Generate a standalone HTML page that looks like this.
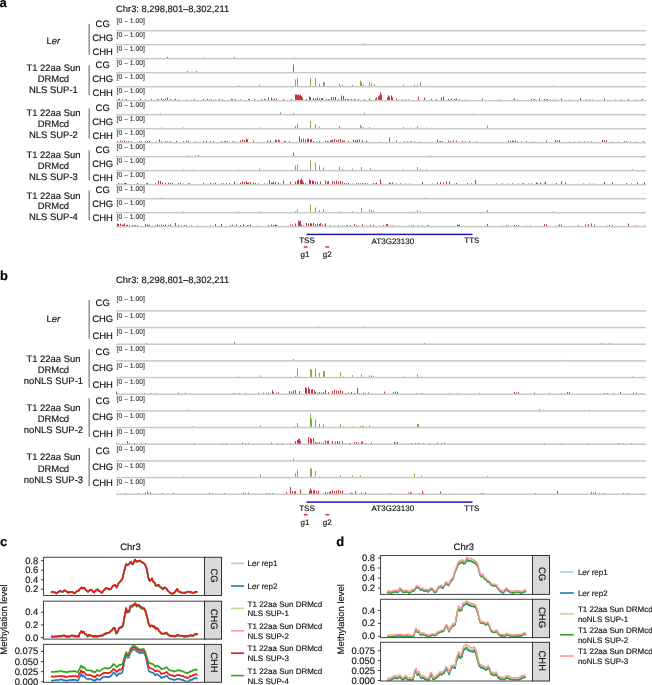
<!DOCTYPE html>
<html><head><meta charset="utf-8"><title>Figure</title>
<style>
html,body{margin:0;padding:0;background:#fff;}
body{width:652px;height:685px;overflow:hidden;}
svg{display:block;font-family:'Liberation Sans', Arial, Helvetica, sans-serif;text-rendering:geometricPrecision;}
</style></head><body>
<svg width="652" height="685" viewBox="0 0 652 685">
<rect width="652" height="685" fill="#fff"/>
<text x="-0.40" y="6.60" font-size="13" text-anchor="start" font-weight="bold" fill="#000" stroke="#000" stroke-width="0.15" >a</text>
<text x="0.00" y="279.60" font-size="13" text-anchor="start" font-weight="bold" fill="#000" stroke="#000" stroke-width="0.15" >b</text>
<text x="0.00" y="546.20" font-size="13" text-anchor="start" font-weight="bold" fill="#000" stroke="#000" stroke-width="0.15" >c</text>
<text x="336.20" y="546.20" font-size="13" text-anchor="start" font-weight="bold" fill="#000" stroke="#000" stroke-width="0.15" >d</text>
<text x="116.10" y="12.00" font-size="9.35" text-anchor="start" font-weight="normal" fill="#111" stroke="#111" stroke-width="0.15" >Chr3: 8,298,801–8,302,211</text>
<rect x="363.05" y="43.50" width="0.9" height="1.00" fill="#72ac26"/>
<rect x="167.05" y="57.00" width="0.9" height="1.50" fill="#c0222a"/>
<rect x="203.05" y="57.50" width="0.9" height="1.00" fill="#c0222a"/>
<rect x="234.05" y="57.00" width="0.9" height="1.50" fill="#c0222a"/>
<rect x="294.05" y="57.50" width="0.9" height="1.00" fill="#c0222a"/>
<rect x="187.05" y="71.00" width="0.9" height="1.50" fill="#1d8282"/>
<rect x="196.05" y="71.00" width="0.9" height="1.50" fill="#1d8282"/>
<rect x="293.05" y="64.50" width="0.9" height="8.00" fill="#1d8282"/>
<rect x="238.05" y="85.00" width="0.9" height="1.50" fill="#72ac26"/>
<rect x="259.05" y="84.50" width="0.9" height="2.00" fill="#72ac26"/>
<rect x="295.05" y="79.50" width="0.9" height="7.00" fill="#72ac26"/>
<rect x="297.05" y="78.00" width="0.9" height="8.50" fill="#72ac26"/>
<rect x="310.05" y="78.00" width="0.9" height="8.50" fill="#72ac26"/>
<rect x="315.05" y="78.00" width="0.9" height="8.50" fill="#72ac26"/>
<rect x="319.05" y="84.00" width="0.9" height="2.50" fill="#72ac26"/>
<rect x="323.05" y="81.50" width="0.9" height="5.00" fill="#72ac26"/>
<rect x="324.05" y="82.50" width="0.9" height="4.00" fill="#72ac26"/>
<rect x="339.05" y="83.50" width="0.9" height="3.00" fill="#72ac26"/>
<rect x="342.05" y="84.80" width="0.9" height="1.70" fill="#72ac26"/>
<rect x="352.05" y="84.80" width="0.9" height="1.70" fill="#72ac26"/>
<rect x="360.05" y="80.50" width="0.9" height="6.00" fill="#72ac26"/>
<rect x="361.05" y="82.50" width="0.9" height="4.00" fill="#72ac26"/>
<rect x="363.05" y="84.80" width="0.9" height="1.70" fill="#72ac26"/>
<rect x="369.05" y="81.70" width="0.9" height="4.80" fill="#72ac26"/>
<rect x="371.05" y="82.80" width="0.9" height="3.70" fill="#72ac26"/>
<rect x="374.05" y="84.00" width="0.9" height="2.50" fill="#72ac26"/>
<rect x="403.05" y="84.50" width="0.9" height="2.00" fill="#72ac26"/>
<rect x="414.05" y="84.50" width="0.9" height="2.00" fill="#72ac26"/>
<rect x="417.05" y="84.50" width="0.9" height="2.00" fill="#72ac26"/>
<rect x="420.05" y="82.50" width="0.9" height="4.00" fill="#72ac26"/>
<rect x="426.05" y="85.50" width="0.9" height="1.00" fill="#72ac26"/>
<rect x="553.05" y="85.50" width="0.9" height="1.00" fill="#72ac26"/>
<rect x="118.05" y="99.00" width="0.9" height="1.50" fill="#c0222a"/>
<rect x="122.05" y="99.30" width="0.9" height="1.20" fill="#c0222a"/>
<rect x="126.05" y="99.00" width="0.9" height="1.50" fill="#c0222a"/>
<rect x="145.05" y="99.30" width="0.9" height="1.20" fill="#c0222a"/>
<rect x="157.05" y="99.00" width="0.9" height="1.50" fill="#c0222a"/>
<rect x="161.05" y="98.50" width="0.9" height="2.00" fill="#c0222a"/>
<rect x="163.05" y="99.00" width="0.9" height="1.50" fill="#c0222a"/>
<rect x="165.05" y="98.50" width="0.9" height="2.00" fill="#c0222a"/>
<rect x="167.05" y="97.50" width="0.9" height="3.00" fill="#c0222a"/>
<rect x="178.05" y="99.30" width="0.9" height="1.20" fill="#c0222a"/>
<rect x="194.05" y="99.00" width="0.9" height="1.50" fill="#c0222a"/>
<rect x="203.05" y="99.00" width="0.9" height="1.50" fill="#c0222a"/>
<rect x="211.05" y="99.30" width="0.9" height="1.20" fill="#c0222a"/>
<rect x="219.05" y="99.00" width="0.9" height="1.50" fill="#c0222a"/>
<rect x="222.05" y="99.30" width="0.9" height="1.20" fill="#c0222a"/>
<rect x="232.05" y="99.00" width="0.9" height="1.50" fill="#c0222a"/>
<rect x="240.05" y="99.30" width="0.9" height="1.20" fill="#c0222a"/>
<rect x="248.05" y="99.00" width="0.9" height="1.50" fill="#c0222a"/>
<rect x="254.05" y="99.00" width="0.9" height="1.50" fill="#c0222a"/>
<rect x="264.05" y="99.00" width="0.9" height="1.50" fill="#c0222a"/>
<rect x="265.05" y="99.30" width="0.9" height="1.20" fill="#c0222a"/>
<rect x="268.05" y="97.50" width="0.9" height="3.00" fill="#c0222a"/>
<rect x="271.05" y="97.50" width="0.9" height="3.00" fill="#c0222a"/>
<rect x="274.05" y="98.50" width="0.9" height="2.00" fill="#c0222a"/>
<rect x="276.05" y="98.50" width="0.9" height="2.00" fill="#c0222a"/>
<rect x="283.05" y="99.00" width="0.9" height="1.50" fill="#c0222a"/>
<rect x="291.05" y="99.00" width="0.9" height="1.50" fill="#c0222a"/>
<rect x="295.05" y="94.50" width="0.9" height="6.00" fill="#c0222a"/>
<rect x="296.05" y="94.30" width="0.9" height="6.20" fill="#c0222a"/>
<rect x="297.05" y="95.00" width="0.9" height="5.50" fill="#c0222a"/>
<rect x="298.05" y="94.50" width="0.9" height="6.00" fill="#c0222a"/>
<rect x="299.05" y="95.50" width="0.9" height="5.00" fill="#c0222a"/>
<rect x="300.05" y="94.50" width="0.9" height="6.00" fill="#c0222a"/>
<rect x="301.05" y="96.00" width="0.9" height="4.50" fill="#c0222a"/>
<rect x="302.05" y="97.50" width="0.9" height="3.00" fill="#c0222a"/>
<rect x="309.05" y="96.50" width="0.9" height="4.00" fill="#c0222a"/>
<rect x="310.05" y="97.00" width="0.9" height="3.50" fill="#c0222a"/>
<rect x="313.05" y="98.00" width="0.9" height="2.50" fill="#c0222a"/>
<rect x="315.05" y="98.50" width="0.9" height="2.00" fill="#c0222a"/>
<rect x="317.05" y="97.50" width="0.9" height="3.00" fill="#c0222a"/>
<rect x="319.05" y="98.30" width="0.9" height="2.20" fill="#c0222a"/>
<rect x="321.05" y="98.00" width="0.9" height="2.50" fill="#c0222a"/>
<rect x="322.05" y="98.00" width="0.9" height="2.50" fill="#c0222a"/>
<rect x="326.05" y="99.00" width="0.9" height="1.50" fill="#c0222a"/>
<rect x="331.05" y="97.00" width="0.9" height="3.50" fill="#c0222a"/>
<rect x="333.05" y="97.50" width="0.9" height="3.00" fill="#c0222a"/>
<rect x="335.05" y="97.00" width="0.9" height="3.50" fill="#c0222a"/>
<rect x="338.05" y="99.00" width="0.9" height="1.50" fill="#c0222a"/>
<rect x="341.05" y="95.50" width="0.9" height="5.00" fill="#c0222a"/>
<rect x="343.05" y="96.00" width="0.9" height="4.50" fill="#c0222a"/>
<rect x="347.05" y="99.00" width="0.9" height="1.50" fill="#c0222a"/>
<rect x="351.05" y="99.00" width="0.9" height="1.50" fill="#c0222a"/>
<rect x="354.05" y="99.00" width="0.9" height="1.50" fill="#c0222a"/>
<rect x="358.05" y="99.00" width="0.9" height="1.50" fill="#c0222a"/>
<rect x="364.05" y="99.30" width="0.9" height="1.20" fill="#c0222a"/>
<rect x="369.05" y="99.00" width="0.9" height="1.50" fill="#c0222a"/>
<rect x="375.05" y="98.50" width="0.9" height="2.00" fill="#c0222a"/>
<rect x="376.05" y="97.50" width="0.9" height="3.00" fill="#c0222a"/>
<rect x="378.05" y="96.50" width="0.9" height="4.00" fill="#c0222a"/>
<rect x="379.05" y="95.50" width="0.9" height="5.00" fill="#c0222a"/>
<rect x="380.05" y="92.50" width="0.9" height="8.00" fill="#c0222a"/>
<rect x="381.05" y="94.50" width="0.9" height="6.00" fill="#c0222a"/>
<rect x="387.05" y="97.50" width="0.9" height="3.00" fill="#c0222a"/>
<rect x="388.05" y="95.50" width="0.9" height="5.00" fill="#c0222a"/>
<rect x="389.05" y="96.50" width="0.9" height="4.00" fill="#c0222a"/>
<rect x="391.05" y="95.50" width="0.9" height="5.00" fill="#c0222a"/>
<rect x="392.05" y="97.50" width="0.9" height="3.00" fill="#c0222a"/>
<rect x="396.05" y="98.50" width="0.9" height="2.00" fill="#c0222a"/>
<rect x="399.05" y="99.50" width="0.9" height="1.00" fill="#c0222a"/>
<rect x="402.05" y="99.30" width="0.9" height="1.20" fill="#c0222a"/>
<rect x="405.05" y="99.50" width="0.9" height="1.00" fill="#c0222a"/>
<rect x="408.05" y="99.30" width="0.9" height="1.20" fill="#c0222a"/>
<rect x="418.05" y="96.50" width="0.9" height="4.00" fill="#c0222a"/>
<rect x="424.05" y="97.50" width="0.9" height="3.00" fill="#c0222a"/>
<rect x="431.05" y="99.00" width="0.9" height="1.50" fill="#c0222a"/>
<rect x="436.05" y="99.00" width="0.9" height="1.50" fill="#c0222a"/>
<rect x="441.05" y="97.50" width="0.9" height="3.00" fill="#c0222a"/>
<rect x="443.05" y="96.50" width="0.9" height="4.00" fill="#c0222a"/>
<rect x="448.05" y="99.00" width="0.9" height="1.50" fill="#c0222a"/>
<rect x="451.05" y="98.50" width="0.9" height="2.00" fill="#c0222a"/>
<rect x="454.05" y="99.00" width="0.9" height="1.50" fill="#c0222a"/>
<rect x="456.05" y="98.50" width="0.9" height="2.00" fill="#c0222a"/>
<rect x="465.05" y="99.50" width="0.9" height="1.00" fill="#c0222a"/>
<rect x="482.05" y="98.50" width="0.9" height="2.00" fill="#c0222a"/>
<rect x="500.05" y="99.50" width="0.9" height="1.00" fill="#c0222a"/>
<rect x="514.05" y="98.50" width="0.9" height="2.00" fill="#c0222a"/>
<rect x="517.05" y="99.50" width="0.9" height="1.00" fill="#c0222a"/>
<rect x="531.05" y="99.00" width="0.9" height="1.50" fill="#c0222a"/>
<rect x="533.05" y="99.30" width="0.9" height="1.20" fill="#c0222a"/>
<rect x="534.05" y="99.00" width="0.9" height="1.50" fill="#c0222a"/>
<rect x="539.05" y="98.50" width="0.9" height="2.00" fill="#c0222a"/>
<rect x="544.05" y="99.00" width="0.9" height="1.50" fill="#c0222a"/>
<rect x="546.05" y="99.30" width="0.9" height="1.20" fill="#c0222a"/>
<rect x="547.05" y="99.00" width="0.9" height="1.50" fill="#c0222a"/>
<rect x="553.05" y="99.50" width="0.9" height="1.00" fill="#c0222a"/>
<rect x="556.05" y="99.50" width="0.9" height="1.00" fill="#c0222a"/>
<rect x="561.05" y="98.50" width="0.9" height="2.00" fill="#c0222a"/>
<rect x="569.05" y="99.50" width="0.9" height="1.00" fill="#c0222a"/>
<rect x="580.05" y="98.00" width="0.9" height="2.50" fill="#c0222a"/>
<rect x="586.05" y="99.50" width="0.9" height="1.00" fill="#c0222a"/>
<rect x="589.05" y="99.30" width="0.9" height="1.20" fill="#c0222a"/>
<rect x="592.05" y="99.50" width="0.9" height="1.00" fill="#c0222a"/>
<rect x="604.05" y="98.50" width="0.9" height="2.00" fill="#c0222a"/>
<rect x="615.05" y="99.50" width="0.9" height="1.00" fill="#c0222a"/>
<rect x="628.05" y="99.00" width="0.9" height="1.50" fill="#c0222a"/>
<rect x="635.05" y="99.50" width="0.9" height="1.00" fill="#c0222a"/>
<rect x="641.05" y="99.50" width="0.9" height="1.00" fill="#c0222a"/>
<rect x="125.05" y="99.61" width="0.9" height="0.89" fill="#c0222a"/>
<rect x="186.05" y="99.59" width="0.9" height="0.91" fill="#c0222a"/>
<rect x="272.05" y="99.66" width="0.9" height="0.84" fill="#c0222a"/>
<rect x="209.05" y="99.37" width="0.9" height="1.13" fill="#c0222a"/>
<rect x="264.05" y="99.54" width="0.9" height="0.96" fill="#c0222a"/>
<rect x="174.05" y="99.37" width="0.9" height="1.13" fill="#c0222a"/>
<rect x="158.05" y="99.70" width="0.9" height="0.80" fill="#c0222a"/>
<rect x="191.05" y="99.61" width="0.9" height="0.89" fill="#c0222a"/>
<rect x="219.05" y="99.63" width="0.9" height="0.87" fill="#c0222a"/>
<rect x="170.05" y="99.25" width="0.9" height="1.25" fill="#c0222a"/>
<rect x="273.05" y="99.61" width="0.9" height="0.89" fill="#c0222a"/>
<rect x="140.05" y="98.91" width="0.9" height="1.59" fill="#c0222a"/>
<rect x="119.05" y="98.79" width="0.9" height="1.71" fill="#c0222a"/>
<rect x="215.05" y="99.43" width="0.9" height="1.07" fill="#c0222a"/>
<rect x="261.05" y="98.93" width="0.9" height="1.57" fill="#c0222a"/>
<rect x="175.05" y="98.90" width="0.9" height="1.60" fill="#c0222a"/>
<rect x="151.05" y="99.09" width="0.9" height="1.41" fill="#c0222a"/>
<rect x="207.05" y="98.89" width="0.9" height="1.61" fill="#c0222a"/>
<rect x="170.05" y="99.30" width="0.9" height="1.20" fill="#c0222a"/>
<rect x="249.05" y="99.19" width="0.9" height="1.31" fill="#c0222a"/>
<rect x="235.05" y="99.06" width="0.9" height="1.44" fill="#c0222a"/>
<rect x="231.05" y="98.81" width="0.9" height="1.69" fill="#c0222a"/>
<rect x="341.05" y="98.76" width="0.9" height="1.74" fill="#c0222a"/>
<rect x="331.05" y="99.66" width="0.9" height="0.84" fill="#c0222a"/>
<rect x="364.05" y="99.45" width="0.9" height="1.05" fill="#c0222a"/>
<rect x="369.05" y="98.42" width="0.9" height="2.08" fill="#c0222a"/>
<rect x="355.05" y="99.46" width="0.9" height="1.04" fill="#c0222a"/>
<rect x="328.05" y="99.15" width="0.9" height="1.35" fill="#c0222a"/>
<rect x="306.05" y="99.06" width="0.9" height="1.44" fill="#c0222a"/>
<rect x="348.05" y="99.23" width="0.9" height="1.27" fill="#c0222a"/>
<rect x="316.05" y="99.58" width="0.9" height="0.92" fill="#c0222a"/>
<rect x="353.05" y="99.68" width="0.9" height="0.82" fill="#c0222a"/>
<rect x="329.05" y="99.38" width="0.9" height="1.12" fill="#c0222a"/>
<rect x="345.05" y="98.69" width="0.9" height="1.81" fill="#c0222a"/>
<rect x="621.05" y="99.25" width="0.9" height="1.25" fill="#c0222a"/>
<rect x="642.05" y="99.03" width="0.9" height="1.47" fill="#c0222a"/>
<rect x="550.05" y="99.54" width="0.9" height="0.96" fill="#c0222a"/>
<rect x="513.05" y="99.58" width="0.9" height="0.92" fill="#c0222a"/>
<rect x="642.05" y="99.39" width="0.9" height="1.11" fill="#c0222a"/>
<rect x="581.05" y="99.67" width="0.9" height="0.83" fill="#c0222a"/>
<rect x="424.05" y="99.56" width="0.9" height="0.94" fill="#c0222a"/>
<rect x="455.05" y="99.45" width="0.9" height="1.05" fill="#c0222a"/>
<rect x="459.05" y="99.40" width="0.9" height="1.10" fill="#c0222a"/>
<rect x="497.05" y="99.62" width="0.9" height="0.88" fill="#c0222a"/>
<rect x="160.05" y="113.50" width="0.9" height="1.00" fill="#1d8282"/>
<rect x="280.05" y="112.50" width="0.9" height="2.00" fill="#1d8282"/>
<rect x="293.05" y="113.00" width="0.9" height="1.50" fill="#1d8282"/>
<rect x="364.05" y="113.00" width="0.9" height="1.50" fill="#1d8282"/>
<rect x="473.05" y="113.50" width="0.9" height="1.00" fill="#1d8282"/>
<rect x="161.05" y="127.50" width="0.9" height="1.00" fill="#72ac26"/>
<rect x="183.05" y="127.50" width="0.9" height="1.00" fill="#72ac26"/>
<rect x="259.05" y="127.50" width="0.9" height="1.00" fill="#72ac26"/>
<rect x="295.05" y="126.00" width="0.9" height="2.50" fill="#72ac26"/>
<rect x="297.05" y="123.50" width="0.9" height="5.00" fill="#72ac26"/>
<rect x="310.05" y="121.00" width="0.9" height="7.50" fill="#72ac26"/>
<rect x="315.05" y="124.00" width="0.9" height="4.50" fill="#72ac26"/>
<rect x="319.05" y="126.50" width="0.9" height="2.00" fill="#72ac26"/>
<rect x="339.05" y="126.00" width="0.9" height="2.50" fill="#72ac26"/>
<rect x="360.05" y="125.00" width="0.9" height="3.50" fill="#72ac26"/>
<rect x="361.05" y="126.50" width="0.9" height="2.00" fill="#72ac26"/>
<rect x="363.05" y="127.00" width="0.9" height="1.50" fill="#72ac26"/>
<rect x="369.05" y="127.00" width="0.9" height="1.50" fill="#72ac26"/>
<rect x="403.05" y="127.00" width="0.9" height="1.50" fill="#72ac26"/>
<rect x="410.05" y="127.50" width="0.9" height="1.00" fill="#72ac26"/>
<rect x="417.05" y="126.50" width="0.9" height="2.00" fill="#72ac26"/>
<rect x="426.05" y="127.50" width="0.9" height="1.00" fill="#72ac26"/>
<rect x="487.05" y="125.50" width="0.9" height="3.00" fill="#72ac26"/>
<rect x="120.05" y="140.50" width="0.9" height="2.00" fill="#c0222a"/>
<rect x="122.05" y="141.00" width="0.9" height="1.50" fill="#c0222a"/>
<rect x="124.05" y="140.50" width="0.9" height="2.00" fill="#c0222a"/>
<rect x="145.05" y="141.00" width="0.9" height="1.50" fill="#c0222a"/>
<rect x="147.05" y="141.30" width="0.9" height="1.20" fill="#c0222a"/>
<rect x="149.05" y="141.00" width="0.9" height="1.50" fill="#c0222a"/>
<rect x="159.05" y="139.50" width="0.9" height="3.00" fill="#c0222a"/>
<rect x="165.05" y="141.00" width="0.9" height="1.50" fill="#c0222a"/>
<rect x="167.05" y="141.30" width="0.9" height="1.20" fill="#c0222a"/>
<rect x="170.05" y="141.00" width="0.9" height="1.50" fill="#c0222a"/>
<rect x="176.05" y="141.30" width="0.9" height="1.20" fill="#c0222a"/>
<rect x="195.05" y="141.30" width="0.9" height="1.20" fill="#c0222a"/>
<rect x="203.05" y="141.00" width="0.9" height="1.50" fill="#c0222a"/>
<rect x="206.05" y="141.30" width="0.9" height="1.20" fill="#c0222a"/>
<rect x="210.05" y="141.00" width="0.9" height="1.50" fill="#c0222a"/>
<rect x="213.05" y="141.30" width="0.9" height="1.20" fill="#c0222a"/>
<rect x="221.05" y="141.00" width="0.9" height="1.50" fill="#c0222a"/>
<rect x="224.05" y="141.30" width="0.9" height="1.20" fill="#c0222a"/>
<rect x="227.05" y="141.00" width="0.9" height="1.50" fill="#c0222a"/>
<rect x="232.05" y="141.30" width="0.9" height="1.20" fill="#c0222a"/>
<rect x="240.05" y="140.50" width="0.9" height="2.00" fill="#c0222a"/>
<rect x="242.05" y="139.50" width="0.9" height="3.00" fill="#c0222a"/>
<rect x="244.05" y="140.00" width="0.9" height="2.50" fill="#c0222a"/>
<rect x="246.05" y="138.50" width="0.9" height="4.00" fill="#c0222a"/>
<rect x="247.05" y="139.50" width="0.9" height="3.00" fill="#c0222a"/>
<rect x="253.05" y="140.50" width="0.9" height="2.00" fill="#c0222a"/>
<rect x="267.05" y="140.50" width="0.9" height="2.00" fill="#c0222a"/>
<rect x="270.05" y="140.50" width="0.9" height="2.00" fill="#c0222a"/>
<rect x="275.05" y="139.50" width="0.9" height="3.00" fill="#c0222a"/>
<rect x="276.05" y="140.00" width="0.9" height="2.50" fill="#c0222a"/>
<rect x="278.05" y="139.50" width="0.9" height="3.00" fill="#c0222a"/>
<rect x="279.05" y="140.50" width="0.9" height="2.00" fill="#c0222a"/>
<rect x="284.05" y="141.00" width="0.9" height="1.50" fill="#c0222a"/>
<rect x="289.05" y="141.00" width="0.9" height="1.50" fill="#c0222a"/>
<rect x="299.05" y="136.50" width="0.9" height="6.00" fill="#c0222a"/>
<rect x="301.05" y="139.00" width="0.9" height="3.50" fill="#c0222a"/>
<rect x="303.05" y="138.50" width="0.9" height="4.00" fill="#c0222a"/>
<rect x="305.05" y="139.50" width="0.9" height="3.00" fill="#c0222a"/>
<rect x="307.05" y="139.00" width="0.9" height="3.50" fill="#c0222a"/>
<rect x="308.05" y="138.50" width="0.9" height="4.00" fill="#c0222a"/>
<rect x="310.05" y="139.50" width="0.9" height="3.00" fill="#c0222a"/>
<rect x="311.05" y="139.00" width="0.9" height="3.50" fill="#c0222a"/>
<rect x="313.05" y="141.00" width="0.9" height="1.50" fill="#c0222a"/>
<rect x="319.05" y="141.00" width="0.9" height="1.50" fill="#c0222a"/>
<rect x="325.05" y="140.50" width="0.9" height="2.00" fill="#c0222a"/>
<rect x="327.05" y="141.00" width="0.9" height="1.50" fill="#c0222a"/>
<rect x="330.05" y="140.50" width="0.9" height="2.00" fill="#c0222a"/>
<rect x="332.05" y="139.50" width="0.9" height="3.00" fill="#c0222a"/>
<rect x="334.05" y="139.00" width="0.9" height="3.50" fill="#c0222a"/>
<rect x="336.05" y="140.00" width="0.9" height="2.50" fill="#c0222a"/>
<rect x="338.05" y="139.50" width="0.9" height="3.00" fill="#c0222a"/>
<rect x="340.05" y="139.00" width="0.9" height="3.50" fill="#c0222a"/>
<rect x="342.05" y="140.50" width="0.9" height="2.00" fill="#c0222a"/>
<rect x="348.05" y="141.00" width="0.9" height="1.50" fill="#c0222a"/>
<rect x="353.05" y="139.50" width="0.9" height="3.00" fill="#c0222a"/>
<rect x="355.05" y="140.00" width="0.9" height="2.50" fill="#c0222a"/>
<rect x="357.05" y="139.50" width="0.9" height="3.00" fill="#c0222a"/>
<rect x="359.05" y="139.50" width="0.9" height="3.00" fill="#c0222a"/>
<rect x="366.05" y="141.00" width="0.9" height="1.50" fill="#c0222a"/>
<rect x="389.05" y="137.50" width="0.9" height="5.00" fill="#c0222a"/>
<rect x="396.05" y="140.50" width="0.9" height="2.00" fill="#c0222a"/>
<rect x="404.05" y="141.50" width="0.9" height="1.00" fill="#c0222a"/>
<rect x="407.05" y="141.30" width="0.9" height="1.20" fill="#c0222a"/>
<rect x="410.05" y="141.50" width="0.9" height="1.00" fill="#c0222a"/>
<rect x="414.05" y="141.30" width="0.9" height="1.20" fill="#c0222a"/>
<rect x="419.05" y="141.50" width="0.9" height="1.00" fill="#c0222a"/>
<rect x="437.05" y="139.50" width="0.9" height="3.00" fill="#c0222a"/>
<rect x="440.05" y="141.00" width="0.9" height="1.50" fill="#c0222a"/>
<rect x="442.05" y="141.00" width="0.9" height="1.50" fill="#c0222a"/>
<rect x="448.05" y="140.50" width="0.9" height="2.00" fill="#c0222a"/>
<rect x="450.05" y="141.00" width="0.9" height="1.50" fill="#c0222a"/>
<rect x="453.05" y="140.50" width="0.9" height="2.00" fill="#c0222a"/>
<rect x="456.05" y="140.50" width="0.9" height="2.00" fill="#c0222a"/>
<rect x="462.05" y="141.00" width="0.9" height="1.50" fill="#c0222a"/>
<rect x="465.05" y="141.30" width="0.9" height="1.20" fill="#c0222a"/>
<rect x="469.05" y="141.00" width="0.9" height="1.50" fill="#c0222a"/>
<rect x="508.05" y="140.50" width="0.9" height="2.00" fill="#c0222a"/>
<rect x="510.05" y="141.00" width="0.9" height="1.50" fill="#c0222a"/>
<rect x="512.05" y="140.50" width="0.9" height="2.00" fill="#c0222a"/>
<rect x="515.05" y="140.50" width="0.9" height="2.00" fill="#c0222a"/>
<rect x="517.05" y="141.50" width="0.9" height="1.00" fill="#c0222a"/>
<rect x="521.05" y="141.50" width="0.9" height="1.00" fill="#c0222a"/>
<rect x="531.05" y="141.50" width="0.9" height="1.00" fill="#c0222a"/>
<rect x="534.05" y="141.50" width="0.9" height="1.00" fill="#c0222a"/>
<rect x="546.05" y="140.50" width="0.9" height="2.00" fill="#c0222a"/>
<rect x="555.05" y="140.00" width="0.9" height="2.50" fill="#c0222a"/>
<rect x="557.05" y="140.50" width="0.9" height="2.00" fill="#c0222a"/>
<rect x="559.05" y="140.00" width="0.9" height="2.50" fill="#c0222a"/>
<rect x="569.05" y="141.50" width="0.9" height="1.00" fill="#c0222a"/>
<rect x="574.05" y="141.50" width="0.9" height="1.00" fill="#c0222a"/>
<rect x="579.05" y="141.30" width="0.9" height="1.20" fill="#c0222a"/>
<rect x="584.05" y="141.50" width="0.9" height="1.00" fill="#c0222a"/>
<rect x="591.05" y="141.50" width="0.9" height="1.00" fill="#c0222a"/>
<rect x="602.05" y="140.00" width="0.9" height="2.50" fill="#c0222a"/>
<rect x="604.05" y="140.50" width="0.9" height="2.00" fill="#c0222a"/>
<rect x="606.05" y="140.00" width="0.9" height="2.50" fill="#c0222a"/>
<rect x="612.05" y="141.50" width="0.9" height="1.00" fill="#c0222a"/>
<rect x="618.05" y="141.50" width="0.9" height="1.00" fill="#c0222a"/>
<rect x="624.05" y="141.30" width="0.9" height="1.20" fill="#c0222a"/>
<rect x="630.05" y="141.50" width="0.9" height="1.00" fill="#c0222a"/>
<rect x="636.05" y="141.50" width="0.9" height="1.00" fill="#c0222a"/>
<rect x="643.05" y="141.50" width="0.9" height="1.00" fill="#c0222a"/>
<rect x="126.05" y="141.34" width="0.9" height="1.16" fill="#c0222a"/>
<rect x="131.05" y="141.27" width="0.9" height="1.23" fill="#c0222a"/>
<rect x="117.05" y="141.16" width="0.9" height="1.34" fill="#c0222a"/>
<rect x="128.05" y="141.01" width="0.9" height="1.49" fill="#c0222a"/>
<rect x="186.05" y="140.71" width="0.9" height="1.79" fill="#c0222a"/>
<rect x="161.05" y="141.23" width="0.9" height="1.27" fill="#c0222a"/>
<rect x="246.05" y="141.37" width="0.9" height="1.13" fill="#c0222a"/>
<rect x="176.05" y="141.06" width="0.9" height="1.44" fill="#c0222a"/>
<rect x="284.05" y="140.82" width="0.9" height="1.68" fill="#c0222a"/>
<rect x="188.05" y="140.98" width="0.9" height="1.52" fill="#c0222a"/>
<rect x="234.05" y="141.33" width="0.9" height="1.17" fill="#c0222a"/>
<rect x="156.05" y="141.62" width="0.9" height="0.88" fill="#c0222a"/>
<rect x="268.05" y="141.64" width="0.9" height="0.86" fill="#c0222a"/>
<rect x="206.05" y="141.16" width="0.9" height="1.34" fill="#c0222a"/>
<rect x="141.05" y="141.04" width="0.9" height="1.46" fill="#c0222a"/>
<rect x="275.05" y="140.92" width="0.9" height="1.58" fill="#c0222a"/>
<rect x="183.05" y="141.57" width="0.9" height="0.93" fill="#c0222a"/>
<rect x="285.05" y="141.18" width="0.9" height="1.32" fill="#c0222a"/>
<rect x="225.05" y="140.90" width="0.9" height="1.60" fill="#c0222a"/>
<rect x="183.05" y="141.64" width="0.9" height="0.86" fill="#c0222a"/>
<rect x="139.05" y="141.03" width="0.9" height="1.47" fill="#c0222a"/>
<rect x="176.05" y="140.83" width="0.9" height="1.67" fill="#c0222a"/>
<rect x="362.05" y="140.33" width="0.9" height="2.17" fill="#c0222a"/>
<rect x="356.05" y="141.27" width="0.9" height="1.23" fill="#c0222a"/>
<rect x="367.05" y="141.66" width="0.9" height="0.84" fill="#c0222a"/>
<rect x="344.05" y="140.48" width="0.9" height="2.02" fill="#c0222a"/>
<rect x="343.05" y="141.51" width="0.9" height="0.99" fill="#c0222a"/>
<rect x="342.05" y="140.94" width="0.9" height="1.56" fill="#c0222a"/>
<rect x="331.05" y="140.45" width="0.9" height="2.05" fill="#c0222a"/>
<rect x="328.05" y="141.32" width="0.9" height="1.18" fill="#c0222a"/>
<rect x="343.05" y="141.42" width="0.9" height="1.08" fill="#c0222a"/>
<rect x="327.05" y="141.14" width="0.9" height="1.36" fill="#c0222a"/>
<rect x="379.05" y="141.59" width="0.9" height="0.91" fill="#c0222a"/>
<rect x="316.05" y="141.42" width="0.9" height="1.08" fill="#c0222a"/>
<rect x="643.05" y="141.08" width="0.9" height="1.42" fill="#c0222a"/>
<rect x="439.05" y="141.30" width="0.9" height="1.20" fill="#c0222a"/>
<rect x="411.05" y="141.48" width="0.9" height="1.02" fill="#c0222a"/>
<rect x="476.05" y="141.32" width="0.9" height="1.18" fill="#c0222a"/>
<rect x="626.05" y="141.13" width="0.9" height="1.37" fill="#c0222a"/>
<rect x="526.05" y="141.15" width="0.9" height="1.35" fill="#c0222a"/>
<rect x="513.05" y="141.19" width="0.9" height="1.31" fill="#c0222a"/>
<rect x="588.05" y="141.52" width="0.9" height="0.98" fill="#c0222a"/>
<rect x="602.05" y="141.30" width="0.9" height="1.20" fill="#c0222a"/>
<rect x="513.05" y="141.42" width="0.9" height="1.08" fill="#c0222a"/>
<rect x="187.05" y="155.50" width="0.9" height="1.00" fill="#1d8282"/>
<rect x="195.05" y="155.50" width="0.9" height="1.00" fill="#1d8282"/>
<rect x="198.05" y="155.00" width="0.9" height="1.50" fill="#1d8282"/>
<rect x="293.05" y="152.50" width="0.9" height="4.00" fill="#1d8282"/>
<rect x="430.05" y="155.50" width="0.9" height="1.00" fill="#1d8282"/>
<rect x="183.05" y="169.50" width="0.9" height="1.00" fill="#72ac26"/>
<rect x="193.05" y="169.50" width="0.9" height="1.00" fill="#72ac26"/>
<rect x="238.05" y="169.50" width="0.9" height="1.00" fill="#72ac26"/>
<rect x="259.05" y="168.50" width="0.9" height="2.00" fill="#72ac26"/>
<rect x="295.05" y="165.50" width="0.9" height="5.00" fill="#72ac26"/>
<rect x="297.05" y="164.50" width="0.9" height="6.00" fill="#72ac26"/>
<rect x="310.05" y="160.50" width="0.9" height="10.00" fill="#72ac26"/>
<rect x="315.05" y="162.50" width="0.9" height="8.00" fill="#72ac26"/>
<rect x="319.05" y="165.50" width="0.9" height="5.00" fill="#72ac26"/>
<rect x="323.05" y="167.50" width="0.9" height="3.00" fill="#72ac26"/>
<rect x="339.05" y="166.50" width="0.9" height="4.00" fill="#72ac26"/>
<rect x="342.05" y="169.00" width="0.9" height="1.50" fill="#72ac26"/>
<rect x="352.05" y="168.50" width="0.9" height="2.00" fill="#72ac26"/>
<rect x="361.05" y="167.00" width="0.9" height="3.50" fill="#72ac26"/>
<rect x="370.05" y="168.00" width="0.9" height="2.50" fill="#72ac26"/>
<rect x="374.05" y="169.50" width="0.9" height="1.00" fill="#72ac26"/>
<rect x="403.05" y="169.00" width="0.9" height="1.50" fill="#72ac26"/>
<rect x="417.05" y="167.00" width="0.9" height="3.50" fill="#72ac26"/>
<rect x="420.05" y="169.00" width="0.9" height="1.50" fill="#72ac26"/>
<rect x="426.05" y="169.00" width="0.9" height="1.50" fill="#72ac26"/>
<rect x="632.05" y="169.00" width="0.9" height="1.50" fill="#72ac26"/>
<rect x="118.05" y="183.00" width="0.9" height="1.50" fill="#c0222a"/>
<rect x="121.05" y="183.30" width="0.9" height="1.20" fill="#c0222a"/>
<rect x="124.05" y="183.00" width="0.9" height="1.50" fill="#c0222a"/>
<rect x="158.05" y="180.50" width="0.9" height="4.00" fill="#c0222a"/>
<rect x="160.05" y="181.00" width="0.9" height="3.50" fill="#c0222a"/>
<rect x="162.05" y="182.50" width="0.9" height="2.00" fill="#c0222a"/>
<rect x="165.05" y="183.00" width="0.9" height="1.50" fill="#c0222a"/>
<rect x="168.05" y="182.50" width="0.9" height="2.00" fill="#c0222a"/>
<rect x="170.05" y="183.00" width="0.9" height="1.50" fill="#c0222a"/>
<rect x="188.05" y="183.30" width="0.9" height="1.20" fill="#c0222a"/>
<rect x="210.05" y="183.00" width="0.9" height="1.50" fill="#c0222a"/>
<rect x="213.05" y="183.30" width="0.9" height="1.20" fill="#c0222a"/>
<rect x="215.05" y="183.00" width="0.9" height="1.50" fill="#c0222a"/>
<rect x="223.05" y="183.30" width="0.9" height="1.20" fill="#c0222a"/>
<rect x="226.05" y="183.00" width="0.9" height="1.50" fill="#c0222a"/>
<rect x="229.05" y="183.30" width="0.9" height="1.20" fill="#c0222a"/>
<rect x="234.05" y="181.50" width="0.9" height="3.00" fill="#c0222a"/>
<rect x="240.05" y="182.50" width="0.9" height="2.00" fill="#c0222a"/>
<rect x="242.05" y="181.50" width="0.9" height="3.00" fill="#c0222a"/>
<rect x="244.05" y="182.00" width="0.9" height="2.50" fill="#c0222a"/>
<rect x="246.05" y="181.00" width="0.9" height="3.50" fill="#c0222a"/>
<rect x="248.05" y="182.50" width="0.9" height="2.00" fill="#c0222a"/>
<rect x="250.05" y="182.00" width="0.9" height="2.50" fill="#c0222a"/>
<rect x="253.05" y="182.50" width="0.9" height="2.00" fill="#c0222a"/>
<rect x="255.05" y="183.00" width="0.9" height="1.50" fill="#c0222a"/>
<rect x="264.05" y="183.50" width="0.9" height="1.00" fill="#c0222a"/>
<rect x="267.05" y="183.50" width="0.9" height="1.00" fill="#c0222a"/>
<rect x="269.05" y="180.00" width="0.9" height="4.50" fill="#c0222a"/>
<rect x="271.05" y="182.50" width="0.9" height="2.00" fill="#c0222a"/>
<rect x="273.05" y="181.50" width="0.9" height="3.00" fill="#c0222a"/>
<rect x="275.05" y="182.00" width="0.9" height="2.50" fill="#c0222a"/>
<rect x="278.05" y="182.50" width="0.9" height="2.00" fill="#c0222a"/>
<rect x="283.05" y="180.50" width="0.9" height="4.00" fill="#c0222a"/>
<rect x="290.05" y="181.50" width="0.9" height="3.00" fill="#c0222a"/>
<rect x="295.05" y="181.50" width="0.9" height="3.00" fill="#c0222a"/>
<rect x="297.05" y="180.50" width="0.9" height="4.00" fill="#c0222a"/>
<rect x="298.05" y="179.50" width="0.9" height="5.00" fill="#c0222a"/>
<rect x="300.05" y="180.00" width="0.9" height="4.50" fill="#c0222a"/>
<rect x="301.05" y="178.50" width="0.9" height="6.00" fill="#c0222a"/>
<rect x="302.05" y="180.50" width="0.9" height="4.00" fill="#c0222a"/>
<rect x="305.05" y="183.00" width="0.9" height="1.50" fill="#c0222a"/>
<rect x="309.05" y="179.50" width="0.9" height="5.00" fill="#c0222a"/>
<rect x="310.05" y="180.00" width="0.9" height="4.50" fill="#c0222a"/>
<rect x="312.05" y="180.50" width="0.9" height="4.00" fill="#c0222a"/>
<rect x="313.05" y="181.00" width="0.9" height="3.50" fill="#c0222a"/>
<rect x="315.05" y="181.50" width="0.9" height="3.00" fill="#c0222a"/>
<rect x="317.05" y="182.00" width="0.9" height="2.50" fill="#c0222a"/>
<rect x="320.05" y="181.50" width="0.9" height="3.00" fill="#c0222a"/>
<rect x="325.05" y="180.50" width="0.9" height="4.00" fill="#c0222a"/>
<rect x="327.05" y="181.50" width="0.9" height="3.00" fill="#c0222a"/>
<rect x="328.05" y="181.00" width="0.9" height="3.50" fill="#c0222a"/>
<rect x="332.05" y="181.00" width="0.9" height="3.50" fill="#c0222a"/>
<rect x="334.05" y="181.50" width="0.9" height="3.00" fill="#c0222a"/>
<rect x="336.05" y="180.50" width="0.9" height="4.00" fill="#c0222a"/>
<rect x="338.05" y="181.50" width="0.9" height="3.00" fill="#c0222a"/>
<rect x="340.05" y="181.00" width="0.9" height="3.50" fill="#c0222a"/>
<rect x="342.05" y="181.50" width="0.9" height="3.00" fill="#c0222a"/>
<rect x="344.05" y="183.00" width="0.9" height="1.50" fill="#c0222a"/>
<rect x="346.05" y="183.30" width="0.9" height="1.20" fill="#c0222a"/>
<rect x="348.05" y="183.00" width="0.9" height="1.50" fill="#c0222a"/>
<rect x="352.05" y="183.50" width="0.9" height="1.00" fill="#c0222a"/>
<rect x="356.05" y="183.30" width="0.9" height="1.20" fill="#c0222a"/>
<rect x="360.05" y="183.50" width="0.9" height="1.00" fill="#c0222a"/>
<rect x="364.05" y="183.50" width="0.9" height="1.00" fill="#c0222a"/>
<rect x="367.05" y="183.30" width="0.9" height="1.20" fill="#c0222a"/>
<rect x="380.05" y="179.50" width="0.9" height="5.00" fill="#c0222a"/>
<rect x="389.05" y="182.50" width="0.9" height="2.00" fill="#c0222a"/>
<rect x="390.05" y="183.00" width="0.9" height="1.50" fill="#c0222a"/>
<rect x="392.05" y="182.50" width="0.9" height="2.00" fill="#c0222a"/>
<rect x="396.05" y="183.50" width="0.9" height="1.00" fill="#c0222a"/>
<rect x="400.05" y="183.30" width="0.9" height="1.20" fill="#c0222a"/>
<rect x="405.05" y="183.50" width="0.9" height="1.00" fill="#c0222a"/>
<rect x="409.05" y="183.50" width="0.9" height="1.00" fill="#c0222a"/>
<rect x="422.05" y="182.00" width="0.9" height="2.50" fill="#c0222a"/>
<rect x="437.05" y="182.50" width="0.9" height="2.00" fill="#c0222a"/>
<rect x="440.05" y="182.00" width="0.9" height="2.50" fill="#c0222a"/>
<rect x="443.05" y="182.50" width="0.9" height="2.00" fill="#c0222a"/>
<rect x="446.05" y="181.50" width="0.9" height="3.00" fill="#c0222a"/>
<rect x="449.05" y="181.50" width="0.9" height="3.00" fill="#c0222a"/>
<rect x="456.05" y="183.00" width="0.9" height="1.50" fill="#c0222a"/>
<rect x="475.05" y="180.00" width="0.9" height="4.50" fill="#c0222a"/>
<rect x="502.05" y="183.50" width="0.9" height="1.00" fill="#c0222a"/>
<rect x="507.05" y="183.50" width="0.9" height="1.00" fill="#c0222a"/>
<rect x="512.05" y="183.30" width="0.9" height="1.20" fill="#c0222a"/>
<rect x="518.05" y="183.50" width="0.9" height="1.00" fill="#c0222a"/>
<rect x="522.05" y="183.50" width="0.9" height="1.00" fill="#c0222a"/>
<rect x="528.05" y="183.50" width="0.9" height="1.00" fill="#c0222a"/>
<rect x="531.05" y="183.50" width="0.9" height="1.00" fill="#c0222a"/>
<rect x="536.05" y="182.50" width="0.9" height="2.00" fill="#c0222a"/>
<rect x="540.05" y="182.50" width="0.9" height="2.00" fill="#c0222a"/>
<rect x="545.05" y="181.50" width="0.9" height="3.00" fill="#c0222a"/>
<rect x="556.05" y="183.00" width="0.9" height="1.50" fill="#c0222a"/>
<rect x="561.05" y="181.50" width="0.9" height="3.00" fill="#c0222a"/>
<rect x="565.05" y="182.50" width="0.9" height="2.00" fill="#c0222a"/>
<rect x="583.05" y="183.50" width="0.9" height="1.00" fill="#c0222a"/>
<rect x="589.05" y="183.50" width="0.9" height="1.00" fill="#c0222a"/>
<rect x="593.05" y="183.50" width="0.9" height="1.00" fill="#c0222a"/>
<rect x="604.05" y="182.00" width="0.9" height="2.50" fill="#c0222a"/>
<rect x="612.05" y="182.50" width="0.9" height="2.00" fill="#c0222a"/>
<rect x="631.05" y="183.50" width="0.9" height="1.00" fill="#c0222a"/>
<rect x="637.05" y="182.50" width="0.9" height="2.00" fill="#c0222a"/>
<rect x="644.05" y="182.50" width="0.9" height="2.00" fill="#c0222a"/>
<rect x="155.05" y="183.20" width="0.9" height="1.30" fill="#c0222a"/>
<rect x="137.05" y="183.07" width="0.9" height="1.43" fill="#c0222a"/>
<rect x="272.05" y="182.91" width="0.9" height="1.59" fill="#c0222a"/>
<rect x="221.05" y="183.21" width="0.9" height="1.29" fill="#c0222a"/>
<rect x="237.05" y="183.58" width="0.9" height="0.92" fill="#c0222a"/>
<rect x="125.05" y="182.84" width="0.9" height="1.66" fill="#c0222a"/>
<rect x="178.05" y="183.03" width="0.9" height="1.47" fill="#c0222a"/>
<rect x="189.05" y="183.34" width="0.9" height="1.16" fill="#c0222a"/>
<rect x="250.05" y="183.36" width="0.9" height="1.14" fill="#c0222a"/>
<rect x="247.05" y="182.88" width="0.9" height="1.62" fill="#c0222a"/>
<rect x="147.05" y="182.72" width="0.9" height="1.78" fill="#c0222a"/>
<rect x="126.05" y="183.29" width="0.9" height="1.21" fill="#c0222a"/>
<rect x="203.05" y="182.87" width="0.9" height="1.63" fill="#c0222a"/>
<rect x="146.05" y="183.14" width="0.9" height="1.36" fill="#c0222a"/>
<rect x="180.05" y="182.78" width="0.9" height="1.72" fill="#c0222a"/>
<rect x="137.05" y="183.43" width="0.9" height="1.07" fill="#c0222a"/>
<rect x="258.05" y="183.38" width="0.9" height="1.12" fill="#c0222a"/>
<rect x="280.05" y="183.65" width="0.9" height="0.85" fill="#c0222a"/>
<rect x="183.05" y="183.59" width="0.9" height="0.91" fill="#c0222a"/>
<rect x="215.05" y="182.74" width="0.9" height="1.76" fill="#c0222a"/>
<rect x="172.05" y="183.05" width="0.9" height="1.45" fill="#c0222a"/>
<rect x="162.05" y="183.26" width="0.9" height="1.24" fill="#c0222a"/>
<rect x="348.05" y="183.35" width="0.9" height="1.15" fill="#c0222a"/>
<rect x="358.05" y="183.00" width="0.9" height="1.50" fill="#c0222a"/>
<rect x="376.05" y="183.31" width="0.9" height="1.19" fill="#c0222a"/>
<rect x="381.05" y="183.44" width="0.9" height="1.06" fill="#c0222a"/>
<rect x="301.05" y="182.78" width="0.9" height="1.72" fill="#c0222a"/>
<rect x="362.05" y="183.03" width="0.9" height="1.47" fill="#c0222a"/>
<rect x="303.05" y="182.30" width="0.9" height="2.20" fill="#c0222a"/>
<rect x="312.05" y="182.48" width="0.9" height="2.02" fill="#c0222a"/>
<rect x="375.05" y="183.39" width="0.9" height="1.11" fill="#c0222a"/>
<rect x="373.05" y="183.05" width="0.9" height="1.45" fill="#c0222a"/>
<rect x="376.05" y="182.46" width="0.9" height="2.04" fill="#c0222a"/>
<rect x="365.05" y="183.30" width="0.9" height="1.20" fill="#c0222a"/>
<rect x="537.05" y="183.01" width="0.9" height="1.49" fill="#c0222a"/>
<rect x="471.05" y="183.43" width="0.9" height="1.07" fill="#c0222a"/>
<rect x="565.05" y="183.66" width="0.9" height="0.84" fill="#c0222a"/>
<rect x="454.05" y="183.58" width="0.9" height="0.92" fill="#c0222a"/>
<rect x="496.05" y="183.40" width="0.9" height="1.10" fill="#c0222a"/>
<rect x="544.05" y="183.35" width="0.9" height="1.15" fill="#c0222a"/>
<rect x="432.05" y="183.67" width="0.9" height="0.83" fill="#c0222a"/>
<rect x="523.05" y="183.17" width="0.9" height="1.33" fill="#c0222a"/>
<rect x="626.05" y="183.11" width="0.9" height="1.39" fill="#c0222a"/>
<rect x="467.05" y="183.09" width="0.9" height="1.41" fill="#c0222a"/>
<rect x="161.05" y="197.50" width="0.9" height="1.00" fill="#1d8282"/>
<rect x="425.05" y="197.50" width="0.9" height="1.00" fill="#1d8282"/>
<rect x="183.05" y="211.50" width="0.9" height="1.00" fill="#72ac26"/>
<rect x="238.05" y="211.50" width="0.9" height="1.00" fill="#72ac26"/>
<rect x="259.05" y="211.50" width="0.9" height="1.00" fill="#72ac26"/>
<rect x="295.05" y="211.00" width="0.9" height="1.50" fill="#72ac26"/>
<rect x="297.05" y="209.50" width="0.9" height="3.00" fill="#72ac26"/>
<rect x="310.05" y="204.50" width="0.9" height="8.00" fill="#72ac26"/>
<rect x="315.05" y="207.50" width="0.9" height="5.00" fill="#72ac26"/>
<rect x="319.05" y="210.00" width="0.9" height="2.50" fill="#72ac26"/>
<rect x="323.05" y="209.00" width="0.9" height="3.50" fill="#72ac26"/>
<rect x="339.05" y="211.50" width="0.9" height="1.00" fill="#72ac26"/>
<rect x="352.05" y="211.00" width="0.9" height="1.50" fill="#72ac26"/>
<rect x="361.05" y="208.00" width="0.9" height="4.50" fill="#72ac26"/>
<rect x="369.05" y="209.50" width="0.9" height="3.00" fill="#72ac26"/>
<rect x="371.05" y="210.00" width="0.9" height="2.50" fill="#72ac26"/>
<rect x="373.05" y="210.50" width="0.9" height="2.00" fill="#72ac26"/>
<rect x="410.05" y="211.50" width="0.9" height="1.00" fill="#72ac26"/>
<rect x="414.05" y="211.50" width="0.9" height="1.00" fill="#72ac26"/>
<rect x="417.05" y="210.00" width="0.9" height="2.50" fill="#72ac26"/>
<rect x="420.05" y="211.00" width="0.9" height="1.50" fill="#72ac26"/>
<rect x="487.05" y="210.00" width="0.9" height="2.50" fill="#72ac26"/>
<rect x="553.05" y="211.00" width="0.9" height="1.50" fill="#72ac26"/>
<rect x="117.05" y="223.50" width="0.9" height="3.00" fill="#c0222a"/>
<rect x="118.05" y="224.00" width="0.9" height="2.50" fill="#c0222a"/>
<rect x="120.05" y="223.50" width="0.9" height="3.00" fill="#c0222a"/>
<rect x="122.05" y="224.50" width="0.9" height="2.00" fill="#c0222a"/>
<rect x="124.05" y="223.50" width="0.9" height="3.00" fill="#c0222a"/>
<rect x="126.05" y="225.00" width="0.9" height="1.50" fill="#c0222a"/>
<rect x="129.05" y="225.30" width="0.9" height="1.20" fill="#c0222a"/>
<rect x="132.05" y="225.00" width="0.9" height="1.50" fill="#c0222a"/>
<rect x="134.05" y="225.30" width="0.9" height="1.20" fill="#c0222a"/>
<rect x="137.05" y="225.00" width="0.9" height="1.50" fill="#c0222a"/>
<rect x="145.05" y="224.00" width="0.9" height="2.50" fill="#c0222a"/>
<rect x="147.05" y="224.50" width="0.9" height="2.00" fill="#c0222a"/>
<rect x="157.05" y="224.50" width="0.9" height="2.00" fill="#c0222a"/>
<rect x="159.05" y="225.00" width="0.9" height="1.50" fill="#c0222a"/>
<rect x="161.05" y="224.50" width="0.9" height="2.00" fill="#c0222a"/>
<rect x="163.05" y="225.00" width="0.9" height="1.50" fill="#c0222a"/>
<rect x="165.05" y="224.50" width="0.9" height="2.00" fill="#c0222a"/>
<rect x="168.05" y="225.00" width="0.9" height="1.50" fill="#c0222a"/>
<rect x="170.05" y="224.50" width="0.9" height="2.00" fill="#c0222a"/>
<rect x="175.05" y="223.00" width="0.9" height="3.50" fill="#c0222a"/>
<rect x="178.05" y="225.00" width="0.9" height="1.50" fill="#c0222a"/>
<rect x="181.05" y="225.30" width="0.9" height="1.20" fill="#c0222a"/>
<rect x="184.05" y="225.00" width="0.9" height="1.50" fill="#c0222a"/>
<rect x="215.05" y="224.00" width="0.9" height="2.50" fill="#c0222a"/>
<rect x="221.05" y="224.00" width="0.9" height="2.50" fill="#c0222a"/>
<rect x="236.05" y="224.50" width="0.9" height="2.00" fill="#c0222a"/>
<rect x="240.05" y="225.00" width="0.9" height="1.50" fill="#c0222a"/>
<rect x="243.05" y="224.50" width="0.9" height="2.00" fill="#c0222a"/>
<rect x="247.05" y="225.00" width="0.9" height="1.50" fill="#c0222a"/>
<rect x="250.05" y="224.50" width="0.9" height="2.00" fill="#c0222a"/>
<rect x="257.05" y="225.50" width="0.9" height="1.00" fill="#c0222a"/>
<rect x="268.05" y="225.00" width="0.9" height="1.50" fill="#c0222a"/>
<rect x="271.05" y="224.50" width="0.9" height="2.00" fill="#c0222a"/>
<rect x="273.05" y="225.00" width="0.9" height="1.50" fill="#c0222a"/>
<rect x="275.05" y="224.50" width="0.9" height="2.00" fill="#c0222a"/>
<rect x="276.05" y="225.00" width="0.9" height="1.50" fill="#c0222a"/>
<rect x="290.05" y="224.50" width="0.9" height="2.00" fill="#c0222a"/>
<rect x="292.05" y="224.50" width="0.9" height="2.00" fill="#c0222a"/>
<rect x="295.05" y="223.50" width="0.9" height="3.00" fill="#c0222a"/>
<rect x="298.05" y="220.50" width="0.9" height="6.00" fill="#c0222a"/>
<rect x="299.05" y="221.50" width="0.9" height="5.00" fill="#c0222a"/>
<rect x="300.05" y="220.50" width="0.9" height="6.00" fill="#c0222a"/>
<rect x="306.05" y="223.00" width="0.9" height="3.50" fill="#c0222a"/>
<rect x="308.05" y="223.50" width="0.9" height="3.00" fill="#c0222a"/>
<rect x="310.05" y="223.00" width="0.9" height="3.50" fill="#c0222a"/>
<rect x="311.05" y="223.50" width="0.9" height="3.00" fill="#c0222a"/>
<rect x="313.05" y="223.00" width="0.9" height="3.50" fill="#c0222a"/>
<rect x="315.05" y="224.50" width="0.9" height="2.00" fill="#c0222a"/>
<rect x="317.05" y="223.50" width="0.9" height="3.00" fill="#c0222a"/>
<rect x="319.05" y="224.00" width="0.9" height="2.50" fill="#c0222a"/>
<rect x="320.05" y="223.00" width="0.9" height="3.50" fill="#c0222a"/>
<rect x="322.05" y="224.50" width="0.9" height="2.00" fill="#c0222a"/>
<rect x="325.05" y="223.50" width="0.9" height="3.00" fill="#c0222a"/>
<rect x="330.05" y="225.30" width="0.9" height="1.20" fill="#c0222a"/>
<rect x="334.05" y="225.50" width="0.9" height="1.00" fill="#c0222a"/>
<rect x="338.05" y="225.00" width="0.9" height="1.50" fill="#c0222a"/>
<rect x="342.05" y="225.50" width="0.9" height="1.00" fill="#c0222a"/>
<rect x="346.05" y="225.30" width="0.9" height="1.20" fill="#c0222a"/>
<rect x="350.05" y="225.50" width="0.9" height="1.00" fill="#c0222a"/>
<rect x="354.05" y="224.00" width="0.9" height="2.50" fill="#c0222a"/>
<rect x="358.05" y="225.50" width="0.9" height="1.00" fill="#c0222a"/>
<rect x="362.05" y="225.30" width="0.9" height="1.20" fill="#c0222a"/>
<rect x="366.05" y="225.50" width="0.9" height="1.00" fill="#c0222a"/>
<rect x="386.05" y="224.00" width="0.9" height="2.50" fill="#c0222a"/>
<rect x="387.05" y="224.00" width="0.9" height="2.50" fill="#c0222a"/>
<rect x="390.05" y="225.50" width="0.9" height="1.00" fill="#c0222a"/>
<rect x="392.05" y="225.50" width="0.9" height="1.00" fill="#c0222a"/>
<rect x="394.05" y="225.50" width="0.9" height="1.00" fill="#c0222a"/>
<rect x="408.05" y="225.50" width="0.9" height="1.00" fill="#c0222a"/>
<rect x="418.05" y="225.50" width="0.9" height="1.00" fill="#c0222a"/>
<rect x="427.05" y="225.50" width="0.9" height="1.00" fill="#c0222a"/>
<rect x="457.05" y="224.50" width="0.9" height="2.00" fill="#c0222a"/>
<rect x="458.05" y="225.00" width="0.9" height="1.50" fill="#c0222a"/>
<rect x="459.05" y="224.50" width="0.9" height="2.00" fill="#c0222a"/>
<rect x="487.05" y="224.00" width="0.9" height="2.50" fill="#c0222a"/>
<rect x="502.05" y="225.50" width="0.9" height="1.00" fill="#c0222a"/>
<rect x="508.05" y="225.50" width="0.9" height="1.00" fill="#c0222a"/>
<rect x="514.05" y="225.00" width="0.9" height="1.50" fill="#c0222a"/>
<rect x="516.05" y="225.30" width="0.9" height="1.20" fill="#c0222a"/>
<rect x="518.05" y="225.00" width="0.9" height="1.50" fill="#c0222a"/>
<rect x="526.05" y="225.50" width="0.9" height="1.00" fill="#c0222a"/>
<rect x="530.05" y="225.50" width="0.9" height="1.00" fill="#c0222a"/>
<rect x="544.05" y="224.00" width="0.9" height="2.50" fill="#c0222a"/>
<rect x="546.05" y="224.50" width="0.9" height="2.00" fill="#c0222a"/>
<rect x="559.05" y="224.50" width="0.9" height="2.00" fill="#c0222a"/>
<rect x="561.05" y="224.50" width="0.9" height="2.00" fill="#c0222a"/>
<rect x="578.05" y="225.00" width="0.9" height="1.50" fill="#c0222a"/>
<rect x="585.05" y="224.50" width="0.9" height="2.00" fill="#c0222a"/>
<rect x="588.05" y="224.00" width="0.9" height="2.50" fill="#c0222a"/>
<rect x="591.05" y="223.50" width="0.9" height="3.00" fill="#c0222a"/>
<rect x="594.05" y="224.50" width="0.9" height="2.00" fill="#c0222a"/>
<rect x="609.05" y="225.00" width="0.9" height="1.50" fill="#c0222a"/>
<rect x="612.05" y="225.00" width="0.9" height="1.50" fill="#c0222a"/>
<rect x="628.05" y="223.50" width="0.9" height="3.00" fill="#c0222a"/>
<rect x="635.05" y="225.50" width="0.9" height="1.00" fill="#c0222a"/>
<rect x="637.05" y="225.50" width="0.9" height="1.00" fill="#c0222a"/>
<rect x="644.05" y="225.50" width="0.9" height="1.00" fill="#c0222a"/>
<rect x="197.05" y="225.42" width="0.9" height="1.08" fill="#c0222a"/>
<rect x="132.05" y="225.26" width="0.9" height="1.24" fill="#c0222a"/>
<rect x="210.05" y="225.42" width="0.9" height="1.08" fill="#c0222a"/>
<rect x="149.05" y="224.76" width="0.9" height="1.74" fill="#c0222a"/>
<rect x="127.05" y="224.76" width="0.9" height="1.74" fill="#c0222a"/>
<rect x="186.05" y="224.91" width="0.9" height="1.59" fill="#c0222a"/>
<rect x="135.05" y="225.13" width="0.9" height="1.37" fill="#c0222a"/>
<rect x="248.05" y="225.26" width="0.9" height="1.24" fill="#c0222a"/>
<rect x="178.05" y="225.21" width="0.9" height="1.29" fill="#c0222a"/>
<rect x="149.05" y="225.49" width="0.9" height="1.01" fill="#c0222a"/>
<rect x="157.05" y="225.66" width="0.9" height="0.84" fill="#c0222a"/>
<rect x="274.05" y="225.63" width="0.9" height="0.87" fill="#c0222a"/>
<rect x="277.05" y="225.69" width="0.9" height="0.81" fill="#c0222a"/>
<rect x="230.05" y="225.15" width="0.9" height="1.35" fill="#c0222a"/>
<rect x="123.05" y="224.76" width="0.9" height="1.74" fill="#c0222a"/>
<rect x="243.05" y="224.82" width="0.9" height="1.68" fill="#c0222a"/>
<rect x="191.05" y="225.41" width="0.9" height="1.09" fill="#c0222a"/>
<rect x="148.05" y="225.59" width="0.9" height="0.91" fill="#c0222a"/>
<rect x="232.05" y="224.88" width="0.9" height="1.62" fill="#c0222a"/>
<rect x="152.05" y="225.67" width="0.9" height="0.83" fill="#c0222a"/>
<rect x="178.05" y="225.55" width="0.9" height="0.95" fill="#c0222a"/>
<rect x="155.05" y="225.48" width="0.9" height="1.02" fill="#c0222a"/>
<rect x="356.05" y="225.09" width="0.9" height="1.41" fill="#c0222a"/>
<rect x="347.05" y="225.15" width="0.9" height="1.35" fill="#c0222a"/>
<rect x="383.05" y="225.00" width="0.9" height="1.50" fill="#c0222a"/>
<rect x="303.05" y="225.51" width="0.9" height="0.99" fill="#c0222a"/>
<rect x="362.05" y="224.42" width="0.9" height="2.08" fill="#c0222a"/>
<rect x="310.05" y="225.06" width="0.9" height="1.44" fill="#c0222a"/>
<rect x="373.05" y="224.93" width="0.9" height="1.57" fill="#c0222a"/>
<rect x="301.05" y="224.97" width="0.9" height="1.53" fill="#c0222a"/>
<rect x="324.05" y="225.40" width="0.9" height="1.10" fill="#c0222a"/>
<rect x="379.05" y="225.55" width="0.9" height="0.95" fill="#c0222a"/>
<rect x="370.05" y="224.65" width="0.9" height="1.85" fill="#c0222a"/>
<rect x="350.05" y="225.25" width="0.9" height="1.25" fill="#c0222a"/>
<rect x="411.05" y="225.23" width="0.9" height="1.27" fill="#c0222a"/>
<rect x="634.05" y="225.57" width="0.9" height="0.93" fill="#c0222a"/>
<rect x="422.05" y="225.37" width="0.9" height="1.13" fill="#c0222a"/>
<rect x="607.05" y="225.70" width="0.9" height="0.80" fill="#c0222a"/>
<rect x="591.05" y="225.64" width="0.9" height="0.86" fill="#c0222a"/>
<rect x="398.05" y="225.60" width="0.9" height="0.90" fill="#c0222a"/>
<rect x="506.05" y="225.04" width="0.9" height="1.46" fill="#c0222a"/>
<rect x="558.05" y="225.66" width="0.9" height="0.84" fill="#c0222a"/>
<rect x="428.05" y="225.38" width="0.9" height="1.12" fill="#c0222a"/>
<rect x="413.05" y="225.23" width="0.9" height="1.27" fill="#c0222a"/>
<rect x="116" y="29.95" width="530" height="1.5" fill="#c9c9c9"/>
<text x="116.60" y="23.40" font-size="6.8" text-anchor="start" font-weight="normal" fill="#2a2a2a" stroke="#2a2a2a" stroke-width="0.08" >[0 – 1.00]</text>
<rect x="116" y="43.95" width="530" height="1.5" fill="#c9c9c9"/>
<text x="116.60" y="37.40" font-size="6.8" text-anchor="start" font-weight="normal" fill="#2a2a2a" stroke="#2a2a2a" stroke-width="0.08" >[0 – 1.00]</text>
<rect x="116" y="57.95" width="530" height="1.5" fill="#c9c9c9"/>
<text x="116.60" y="51.40" font-size="6.8" text-anchor="start" font-weight="normal" fill="#2a2a2a" stroke="#2a2a2a" stroke-width="0.08" >[0 – 1.00]</text>
<rect x="116" y="71.95" width="530" height="1.5" fill="#c9c9c9"/>
<text x="116.60" y="65.40" font-size="6.8" text-anchor="start" font-weight="normal" fill="#2a2a2a" stroke="#2a2a2a" stroke-width="0.08" >[0 – 1.00]</text>
<rect x="116" y="85.95" width="530" height="1.5" fill="#c9c9c9"/>
<text x="116.60" y="79.40" font-size="6.8" text-anchor="start" font-weight="normal" fill="#2a2a2a" stroke="#2a2a2a" stroke-width="0.08" >[0 – 1.00]</text>
<rect x="116" y="99.95" width="530" height="1.5" fill="#c9c9c9"/>
<text x="116.60" y="93.40" font-size="6.8" text-anchor="start" font-weight="normal" fill="#2a2a2a" stroke="#2a2a2a" stroke-width="0.08" >[0 – 1.00]</text>
<rect x="116" y="113.95" width="530" height="1.5" fill="#c9c9c9"/>
<text x="116.60" y="107.40" font-size="6.8" text-anchor="start" font-weight="normal" fill="#2a2a2a" stroke="#2a2a2a" stroke-width="0.08" >[0 – 1.00]</text>
<rect x="116" y="127.95" width="530" height="1.5" fill="#c9c9c9"/>
<text x="116.60" y="121.40" font-size="6.8" text-anchor="start" font-weight="normal" fill="#2a2a2a" stroke="#2a2a2a" stroke-width="0.08" >[0 – 1.00]</text>
<rect x="116" y="141.95" width="530" height="1.5" fill="#c9c9c9"/>
<text x="116.60" y="135.40" font-size="6.8" text-anchor="start" font-weight="normal" fill="#2a2a2a" stroke="#2a2a2a" stroke-width="0.08" >[0 – 1.00]</text>
<rect x="116" y="155.95" width="530" height="1.5" fill="#c9c9c9"/>
<text x="116.60" y="149.40" font-size="6.8" text-anchor="start" font-weight="normal" fill="#2a2a2a" stroke="#2a2a2a" stroke-width="0.08" >[0 – 1.00]</text>
<rect x="116" y="169.95" width="530" height="1.5" fill="#c9c9c9"/>
<text x="116.60" y="163.40" font-size="6.8" text-anchor="start" font-weight="normal" fill="#2a2a2a" stroke="#2a2a2a" stroke-width="0.08" >[0 – 1.00]</text>
<rect x="116" y="183.95" width="530" height="1.5" fill="#c9c9c9"/>
<text x="116.60" y="177.40" font-size="6.8" text-anchor="start" font-weight="normal" fill="#2a2a2a" stroke="#2a2a2a" stroke-width="0.08" >[0 – 1.00]</text>
<rect x="116" y="197.95" width="530" height="1.5" fill="#c9c9c9"/>
<text x="116.60" y="191.40" font-size="6.8" text-anchor="start" font-weight="normal" fill="#2a2a2a" stroke="#2a2a2a" stroke-width="0.08" >[0 – 1.00]</text>
<rect x="116" y="211.95" width="530" height="1.5" fill="#c9c9c9"/>
<text x="116.60" y="205.40" font-size="6.8" text-anchor="start" font-weight="normal" fill="#2a2a2a" stroke="#2a2a2a" stroke-width="0.08" >[0 – 1.00]</text>
<rect x="116" y="225.95" width="530" height="1.5" fill="#c9c9c9"/>
<text x="116.60" y="219.40" font-size="6.8" text-anchor="start" font-weight="normal" fill="#2a2a2a" stroke="#2a2a2a" stroke-width="0.08" >[0 – 1.00]</text>
<rect x="88.4" y="23.90" width="1.6" height="30.60" fill="#9a9a9a"/>
<text x="102.70" y="26.60" font-size="9.45" text-anchor="middle" font-weight="normal" fill="#111" stroke="#111" stroke-width="0.15" >CG</text>
<text x="102.70" y="40.60" font-size="9.45" text-anchor="middle" font-weight="normal" fill="#111" stroke="#111" stroke-width="0.15" >CHG</text>
<text x="102.70" y="54.60" font-size="9.45" text-anchor="middle" font-weight="normal" fill="#111" stroke="#111" stroke-width="0.15" >CHH</text>
<rect x="88.4" y="65.40" width="1.6" height="30.10" fill="#9a9a9a"/>
<text x="102.70" y="68.10" font-size="9.45" text-anchor="middle" font-weight="normal" fill="#111" stroke="#111" stroke-width="0.15" >CG</text>
<text x="102.70" y="81.85" font-size="9.45" text-anchor="middle" font-weight="normal" fill="#111" stroke="#111" stroke-width="0.15" >CHG</text>
<text x="102.70" y="95.60" font-size="9.45" text-anchor="middle" font-weight="normal" fill="#111" stroke="#111" stroke-width="0.15" >CHH</text>
<rect x="88.4" y="108.30" width="1.6" height="30.30" fill="#9a9a9a"/>
<text x="102.70" y="111.00" font-size="9.45" text-anchor="middle" font-weight="normal" fill="#111" stroke="#111" stroke-width="0.15" >CG</text>
<text x="102.70" y="124.85" font-size="9.45" text-anchor="middle" font-weight="normal" fill="#111" stroke="#111" stroke-width="0.15" >CHG</text>
<text x="102.70" y="138.70" font-size="9.45" text-anchor="middle" font-weight="normal" fill="#111" stroke="#111" stroke-width="0.15" >CHH</text>
<rect x="88.4" y="150.20" width="1.6" height="30.30" fill="#9a9a9a"/>
<text x="102.70" y="152.90" font-size="9.45" text-anchor="middle" font-weight="normal" fill="#111" stroke="#111" stroke-width="0.15" >CG</text>
<text x="102.70" y="166.75" font-size="9.45" text-anchor="middle" font-weight="normal" fill="#111" stroke="#111" stroke-width="0.15" >CHG</text>
<text x="102.70" y="180.60" font-size="9.45" text-anchor="middle" font-weight="normal" fill="#111" stroke="#111" stroke-width="0.15" >CHH</text>
<rect x="88.4" y="190.30" width="1.6" height="30.10" fill="#9a9a9a"/>
<text x="102.70" y="193.00" font-size="9.45" text-anchor="middle" font-weight="normal" fill="#111" stroke="#111" stroke-width="0.15" >CG</text>
<text x="102.70" y="206.75" font-size="9.45" text-anchor="middle" font-weight="normal" fill="#111" stroke="#111" stroke-width="0.15" >CHG</text>
<text x="102.70" y="220.50" font-size="9.45" text-anchor="middle" font-weight="normal" fill="#111" stroke="#111" stroke-width="0.15" >CHH</text>
<text x="53.40" y="44.00" font-size="9.45" text-anchor="middle" font-weight="normal" fill="#111" stroke="#111" stroke-width="0.15" ><tspan>L</tspan><tspan font-style="italic">er</tspan></text>
<text x="53.40" y="71.20" font-size="9.45" text-anchor="middle" font-weight="normal" fill="#111" stroke="#111" stroke-width="0.15" >T1 22aa Sun</text>
<text x="53.40" y="82.20" font-size="9.45" text-anchor="middle" font-weight="normal" fill="#111" stroke="#111" stroke-width="0.15" >DRMcd</text>
<text x="53.40" y="93.40" font-size="9.45" text-anchor="middle" font-weight="normal" fill="#111" stroke="#111" stroke-width="0.15" >NLS SUP-1</text>
<text x="53.40" y="115.90" font-size="9.45" text-anchor="middle" font-weight="normal" fill="#111" stroke="#111" stroke-width="0.15" >T1 22aa Sun</text>
<text x="53.40" y="126.90" font-size="9.45" text-anchor="middle" font-weight="normal" fill="#111" stroke="#111" stroke-width="0.15" >DRMcd</text>
<text x="53.40" y="137.90" font-size="9.45" text-anchor="middle" font-weight="normal" fill="#111" stroke="#111" stroke-width="0.15" >NLS SUP-2</text>
<text x="53.40" y="157.70" font-size="9.45" text-anchor="middle" font-weight="normal" fill="#111" stroke="#111" stroke-width="0.15" >T1 22aa Sun</text>
<text x="53.40" y="168.90" font-size="9.45" text-anchor="middle" font-weight="normal" fill="#111" stroke="#111" stroke-width="0.15" >DRMcd</text>
<text x="53.40" y="179.90" font-size="9.45" text-anchor="middle" font-weight="normal" fill="#111" stroke="#111" stroke-width="0.15" >NLS SUP-3</text>
<text x="53.40" y="198.50" font-size="9.45" text-anchor="middle" font-weight="normal" fill="#111" stroke="#111" stroke-width="0.15" >T1 22aa Sun</text>
<text x="53.40" y="209.40" font-size="9.45" text-anchor="middle" font-weight="normal" fill="#111" stroke="#111" stroke-width="0.15" >DRMcd</text>
<text x="53.40" y="220.40" font-size="9.45" text-anchor="middle" font-weight="normal" fill="#111" stroke="#111" stroke-width="0.15" >NLS SUP-4</text>
<rect x="306.5" y="233.65" width="166" height="1.5" fill="#1e1eb4"/>
<text x="299.20" y="242.80" font-size="8" text-anchor="start" font-weight="normal" fill="#111" stroke="#111" stroke-width="0.15" >TSS</text>
<text x="371.60" y="243.60" font-size="8" text-anchor="start" font-weight="normal" fill="#111" stroke="#111" stroke-width="0.15" >AT3G23130</text>
<text x="464.30" y="242.80" font-size="8" text-anchor="start" font-weight="normal" fill="#111" stroke="#111" stroke-width="0.15" >TTS</text>
<rect x="303.8" y="246.30" width="3.6" height="1.4" fill="#e8141a"/>
<rect x="325.5" y="246.30" width="3.6" height="1.4" fill="#e8141a"/>
<text x="305.00" y="257.30" font-size="8" text-anchor="middle" font-weight="normal" fill="#111" stroke="#111" stroke-width="0.15" >g1</text>
<text x="327.20" y="257.30" font-size="8" text-anchor="middle" font-weight="normal" fill="#111" stroke="#111" stroke-width="0.15" >g2</text>
<text x="116.10" y="283.30" font-size="9.35" text-anchor="start" font-weight="normal" fill="#111" stroke="#111" stroke-width="0.15" >Chr3: 8,298,801–8,302,211</text>
<rect x="318.05" y="326.37" width="0.9" height="1.00" fill="#72ac26"/>
<rect x="363.05" y="326.37" width="0.9" height="1.00" fill="#72ac26"/>
<rect x="146.05" y="343.04" width="0.9" height="1.00" fill="#c0222a"/>
<rect x="234.05" y="342.04" width="0.9" height="2.00" fill="#c0222a"/>
<rect x="424.05" y="343.04" width="0.9" height="1.00" fill="#c0222a"/>
<rect x="601.05" y="343.04" width="0.9" height="1.00" fill="#c0222a"/>
<rect x="609.05" y="343.04" width="0.9" height="1.00" fill="#c0222a"/>
<rect x="293.05" y="359.21" width="0.9" height="1.50" fill="#1d8282"/>
<rect x="565.05" y="359.71" width="0.9" height="1.00" fill="#1d8282"/>
<rect x="238.05" y="376.38" width="0.9" height="1.00" fill="#72ac26"/>
<rect x="260.05" y="375.38" width="0.9" height="2.00" fill="#72ac26"/>
<rect x="295.05" y="375.88" width="0.9" height="1.50" fill="#72ac26"/>
<rect x="297.05" y="368.48" width="0.9" height="8.90" fill="#72ac26"/>
<rect x="310.05" y="369.38" width="0.9" height="8.00" fill="#72ac26"/>
<rect x="311.05" y="369.38" width="0.9" height="8.00" fill="#72ac26"/>
<rect x="315.05" y="368.38" width="0.9" height="9.00" fill="#72ac26"/>
<rect x="319.05" y="372.88" width="0.9" height="4.50" fill="#72ac26"/>
<rect x="323.05" y="370.88" width="0.9" height="6.50" fill="#72ac26"/>
<rect x="324.05" y="370.88" width="0.9" height="6.50" fill="#72ac26"/>
<rect x="340.05" y="372.38" width="0.9" height="5.00" fill="#72ac26"/>
<rect x="343.05" y="376.38" width="0.9" height="1.00" fill="#72ac26"/>
<rect x="352.05" y="375.08" width="0.9" height="2.30" fill="#72ac26"/>
<rect x="361.05" y="374.38" width="0.9" height="3.00" fill="#72ac26"/>
<rect x="369.05" y="375.38" width="0.9" height="2.00" fill="#72ac26"/>
<rect x="371.05" y="375.38" width="0.9" height="2.00" fill="#72ac26"/>
<rect x="373.05" y="375.88" width="0.9" height="1.50" fill="#72ac26"/>
<rect x="404.05" y="376.38" width="0.9" height="1.00" fill="#72ac26"/>
<rect x="417.05" y="374.38" width="0.9" height="3.00" fill="#72ac26"/>
<rect x="421.05" y="376.38" width="0.9" height="1.00" fill="#72ac26"/>
<rect x="632.05" y="376.38" width="0.9" height="1.00" fill="#72ac26"/>
<rect x="116.05" y="391.55" width="0.9" height="2.50" fill="#c0222a"/>
<rect x="144.05" y="393.05" width="0.9" height="1.00" fill="#c0222a"/>
<rect x="150.05" y="393.05" width="0.9" height="1.00" fill="#c0222a"/>
<rect x="234.05" y="393.05" width="0.9" height="1.00" fill="#c0222a"/>
<rect x="239.05" y="393.05" width="0.9" height="1.00" fill="#c0222a"/>
<rect x="245.05" y="393.05" width="0.9" height="1.00" fill="#c0222a"/>
<rect x="263.05" y="392.55" width="0.9" height="1.50" fill="#c0222a"/>
<rect x="266.05" y="392.85" width="0.9" height="1.20" fill="#c0222a"/>
<rect x="268.05" y="392.55" width="0.9" height="1.50" fill="#c0222a"/>
<rect x="272.05" y="390.05" width="0.9" height="4.00" fill="#c0222a"/>
<rect x="273.05" y="392.05" width="0.9" height="2.00" fill="#c0222a"/>
<rect x="276.05" y="392.55" width="0.9" height="1.50" fill="#c0222a"/>
<rect x="278.05" y="392.05" width="0.9" height="2.00" fill="#c0222a"/>
<rect x="289.05" y="391.05" width="0.9" height="3.00" fill="#c0222a"/>
<rect x="291.05" y="391.55" width="0.9" height="2.50" fill="#c0222a"/>
<rect x="293.05" y="390.55" width="0.9" height="3.50" fill="#c0222a"/>
<rect x="295.05" y="390.05" width="0.9" height="4.00" fill="#c0222a"/>
<rect x="299.05" y="391.05" width="0.9" height="3.00" fill="#c0222a"/>
<rect x="305.05" y="387.05" width="0.9" height="7.00" fill="#c0222a"/>
<rect x="306.05" y="388.05" width="0.9" height="6.00" fill="#c0222a"/>
<rect x="308.05" y="387.05" width="0.9" height="7.00" fill="#c0222a"/>
<rect x="309.05" y="389.05" width="0.9" height="5.00" fill="#c0222a"/>
<rect x="311.05" y="389.55" width="0.9" height="4.50" fill="#c0222a"/>
<rect x="312.05" y="389.05" width="0.9" height="5.00" fill="#c0222a"/>
<rect x="314.05" y="390.05" width="0.9" height="4.00" fill="#c0222a"/>
<rect x="315.05" y="392.05" width="0.9" height="2.00" fill="#c0222a"/>
<rect x="317.05" y="392.55" width="0.9" height="1.50" fill="#c0222a"/>
<rect x="319.05" y="392.05" width="0.9" height="2.00" fill="#c0222a"/>
<rect x="321.05" y="392.55" width="0.9" height="1.50" fill="#c0222a"/>
<rect x="323.05" y="392.05" width="0.9" height="2.00" fill="#c0222a"/>
<rect x="325.05" y="390.05" width="0.9" height="4.00" fill="#c0222a"/>
<rect x="328.05" y="392.05" width="0.9" height="2.00" fill="#c0222a"/>
<rect x="332.05" y="391.05" width="0.9" height="3.00" fill="#c0222a"/>
<rect x="334.05" y="390.05" width="0.9" height="4.00" fill="#c0222a"/>
<rect x="336.05" y="390.55" width="0.9" height="3.50" fill="#c0222a"/>
<rect x="338.05" y="391.05" width="0.9" height="3.00" fill="#c0222a"/>
<rect x="340.05" y="390.05" width="0.9" height="4.00" fill="#c0222a"/>
<rect x="342.05" y="391.05" width="0.9" height="3.00" fill="#c0222a"/>
<rect x="345.05" y="393.05" width="0.9" height="1.00" fill="#c0222a"/>
<rect x="351.05" y="392.05" width="0.9" height="2.00" fill="#c0222a"/>
<rect x="354.05" y="393.05" width="0.9" height="1.00" fill="#c0222a"/>
<rect x="357.05" y="388.05" width="0.9" height="6.00" fill="#c0222a"/>
<rect x="359.05" y="393.05" width="0.9" height="1.00" fill="#c0222a"/>
<rect x="384.05" y="391.55" width="0.9" height="2.50" fill="#c0222a"/>
<rect x="393.05" y="392.05" width="0.9" height="2.00" fill="#c0222a"/>
<rect x="395.05" y="391.55" width="0.9" height="2.50" fill="#c0222a"/>
<rect x="397.05" y="391.55" width="0.9" height="2.50" fill="#c0222a"/>
<rect x="416.05" y="393.05" width="0.9" height="1.00" fill="#c0222a"/>
<rect x="422.05" y="393.05" width="0.9" height="1.00" fill="#c0222a"/>
<rect x="449.05" y="393.05" width="0.9" height="1.00" fill="#c0222a"/>
<rect x="514.05" y="392.05" width="0.9" height="2.00" fill="#c0222a"/>
<rect x="516.05" y="392.55" width="0.9" height="1.50" fill="#c0222a"/>
<rect x="518.05" y="392.05" width="0.9" height="2.00" fill="#c0222a"/>
<rect x="534.05" y="392.55" width="0.9" height="1.50" fill="#c0222a"/>
<rect x="561.05" y="393.05" width="0.9" height="1.00" fill="#c0222a"/>
<rect x="567.05" y="392.05" width="0.9" height="2.00" fill="#c0222a"/>
<rect x="569.05" y="392.05" width="0.9" height="2.00" fill="#c0222a"/>
<rect x="604.05" y="393.05" width="0.9" height="1.00" fill="#c0222a"/>
<rect x="607.05" y="393.05" width="0.9" height="1.00" fill="#c0222a"/>
<rect x="620.05" y="392.05" width="0.9" height="2.00" fill="#c0222a"/>
<rect x="633.05" y="392.55" width="0.9" height="1.50" fill="#c0222a"/>
<rect x="636.05" y="392.55" width="0.9" height="1.50" fill="#c0222a"/>
<rect x="178.05" y="392.68" width="0.9" height="1.37" fill="#c0222a"/>
<rect x="258.05" y="392.76" width="0.9" height="1.29" fill="#c0222a"/>
<rect x="156.05" y="392.99" width="0.9" height="1.06" fill="#c0222a"/>
<rect x="232.05" y="393.20" width="0.9" height="0.85" fill="#c0222a"/>
<rect x="117.05" y="393.05" width="0.9" height="1.00" fill="#c0222a"/>
<rect x="185.05" y="392.78" width="0.9" height="1.27" fill="#c0222a"/>
<rect x="365.05" y="393.19" width="0.9" height="0.86" fill="#c0222a"/>
<rect x="305.05" y="392.33" width="0.9" height="1.72" fill="#c0222a"/>
<rect x="323.05" y="393.12" width="0.9" height="0.93" fill="#c0222a"/>
<rect x="363.05" y="392.47" width="0.9" height="1.58" fill="#c0222a"/>
<rect x="348.05" y="392.48" width="0.9" height="1.57" fill="#c0222a"/>
<rect x="368.05" y="392.40" width="0.9" height="1.65" fill="#c0222a"/>
<rect x="457.05" y="393.08" width="0.9" height="0.97" fill="#c0222a"/>
<rect x="641.05" y="393.10" width="0.9" height="0.95" fill="#c0222a"/>
<rect x="549.05" y="392.91" width="0.9" height="1.14" fill="#c0222a"/>
<rect x="613.05" y="393.01" width="0.9" height="1.04" fill="#c0222a"/>
<rect x="479.05" y="392.97" width="0.9" height="1.08" fill="#c0222a"/>
<rect x="187.05" y="409.72" width="0.9" height="1.00" fill="#1d8282"/>
<rect x="539.05" y="409.22" width="0.9" height="1.50" fill="#1d8282"/>
<rect x="589.05" y="409.72" width="0.9" height="1.00" fill="#1d8282"/>
<rect x="193.05" y="425.89" width="0.9" height="1.50" fill="#72ac26"/>
<rect x="260.05" y="425.39" width="0.9" height="2.00" fill="#72ac26"/>
<rect x="295.05" y="426.39" width="0.9" height="1.00" fill="#72ac26"/>
<rect x="297.05" y="422.89" width="0.9" height="4.50" fill="#72ac26"/>
<rect x="310.05" y="413.69" width="0.9" height="13.70" fill="#72ac26"/>
<rect x="311.05" y="418.39" width="0.9" height="9.00" fill="#72ac26"/>
<rect x="315.05" y="419.39" width="0.9" height="8.00" fill="#72ac26"/>
<rect x="319.05" y="423.89" width="0.9" height="3.50" fill="#72ac26"/>
<rect x="323.05" y="423.89" width="0.9" height="3.50" fill="#72ac26"/>
<rect x="340.05" y="423.89" width="0.9" height="3.50" fill="#72ac26"/>
<rect x="343.05" y="426.39" width="0.9" height="1.00" fill="#72ac26"/>
<rect x="352.05" y="426.39" width="0.9" height="1.00" fill="#72ac26"/>
<rect x="360.05" y="425.89" width="0.9" height="1.50" fill="#72ac26"/>
<rect x="362.05" y="425.89" width="0.9" height="1.50" fill="#72ac26"/>
<rect x="363.05" y="425.89" width="0.9" height="1.50" fill="#72ac26"/>
<rect x="369.05" y="425.39" width="0.9" height="2.00" fill="#72ac26"/>
<rect x="373.05" y="426.39" width="0.9" height="1.00" fill="#72ac26"/>
<rect x="417.05" y="423.89" width="0.9" height="3.50" fill="#72ac26"/>
<rect x="418.05" y="423.89" width="0.9" height="3.50" fill="#72ac26"/>
<rect x="127.05" y="441.06" width="0.9" height="3.00" fill="#c0222a"/>
<rect x="141.05" y="443.06" width="0.9" height="1.00" fill="#c0222a"/>
<rect x="145.05" y="443.06" width="0.9" height="1.00" fill="#c0222a"/>
<rect x="194.05" y="443.06" width="0.9" height="1.00" fill="#c0222a"/>
<rect x="226.05" y="443.06" width="0.9" height="1.00" fill="#c0222a"/>
<rect x="242.05" y="442.56" width="0.9" height="1.50" fill="#c0222a"/>
<rect x="248.05" y="443.06" width="0.9" height="1.00" fill="#c0222a"/>
<rect x="271.05" y="442.56" width="0.9" height="1.50" fill="#c0222a"/>
<rect x="277.05" y="443.06" width="0.9" height="1.00" fill="#c0222a"/>
<rect x="282.05" y="443.06" width="0.9" height="1.00" fill="#c0222a"/>
<rect x="290.05" y="443.06" width="0.9" height="1.00" fill="#c0222a"/>
<rect x="295.05" y="441.06" width="0.9" height="3.00" fill="#c0222a"/>
<rect x="297.05" y="440.06" width="0.9" height="4.00" fill="#c0222a"/>
<rect x="298.05" y="438.56" width="0.9" height="5.50" fill="#c0222a"/>
<rect x="299.05" y="439.06" width="0.9" height="5.00" fill="#c0222a"/>
<rect x="300.05" y="441.06" width="0.9" height="3.00" fill="#c0222a"/>
<rect x="308.05" y="437.06" width="0.9" height="7.00" fill="#c0222a"/>
<rect x="310.05" y="438.06" width="0.9" height="6.00" fill="#c0222a"/>
<rect x="311.05" y="439.06" width="0.9" height="5.00" fill="#c0222a"/>
<rect x="313.05" y="438.06" width="0.9" height="6.00" fill="#c0222a"/>
<rect x="315.05" y="442.06" width="0.9" height="2.00" fill="#c0222a"/>
<rect x="317.05" y="442.56" width="0.9" height="1.50" fill="#c0222a"/>
<rect x="319.05" y="442.06" width="0.9" height="2.00" fill="#c0222a"/>
<rect x="321.05" y="442.56" width="0.9" height="1.50" fill="#c0222a"/>
<rect x="323.05" y="442.56" width="0.9" height="1.50" fill="#c0222a"/>
<rect x="325.05" y="440.56" width="0.9" height="3.50" fill="#c0222a"/>
<rect x="327.05" y="441.06" width="0.9" height="3.00" fill="#c0222a"/>
<rect x="328.05" y="440.56" width="0.9" height="3.50" fill="#c0222a"/>
<rect x="332.05" y="441.06" width="0.9" height="3.00" fill="#c0222a"/>
<rect x="335.05" y="441.56" width="0.9" height="2.50" fill="#c0222a"/>
<rect x="337.05" y="441.06" width="0.9" height="3.00" fill="#c0222a"/>
<rect x="339.05" y="441.56" width="0.9" height="2.50" fill="#c0222a"/>
<rect x="342.05" y="441.06" width="0.9" height="3.00" fill="#c0222a"/>
<rect x="345.05" y="443.06" width="0.9" height="1.00" fill="#c0222a"/>
<rect x="349.05" y="443.06" width="0.9" height="1.00" fill="#c0222a"/>
<rect x="354.05" y="442.06" width="0.9" height="2.00" fill="#c0222a"/>
<rect x="356.05" y="442.06" width="0.9" height="2.00" fill="#c0222a"/>
<rect x="361.05" y="441.56" width="0.9" height="2.50" fill="#c0222a"/>
<rect x="362.05" y="441.56" width="0.9" height="2.50" fill="#c0222a"/>
<rect x="365.05" y="443.06" width="0.9" height="1.00" fill="#c0222a"/>
<rect x="394.05" y="442.06" width="0.9" height="2.00" fill="#c0222a"/>
<rect x="395.05" y="442.56" width="0.9" height="1.50" fill="#c0222a"/>
<rect x="397.05" y="442.06" width="0.9" height="2.00" fill="#c0222a"/>
<rect x="411.05" y="443.06" width="0.9" height="1.00" fill="#c0222a"/>
<rect x="415.05" y="443.06" width="0.9" height="1.00" fill="#c0222a"/>
<rect x="418.05" y="442.86" width="0.9" height="1.20" fill="#c0222a"/>
<rect x="423.05" y="443.06" width="0.9" height="1.00" fill="#c0222a"/>
<rect x="429.05" y="443.06" width="0.9" height="1.00" fill="#c0222a"/>
<rect x="437.05" y="442.56" width="0.9" height="1.50" fill="#c0222a"/>
<rect x="441.05" y="442.86" width="0.9" height="1.20" fill="#c0222a"/>
<rect x="444.05" y="442.56" width="0.9" height="1.50" fill="#c0222a"/>
<rect x="561.05" y="443.06" width="0.9" height="1.00" fill="#c0222a"/>
<rect x="623.05" y="443.06" width="0.9" height="1.00" fill="#c0222a"/>
<rect x="631.05" y="443.06" width="0.9" height="1.00" fill="#c0222a"/>
<rect x="116.05" y="443.05" width="0.9" height="1.01" fill="#c0222a"/>
<rect x="248.05" y="442.87" width="0.9" height="1.19" fill="#c0222a"/>
<rect x="129.05" y="442.83" width="0.9" height="1.23" fill="#c0222a"/>
<rect x="222.05" y="442.99" width="0.9" height="1.07" fill="#c0222a"/>
<rect x="134.05" y="442.90" width="0.9" height="1.16" fill="#c0222a"/>
<rect x="245.05" y="443.14" width="0.9" height="0.92" fill="#c0222a"/>
<rect x="350.05" y="443.19" width="0.9" height="0.87" fill="#c0222a"/>
<rect x="316.05" y="442.90" width="0.9" height="1.16" fill="#c0222a"/>
<rect x="362.05" y="442.98" width="0.9" height="1.08" fill="#c0222a"/>
<rect x="371.05" y="442.28" width="0.9" height="1.78" fill="#c0222a"/>
<rect x="313.05" y="443.23" width="0.9" height="0.83" fill="#c0222a"/>
<rect x="358.05" y="442.50" width="0.9" height="1.56" fill="#c0222a"/>
<rect x="619.05" y="442.99" width="0.9" height="1.07" fill="#c0222a"/>
<rect x="588.05" y="443.11" width="0.9" height="0.95" fill="#c0222a"/>
<rect x="415.05" y="442.86" width="0.9" height="1.20" fill="#c0222a"/>
<rect x="544.05" y="443.15" width="0.9" height="0.91" fill="#c0222a"/>
<rect x="617.05" y="443.23" width="0.9" height="0.83" fill="#c0222a"/>
<rect x="293.05" y="458.73" width="0.9" height="2.00" fill="#1d8282"/>
<rect x="183.05" y="476.40" width="0.9" height="1.00" fill="#72ac26"/>
<rect x="260.05" y="474.40" width="0.9" height="3.00" fill="#72ac26"/>
<rect x="295.05" y="472.90" width="0.9" height="4.50" fill="#72ac26"/>
<rect x="297.05" y="469.90" width="0.9" height="7.50" fill="#72ac26"/>
<rect x="310.05" y="468.40" width="0.9" height="9.00" fill="#72ac26"/>
<rect x="311.05" y="468.40" width="0.9" height="9.00" fill="#72ac26"/>
<rect x="315.05" y="470.90" width="0.9" height="6.50" fill="#72ac26"/>
<rect x="319.05" y="476.40" width="0.9" height="1.00" fill="#72ac26"/>
<rect x="340.05" y="475.40" width="0.9" height="2.00" fill="#72ac26"/>
<rect x="352.05" y="475.40" width="0.9" height="2.00" fill="#72ac26"/>
<rect x="360.05" y="475.40" width="0.9" height="2.00" fill="#72ac26"/>
<rect x="414.05" y="473.40" width="0.9" height="4.00" fill="#72ac26"/>
<rect x="421.05" y="475.40" width="0.9" height="2.00" fill="#72ac26"/>
<rect x="487.05" y="475.90" width="0.9" height="1.50" fill="#72ac26"/>
<rect x="145.05" y="492.57" width="0.9" height="1.50" fill="#c0222a"/>
<rect x="147.05" y="491.57" width="0.9" height="2.50" fill="#c0222a"/>
<rect x="150.05" y="492.07" width="0.9" height="2.00" fill="#c0222a"/>
<rect x="162.05" y="493.07" width="0.9" height="1.00" fill="#c0222a"/>
<rect x="243.05" y="492.57" width="0.9" height="1.50" fill="#c0222a"/>
<rect x="245.05" y="492.87" width="0.9" height="1.20" fill="#c0222a"/>
<rect x="248.05" y="492.57" width="0.9" height="1.50" fill="#c0222a"/>
<rect x="266.05" y="493.07" width="0.9" height="1.00" fill="#c0222a"/>
<rect x="269.05" y="493.07" width="0.9" height="1.00" fill="#c0222a"/>
<rect x="272.05" y="493.07" width="0.9" height="1.00" fill="#c0222a"/>
<rect x="286.05" y="492.07" width="0.9" height="2.00" fill="#c0222a"/>
<rect x="290.05" y="487.07" width="0.9" height="7.00" fill="#c0222a"/>
<rect x="292.05" y="491.07" width="0.9" height="3.00" fill="#c0222a"/>
<rect x="294.05" y="491.57" width="0.9" height="2.50" fill="#c0222a"/>
<rect x="295.05" y="491.07" width="0.9" height="3.00" fill="#c0222a"/>
<rect x="300.05" y="489.57" width="0.9" height="4.50" fill="#c0222a"/>
<rect x="309.05" y="491.07" width="0.9" height="3.00" fill="#c0222a"/>
<rect x="310.05" y="488.57" width="0.9" height="5.50" fill="#c0222a"/>
<rect x="311.05" y="490.07" width="0.9" height="4.00" fill="#c0222a"/>
<rect x="313.05" y="490.57" width="0.9" height="3.50" fill="#c0222a"/>
<rect x="314.05" y="490.07" width="0.9" height="4.00" fill="#c0222a"/>
<rect x="316.05" y="491.07" width="0.9" height="3.00" fill="#c0222a"/>
<rect x="318.05" y="490.57" width="0.9" height="3.50" fill="#c0222a"/>
<rect x="325.05" y="492.07" width="0.9" height="2.00" fill="#c0222a"/>
<rect x="327.05" y="492.57" width="0.9" height="1.50" fill="#c0222a"/>
<rect x="329.05" y="492.07" width="0.9" height="2.00" fill="#c0222a"/>
<rect x="330.05" y="491.07" width="0.9" height="3.00" fill="#c0222a"/>
<rect x="332.05" y="490.07" width="0.9" height="4.00" fill="#c0222a"/>
<rect x="334.05" y="491.07" width="0.9" height="3.00" fill="#c0222a"/>
<rect x="336.05" y="490.57" width="0.9" height="3.50" fill="#c0222a"/>
<rect x="338.05" y="490.07" width="0.9" height="4.00" fill="#c0222a"/>
<rect x="340.05" y="491.07" width="0.9" height="3.00" fill="#c0222a"/>
<rect x="342.05" y="490.57" width="0.9" height="3.50" fill="#c0222a"/>
<rect x="349.05" y="493.07" width="0.9" height="1.00" fill="#c0222a"/>
<rect x="355.05" y="491.07" width="0.9" height="3.00" fill="#c0222a"/>
<rect x="408.05" y="492.57" width="0.9" height="1.50" fill="#c0222a"/>
<rect x="410.05" y="492.07" width="0.9" height="2.00" fill="#c0222a"/>
<rect x="411.05" y="492.57" width="0.9" height="1.50" fill="#c0222a"/>
<rect x="419.05" y="493.07" width="0.9" height="1.00" fill="#c0222a"/>
<rect x="422.05" y="490.57" width="0.9" height="3.50" fill="#c0222a"/>
<rect x="440.05" y="491.57" width="0.9" height="2.50" fill="#c0222a"/>
<rect x="483.05" y="493.07" width="0.9" height="1.00" fill="#c0222a"/>
<rect x="535.05" y="493.07" width="0.9" height="1.00" fill="#c0222a"/>
<rect x="557.05" y="491.07" width="0.9" height="3.00" fill="#c0222a"/>
<rect x="591.05" y="492.07" width="0.9" height="2.00" fill="#c0222a"/>
<rect x="593.05" y="492.57" width="0.9" height="1.50" fill="#c0222a"/>
<rect x="595.05" y="492.07" width="0.9" height="2.00" fill="#c0222a"/>
<rect x="604.05" y="493.07" width="0.9" height="1.00" fill="#c0222a"/>
<rect x="628.05" y="493.07" width="0.9" height="1.00" fill="#c0222a"/>
<rect x="125.05" y="493.12" width="0.9" height="0.95" fill="#c0222a"/>
<rect x="138.05" y="493.02" width="0.9" height="1.05" fill="#c0222a"/>
<rect x="224.05" y="492.96" width="0.9" height="1.11" fill="#c0222a"/>
<rect x="212.05" y="493.20" width="0.9" height="0.87" fill="#c0222a"/>
<rect x="209.05" y="492.68" width="0.9" height="1.39" fill="#c0222a"/>
<rect x="173.05" y="492.79" width="0.9" height="1.28" fill="#c0222a"/>
<rect x="351.05" y="492.51" width="0.9" height="1.56" fill="#c0222a"/>
<rect x="352.05" y="492.83" width="0.9" height="1.24" fill="#c0222a"/>
<rect x="318.05" y="493.18" width="0.9" height="0.89" fill="#c0222a"/>
<rect x="309.05" y="493.17" width="0.9" height="0.90" fill="#c0222a"/>
<rect x="361.05" y="492.43" width="0.9" height="1.64" fill="#c0222a"/>
<rect x="365.05" y="492.39" width="0.9" height="1.68" fill="#c0222a"/>
<rect x="481.05" y="493.00" width="0.9" height="1.07" fill="#c0222a"/>
<rect x="599.05" y="493.22" width="0.9" height="0.85" fill="#c0222a"/>
<rect x="390.05" y="493.19" width="0.9" height="0.88" fill="#c0222a"/>
<rect x="623.05" y="492.95" width="0.9" height="1.12" fill="#c0222a"/>
<rect x="423.05" y="492.93" width="0.9" height="1.14" fill="#c0222a"/>
<rect x="116" y="310.15" width="530" height="1.5" fill="#c9c9c9"/>
<text x="116.60" y="300.93" font-size="6.8" text-anchor="start" font-weight="normal" fill="#2a2a2a" stroke="#2a2a2a" stroke-width="0.08" >[0 – 1.00]</text>
<rect x="116" y="326.82" width="530" height="1.5" fill="#c9c9c9"/>
<text x="116.60" y="317.60" font-size="6.8" text-anchor="start" font-weight="normal" fill="#2a2a2a" stroke="#2a2a2a" stroke-width="0.08" >[0 – 1.00]</text>
<rect x="116" y="343.49" width="530" height="1.5" fill="#c9c9c9"/>
<text x="116.60" y="334.27" font-size="6.8" text-anchor="start" font-weight="normal" fill="#2a2a2a" stroke="#2a2a2a" stroke-width="0.08" >[0 – 1.00]</text>
<rect x="116" y="360.16" width="530" height="1.5" fill="#c9c9c9"/>
<text x="116.60" y="350.94" font-size="6.8" text-anchor="start" font-weight="normal" fill="#2a2a2a" stroke="#2a2a2a" stroke-width="0.08" >[0 – 1.00]</text>
<rect x="116" y="376.83" width="530" height="1.5" fill="#c9c9c9"/>
<text x="116.60" y="367.61" font-size="6.8" text-anchor="start" font-weight="normal" fill="#2a2a2a" stroke="#2a2a2a" stroke-width="0.08" >[0 – 1.00]</text>
<rect x="116" y="393.50" width="530" height="1.5" fill="#c9c9c9"/>
<text x="116.60" y="384.28" font-size="6.8" text-anchor="start" font-weight="normal" fill="#2a2a2a" stroke="#2a2a2a" stroke-width="0.08" >[0 – 1.00]</text>
<rect x="116" y="410.17" width="530" height="1.5" fill="#c9c9c9"/>
<text x="116.60" y="400.95" font-size="6.8" text-anchor="start" font-weight="normal" fill="#2a2a2a" stroke="#2a2a2a" stroke-width="0.08" >[0 – 1.00]</text>
<rect x="116" y="426.84" width="530" height="1.5" fill="#c9c9c9"/>
<text x="116.60" y="417.62" font-size="6.8" text-anchor="start" font-weight="normal" fill="#2a2a2a" stroke="#2a2a2a" stroke-width="0.08" >[0 – 1.00]</text>
<rect x="116" y="443.51" width="530" height="1.5" fill="#c9c9c9"/>
<text x="116.60" y="434.29" font-size="6.8" text-anchor="start" font-weight="normal" fill="#2a2a2a" stroke="#2a2a2a" stroke-width="0.08" >[0 – 1.00]</text>
<rect x="116" y="460.18" width="530" height="1.5" fill="#c9c9c9"/>
<text x="116.60" y="450.96" font-size="6.8" text-anchor="start" font-weight="normal" fill="#2a2a2a" stroke="#2a2a2a" stroke-width="0.08" >[0 – 1.00]</text>
<rect x="116" y="476.85" width="530" height="1.5" fill="#c9c9c9"/>
<text x="116.60" y="467.63" font-size="6.8" text-anchor="start" font-weight="normal" fill="#2a2a2a" stroke="#2a2a2a" stroke-width="0.08" >[0 – 1.00]</text>
<rect x="116" y="493.52" width="530" height="1.5" fill="#c9c9c9"/>
<text x="116.60" y="484.30" font-size="6.8" text-anchor="start" font-weight="normal" fill="#2a2a2a" stroke="#2a2a2a" stroke-width="0.08" >[0 – 1.00]</text>
<rect x="88.4" y="299.90" width="1.6" height="38.80" fill="#9a9a9a"/>
<text x="102.70" y="305.70" font-size="9.45" text-anchor="middle" font-weight="normal" fill="#111" stroke="#111" stroke-width="0.15" >CG</text>
<text x="102.70" y="322.25" font-size="9.45" text-anchor="middle" font-weight="normal" fill="#111" stroke="#111" stroke-width="0.15" >CHG</text>
<text x="102.70" y="338.80" font-size="9.45" text-anchor="middle" font-weight="normal" fill="#111" stroke="#111" stroke-width="0.15" >CHH</text>
<rect x="88.4" y="349.30" width="1.6" height="38.30" fill="#9a9a9a"/>
<text x="102.70" y="355.10" font-size="9.45" text-anchor="middle" font-weight="normal" fill="#111" stroke="#111" stroke-width="0.15" >CG</text>
<text x="102.70" y="371.40" font-size="9.45" text-anchor="middle" font-weight="normal" fill="#111" stroke="#111" stroke-width="0.15" >CHG</text>
<text x="102.70" y="387.70" font-size="9.45" text-anchor="middle" font-weight="normal" fill="#111" stroke="#111" stroke-width="0.15" >CHH</text>
<rect x="88.4" y="398.20" width="1.6" height="38.40" fill="#9a9a9a"/>
<text x="102.70" y="404.00" font-size="9.45" text-anchor="middle" font-weight="normal" fill="#111" stroke="#111" stroke-width="0.15" >CG</text>
<text x="102.70" y="420.35" font-size="9.45" text-anchor="middle" font-weight="normal" fill="#111" stroke="#111" stroke-width="0.15" >CHG</text>
<text x="102.70" y="436.70" font-size="9.45" text-anchor="middle" font-weight="normal" fill="#111" stroke="#111" stroke-width="0.15" >CHH</text>
<rect x="88.4" y="447.80" width="1.6" height="38.40" fill="#9a9a9a"/>
<text x="102.70" y="453.60" font-size="9.45" text-anchor="middle" font-weight="normal" fill="#111" stroke="#111" stroke-width="0.15" >CG</text>
<text x="102.70" y="469.95" font-size="9.45" text-anchor="middle" font-weight="normal" fill="#111" stroke="#111" stroke-width="0.15" >CHG</text>
<text x="102.70" y="486.30" font-size="9.45" text-anchor="middle" font-weight="normal" fill="#111" stroke="#111" stroke-width="0.15" >CHH</text>
<text x="53.40" y="322.20" font-size="9.45" text-anchor="middle" font-weight="normal" fill="#111" stroke="#111" stroke-width="0.15" ><tspan>L</tspan><tspan font-style="italic">er</tspan></text>
<text x="53.40" y="361.80" font-size="9.45" text-anchor="middle" font-weight="normal" fill="#111" stroke="#111" stroke-width="0.15" >T1 22aa Sun</text>
<text x="53.40" y="372.80" font-size="9.45" text-anchor="middle" font-weight="normal" fill="#111" stroke="#111" stroke-width="0.15" >DRMcd</text>
<text x="53.40" y="383.90" font-size="9.45" text-anchor="middle" font-weight="normal" fill="#111" stroke="#111" stroke-width="0.15" >noNLS SUP-1</text>
<text x="53.40" y="410.80" font-size="9.45" text-anchor="middle" font-weight="normal" fill="#111" stroke="#111" stroke-width="0.15" >T1 22aa Sun</text>
<text x="53.40" y="422.00" font-size="9.45" text-anchor="middle" font-weight="normal" fill="#111" stroke="#111" stroke-width="0.15" >DRMcd</text>
<text x="53.40" y="433.20" font-size="9.45" text-anchor="middle" font-weight="normal" fill="#111" stroke="#111" stroke-width="0.15" >noNLS SUP-2</text>
<text x="53.40" y="460.30" font-size="9.45" text-anchor="middle" font-weight="normal" fill="#111" stroke="#111" stroke-width="0.15" >T1 22aa Sun</text>
<text x="53.40" y="471.50" font-size="9.45" text-anchor="middle" font-weight="normal" fill="#111" stroke="#111" stroke-width="0.15" >DRMcd</text>
<text x="53.40" y="482.60" font-size="9.45" text-anchor="middle" font-weight="normal" fill="#111" stroke="#111" stroke-width="0.15" >noNLS SUP-3</text>
<rect x="306.5" y="501.35" width="166" height="1.5" fill="#1e1eb4"/>
<text x="299.20" y="510.50" font-size="8" text-anchor="start" font-weight="normal" fill="#111" stroke="#111" stroke-width="0.15" >TSS</text>
<text x="371.60" y="511.30" font-size="8" text-anchor="start" font-weight="normal" fill="#111" stroke="#111" stroke-width="0.15" >AT3G23130</text>
<text x="464.30" y="510.50" font-size="8" text-anchor="start" font-weight="normal" fill="#111" stroke="#111" stroke-width="0.15" >TTS</text>
<rect x="303.8" y="514.00" width="3.6" height="1.4" fill="#e8141a"/>
<rect x="325.5" y="514.00" width="3.6" height="1.4" fill="#e8141a"/>
<text x="305.00" y="525.00" font-size="8" text-anchor="middle" font-weight="normal" fill="#111" stroke="#111" stroke-width="0.15" >g1</text>
<text x="327.20" y="525.00" font-size="8" text-anchor="middle" font-weight="normal" fill="#111" stroke="#111" stroke-width="0.15" >g2</text>
<text x="130.50" y="549.70" font-size="9.45" text-anchor="middle" font-weight="normal" fill="#111" stroke="#111" stroke-width="0.15" >Chr3</text>
<clipPath id="clip43_557"><rect x="44.0" y="557.8" width="160.0" height="37.200000000000045"/></clipPath>
<g clip-path="url(#clip43_557)">
<polyline points="51.10,592.80 52.10,592.04 52.90,591.90 53.10,592.21 54.10,592.48 54.70,592.50 55.10,592.54 56.10,593.23 56.60,593.50 57.10,593.02 58.10,592.27 58.40,591.90 59.10,591.88 60.10,591.08 60.30,591.30 61.10,591.37 62.10,592.20 63.10,591.72 64.10,590.71 64.60,590.40 65.10,590.92 66.10,591.05 66.40,591.60 67.10,592.03 68.10,592.89 68.20,592.80 69.10,592.29 70.10,592.43 70.70,591.90 71.10,592.31 72.10,592.04 72.50,592.50 73.10,592.48 74.10,593.37 74.40,593.50 75.10,593.22 76.10,592.00 76.80,591.50 77.10,591.22 78.10,591.10 78.70,591.00 79.10,590.18 80.10,589.09 80.50,588.80 81.10,588.16 81.70,587.60 82.10,587.90 83.00,588.60 83.10,588.35 84.10,587.77 84.20,587.90 85.10,588.90 86.00,590.30 86.10,590.36 87.10,591.08 87.90,591.90 88.10,591.39 89.10,591.09 90.10,590.01 90.30,589.80 91.10,590.24 92.10,590.34 92.20,590.60 93.10,591.89 94.00,592.50 94.10,592.65 95.10,591.13 95.90,590.60 96.10,590.35 97.10,589.96 97.70,589.40 98.10,589.97 99.10,591.18 99.50,591.30 100.10,591.61 101.10,592.49 102.00,592.80 102.10,592.80 103.10,591.32 103.80,590.60 104.10,590.28 105.10,589.23 105.70,588.20 106.10,588.53 107.10,588.51 107.50,588.60 108.10,589.06 109.10,589.34 109.30,589.80 110.10,589.20 111.10,589.06 111.20,588.80 112.10,587.39 113.00,586.10 113.10,585.81 114.10,585.44 114.90,584.90 115.10,585.34 116.10,586.82 116.70,587.60 117.10,586.61 118.10,584.39 118.60,583.30 119.10,582.78 120.10,581.91 120.40,581.40 121.10,580.71 122.10,579.62 122.20,579.59 122.50,578.38 123.10,575.89 124.10,571.42 124.30,570.92 125.10,567.60 126.10,564.20 127.10,564.80 127.40,564.80 128.10,564.67 129.10,563.73 129.20,563.60 130.10,562.46 130.80,561.70 131.10,561.97 132.10,563.87 132.30,564.20 133.10,563.67 133.50,562.90 134.10,561.77 135.00,559.60 135.10,559.76 136.10,561.30 136.60,561.70 137.10,561.35 138.10,561.21 138.40,561.10 139.10,561.07 139.60,560.50 140.10,560.91 141.10,561.55 142.10,562.30 143.10,562.76 144.10,563.58 144.50,563.80 145.10,565.14 145.80,566.00 146.10,566.58 147.00,569.73 147.10,570.55 148.10,576.78 148.20,577.17 149.10,580.17 149.40,580.80 150.10,580.65 150.70,580.20 151.10,579.88 151.90,578.60 152.10,579.19 152.90,581.50 153.10,581.70 154.10,582.41 154.40,582.70 155.10,584.02 155.60,585.50 156.10,585.81 157.10,585.72 157.40,585.70 158.10,585.17 158.70,585.10 159.10,585.74 159.90,587.00 160.10,587.12 161.10,587.70 161.70,588.20 162.10,588.49 162.90,589.40 163.10,589.15 164.10,587.82 164.20,587.60 165.10,588.08 166.00,588.40 166.10,588.52 167.10,589.75 167.90,591.30 168.10,591.26 169.10,591.97 170.10,593.01 170.30,593.10 171.10,593.54 172.10,593.74 172.80,593.70 173.10,593.71 174.10,593.05 174.60,592.50 175.10,591.67 176.10,590.76 177.10,589.20 178.10,590.82 178.90,591.90 179.10,591.69 180.10,592.06 181.10,592.48 181.30,592.90 182.10,593.12 183.10,592.82 184.10,592.78 185.00,593.10 185.10,593.15 186.10,592.57 187.10,591.99 188.10,591.90 189.10,591.90 190.10,592.40 190.60,592.50 191.10,592.37 192.10,592.64 193.10,593.15 193.60,593.10 194.10,592.83 195.10,592.26 196.10,591.90 197.10,592.38 197.30,592.50" fill="none" stroke="#a6cee3" stroke-width="1.5" stroke-linejoin="round" stroke-linecap="butt"/>
<polyline points="51.10,592.80 52.10,592.04 52.90,591.90 53.10,592.21 54.10,592.48 54.70,592.50 55.10,592.54 56.10,593.23 56.60,593.50 57.10,593.02 58.10,592.27 58.40,591.90 59.10,591.88 60.10,591.08 60.30,591.30 61.10,591.37 62.10,592.20 63.10,591.72 64.10,590.71 64.60,590.40 65.10,590.92 66.10,591.05 66.40,591.60 67.10,592.03 68.10,592.89 68.20,592.80 69.10,592.29 70.10,592.43 70.70,591.90 71.10,592.31 72.10,592.04 72.50,592.50 73.10,592.48 74.10,593.37 74.40,593.50 75.10,593.22 76.10,592.00 76.80,591.50 77.10,591.22 78.10,591.10 78.70,591.00 79.10,590.18 80.10,589.09 80.50,588.80 81.10,588.16 81.70,587.60 82.10,587.90 83.00,588.60 83.10,588.35 84.10,587.77 84.20,587.90 85.10,588.90 86.00,590.30 86.10,590.36 87.10,591.08 87.90,591.90 88.10,591.39 89.10,591.09 90.10,590.01 90.30,589.80 91.10,590.24 92.10,590.34 92.20,590.60 93.10,591.89 94.00,592.50 94.10,592.65 95.10,591.13 95.90,590.60 96.10,590.35 97.10,589.96 97.70,589.40 98.10,589.97 99.10,591.18 99.50,591.30 100.10,591.61 101.10,592.49 102.00,592.80 102.10,592.80 103.10,591.32 103.80,590.60 104.10,590.28 105.10,589.23 105.70,588.20 106.10,588.53 107.10,588.51 107.50,588.60 108.10,589.06 109.10,589.34 109.30,589.80 110.10,589.20 111.10,589.06 111.20,588.80 112.10,587.39 113.00,586.10 113.10,585.81 114.10,585.44 114.90,584.90 115.10,585.34 116.10,586.82 116.70,587.60 117.10,586.61 118.10,584.39 118.60,583.30 119.10,582.78 120.10,581.91 120.40,581.40 121.10,580.71 122.10,579.62 122.20,579.59 122.50,578.38 123.10,575.89 124.10,571.42 124.30,570.92 125.10,567.60 126.10,564.20 127.10,564.80 127.40,564.80 128.10,564.67 129.10,563.73 129.20,563.60 130.10,562.46 130.80,561.70 131.10,561.97 132.10,563.87 132.30,564.20 133.10,563.67 133.50,562.90 134.10,561.77 135.00,559.60 135.10,559.76 136.10,561.30 136.60,561.70 137.10,561.35 138.10,561.21 138.40,561.10 139.10,561.07 139.60,560.50 140.10,560.91 141.10,561.55 142.10,562.30 143.10,562.76 144.10,563.58 144.50,563.80 145.10,565.14 145.80,566.00 146.10,566.58 147.00,569.73 147.10,570.55 148.10,576.78 148.20,577.17 149.10,580.17 149.40,580.80 150.10,580.65 150.70,580.20 151.10,579.88 151.90,578.60 152.10,579.19 152.90,581.50 153.10,581.70 154.10,582.41 154.40,582.70 155.10,584.02 155.60,585.50 156.10,585.81 157.10,585.72 157.40,585.70 158.10,585.17 158.70,585.10 159.10,585.74 159.90,587.00 160.10,587.12 161.10,587.70 161.70,588.20 162.10,588.49 162.90,589.40 163.10,589.15 164.10,587.82 164.20,587.60 165.10,588.08 166.00,588.40 166.10,588.52 167.10,589.75 167.90,591.30 168.10,591.26 169.10,591.97 170.10,593.01 170.30,593.10 171.10,593.54 172.10,593.74 172.80,593.70 173.10,593.71 174.10,593.05 174.60,592.50 175.10,591.67 176.10,590.76 177.10,589.20 178.10,590.82 178.90,591.90 179.10,591.69 180.10,592.06 181.10,592.48 181.30,592.90 182.10,593.12 183.10,592.82 184.10,592.78 185.00,593.10 185.10,593.15 186.10,592.57 187.10,591.99 188.10,591.90 189.10,591.90 190.10,592.40 190.60,592.50 191.10,592.37 192.10,592.64 193.10,593.15 193.60,593.10 194.10,592.83 195.10,592.26 196.10,591.90 197.10,592.38 197.30,592.50" fill="none" stroke="#1f78b4" stroke-width="1.5" stroke-linejoin="round" stroke-linecap="butt"/>
<polyline points="51.10,592.70 52.10,591.94 52.90,591.80 53.10,592.11 54.10,592.38 54.70,592.40 55.10,592.44 56.10,593.13 56.60,593.40 57.10,592.92 58.10,592.17 58.40,591.80 59.10,591.78 60.10,590.98 60.30,591.20 61.10,591.27 62.10,592.10 63.10,591.62 64.10,590.61 64.60,590.30 65.10,590.82 66.10,590.95 66.40,591.50 67.10,591.93 68.10,592.79 68.20,592.70 69.10,592.19 70.10,592.33 70.70,591.80 71.10,592.21 72.10,591.94 72.50,592.40 73.10,592.38 74.10,593.27 74.40,593.40 75.10,593.12 76.10,591.90 76.80,591.40 77.10,591.12 78.10,591.00 78.70,590.90 79.10,590.08 80.10,588.99 80.50,588.70 81.10,588.06 81.70,587.50 82.10,587.80 83.00,588.50 83.10,588.25 84.10,587.67 84.20,587.80 85.10,588.80 86.00,590.20 86.10,590.26 87.10,590.98 87.90,591.80 88.10,591.29 89.10,590.99 90.10,589.91 90.30,589.70 91.10,590.14 92.10,590.24 92.20,590.50 93.10,591.79 94.00,592.40 94.10,592.55 95.10,591.03 95.90,590.50 96.10,590.25 97.10,589.86 97.70,589.30 98.10,589.87 99.10,591.08 99.50,591.20 100.10,591.51 101.10,592.39 102.00,592.70 102.10,592.70 103.10,591.22 103.80,590.50 104.10,590.18 105.10,589.13 105.70,588.10 106.10,588.43 107.10,588.41 107.50,588.50 108.10,588.96 109.10,589.24 109.30,589.70 110.10,589.10 111.10,588.96 111.20,588.70 112.10,587.29 113.00,586.00 113.10,585.71 114.10,585.34 114.90,584.80 115.10,585.24 116.10,586.72 116.70,587.50 117.10,586.51 118.10,584.29 118.60,583.20 119.10,582.68 120.10,581.81 120.40,581.30 121.10,580.61 122.10,579.54 122.20,579.52 122.50,578.35 123.10,575.94 124.10,571.60 124.30,571.13 125.10,567.90 126.10,564.50 127.10,565.10 127.40,565.10 128.10,564.97 129.10,564.03 129.20,563.90 130.10,562.76 130.80,562.00 131.10,562.27 132.10,564.17 132.30,564.50 133.10,563.97 133.50,563.20 134.10,562.07 135.00,559.90 135.10,560.06 136.10,561.60 136.60,562.00 137.10,561.65 138.10,561.51 138.40,561.40 139.10,561.37 139.60,560.80 140.10,561.21 141.10,561.85 142.10,562.60 143.10,563.06 144.10,563.88 144.50,564.10 145.10,565.44 145.80,566.30 146.10,566.87 147.00,569.90 147.10,570.71 148.10,576.80 148.20,577.18 149.10,580.07 149.40,580.70 150.10,580.55 150.70,580.10 151.10,579.78 151.90,578.50 152.10,579.09 152.90,581.40 153.10,581.60 154.10,582.31 154.40,582.60 155.10,583.92 155.60,585.40 156.10,585.71 157.10,585.62 157.40,585.60 158.10,585.07 158.70,585.00 159.10,585.64 159.90,586.90 160.10,587.02 161.10,587.60 161.70,588.10 162.10,588.39 162.90,589.30 163.10,589.05 164.10,587.72 164.20,587.50 165.10,587.98 166.00,588.30 166.10,588.42 167.10,589.65 167.90,591.20 168.10,591.16 169.10,591.87 170.10,592.91 170.30,593.00 171.10,593.44 172.10,593.64 172.80,593.60 173.10,593.61 174.10,592.95 174.60,592.40 175.10,591.57 176.10,590.66 177.10,589.10 178.10,590.72 178.90,591.80 179.10,591.59 180.10,591.96 181.10,592.38 181.30,592.80 182.10,593.02 183.10,592.72 184.10,592.68 185.00,593.00 185.10,593.05 186.10,592.47 187.10,591.89 188.10,591.80 189.10,591.80 190.10,592.30 190.60,592.40 191.10,592.27 192.10,592.54 193.10,593.05 193.60,593.00 194.10,592.73 195.10,592.16 196.10,591.80 197.10,592.28 197.30,592.40" fill="none" stroke="#b2df8a" stroke-width="1.5" stroke-linejoin="round" stroke-linecap="butt"/>
<polyline points="51.10,592.60 52.10,591.84 52.90,591.70 53.10,592.01 54.10,592.28 54.70,592.30 55.10,592.34 56.10,593.03 56.60,593.30 57.10,592.82 58.10,592.07 58.40,591.70 59.10,591.68 60.10,590.88 60.30,591.10 61.10,591.17 62.10,592.00 63.10,591.52 64.10,590.51 64.60,590.20 65.10,590.72 66.10,590.85 66.40,591.40 67.10,591.83 68.10,592.69 68.20,592.60 69.10,592.09 70.10,592.23 70.70,591.70 71.10,592.11 72.10,591.84 72.50,592.30 73.10,592.28 74.10,593.17 74.40,593.30 75.10,593.02 76.10,591.80 76.80,591.30 77.10,591.02 78.10,590.90 78.70,590.80 79.10,589.98 80.10,588.89 80.50,588.60 81.10,587.96 81.70,587.40 82.10,587.70 83.00,588.40 83.10,588.15 84.10,587.57 84.20,587.70 85.10,588.70 86.00,590.10 86.10,590.16 87.10,590.88 87.90,591.70 88.10,591.19 89.10,590.89 90.10,589.81 90.30,589.60 91.10,590.04 92.10,590.14 92.20,590.40 93.10,591.69 94.00,592.30 94.10,592.45 95.10,590.93 95.90,590.40 96.10,590.15 97.10,589.76 97.70,589.20 98.10,589.77 99.10,590.98 99.50,591.10 100.10,591.41 101.10,592.29 102.00,592.60 102.10,592.60 103.10,591.12 103.80,590.40 104.10,590.08 105.10,589.03 105.70,588.00 106.10,588.33 107.10,588.31 107.50,588.40 108.10,588.86 109.10,589.14 109.30,589.60 110.10,589.00 111.10,588.86 111.20,588.60 112.10,587.19 113.00,585.90 113.10,585.61 114.10,585.24 114.90,584.70 115.10,585.14 116.10,586.62 116.70,587.40 117.10,586.41 118.10,584.19 118.60,583.10 119.10,582.58 120.10,581.71 120.40,581.20 121.10,580.51 122.10,579.43 122.20,579.41 122.50,578.23 123.10,575.80 124.10,571.43 124.30,570.95 125.10,567.70 126.10,564.30 127.10,564.90 127.40,564.90 128.10,564.77 129.10,563.83 129.20,563.70 130.10,562.56 130.80,561.80 131.10,562.07 132.10,563.97 132.30,564.30 133.10,563.77 133.50,563.00 134.10,561.87 135.00,559.70 135.10,559.86 136.10,561.40 136.60,561.80 137.10,561.45 138.10,561.31 138.40,561.20 139.10,561.17 139.60,560.60 140.10,561.01 141.10,561.65 142.10,562.40 143.10,562.86 144.10,563.68 144.50,563.90 145.10,565.24 145.80,566.10 146.10,566.67 147.00,569.73 147.10,570.54 148.10,576.67 148.20,577.05 149.10,579.97 149.40,580.60 150.10,580.45 150.70,580.00 151.10,579.68 151.90,578.40 152.10,578.99 152.90,581.30 153.10,581.50 154.10,582.21 154.40,582.50 155.10,583.82 155.60,585.30 156.10,585.61 157.10,585.52 157.40,585.50 158.10,584.97 158.70,584.90 159.10,585.54 159.90,586.80 160.10,586.92 161.10,587.50 161.70,588.00 162.10,588.29 162.90,589.20 163.10,588.95 164.10,587.62 164.20,587.40 165.10,587.88 166.00,588.20 166.10,588.32 167.10,589.55 167.90,591.10 168.10,591.06 169.10,591.77 170.10,592.81 170.30,592.90 171.10,593.34 172.10,593.54 172.80,593.50 173.10,593.51 174.10,592.85 174.60,592.30 175.10,591.47 176.10,590.56 177.10,589.00 178.10,590.62 178.90,591.70 179.10,591.49 180.10,591.86 181.10,592.28 181.30,592.70 182.10,592.92 183.10,592.62 184.10,592.58 185.00,592.90 185.10,592.95 186.10,592.37 187.10,591.79 188.10,591.70 189.10,591.70 190.10,592.20 190.60,592.30 191.10,592.17 192.10,592.44 193.10,592.95 193.60,592.90 194.10,592.63 195.10,592.06 196.10,591.70 197.10,592.18 197.30,592.30" fill="none" stroke="#fb9a99" stroke-width="1.5" stroke-linejoin="round" stroke-linecap="butt"/>
<polyline points="51.10,592.75 52.10,591.99 52.90,591.85 53.10,592.16 54.10,592.43 54.70,592.45 55.10,592.49 56.10,593.18 56.60,593.45 57.10,592.97 58.10,592.22 58.40,591.85 59.10,591.83 60.10,591.03 60.30,591.25 61.10,591.32 62.10,592.15 63.10,591.67 64.10,590.66 64.60,590.35 65.10,590.87 66.10,591.00 66.40,591.55 67.10,591.98 68.10,592.84 68.20,592.75 69.10,592.24 70.10,592.38 70.70,591.85 71.10,592.26 72.10,591.99 72.50,592.45 73.10,592.43 74.10,593.32 74.40,593.45 75.10,593.17 76.10,591.95 76.80,591.45 77.10,591.17 78.10,591.05 78.70,590.95 79.10,590.13 80.10,589.04 80.50,588.75 81.10,588.11 81.70,587.55 82.10,587.85 83.00,588.55 83.10,588.30 84.10,587.72 84.20,587.85 85.10,588.85 86.00,590.25 86.10,590.31 87.10,591.03 87.90,591.85 88.10,591.34 89.10,591.04 90.10,589.96 90.30,589.75 91.10,590.19 92.10,590.29 92.20,590.55 93.10,591.84 94.00,592.45 94.10,592.60 95.10,591.08 95.90,590.55 96.10,590.30 97.10,589.91 97.70,589.35 98.10,589.92 99.10,591.13 99.50,591.25 100.10,591.56 101.10,592.44 102.00,592.75 102.10,592.75 103.10,591.27 103.80,590.55 104.10,590.23 105.10,589.18 105.70,588.15 106.10,588.48 107.10,588.46 107.50,588.55 108.10,589.01 109.10,589.29 109.30,589.75 110.10,589.15 111.10,589.01 111.20,588.75 112.10,587.34 113.00,586.05 113.10,585.76 114.10,585.39 114.90,584.85 115.10,585.29 116.10,586.77 116.70,587.55 117.10,586.56 118.10,584.34 118.60,583.25 119.10,582.73 120.10,581.86 120.40,581.35 121.10,580.66 122.10,579.59 122.20,579.57 122.50,578.41 123.10,576.00 124.10,571.69 124.30,571.22 125.10,568.00 126.10,564.60 127.10,565.20 127.40,565.20 128.10,565.07 129.10,564.13 129.20,564.00 130.10,562.86 130.80,562.10 131.10,562.37 132.10,564.27 132.30,564.60 133.10,564.07 133.50,563.30 134.10,562.17 135.00,560.00 135.10,560.16 136.10,561.70 136.60,562.10 137.10,561.75 138.10,561.61 138.40,561.50 139.10,561.47 139.60,560.90 140.10,561.31 141.10,561.95 142.10,562.70 143.10,563.16 144.10,563.98 144.50,564.20 145.10,565.54 145.80,566.40 146.10,566.97 147.00,569.98 147.10,570.79 148.10,576.86 148.20,577.24 149.10,580.12 149.40,580.75 150.10,580.60 150.70,580.15 151.10,579.83 151.90,578.55 152.10,579.14 152.90,581.45 153.10,581.65 154.10,582.36 154.40,582.65 155.10,583.97 155.60,585.45 156.10,585.76 157.10,585.67 157.40,585.65 158.10,585.12 158.70,585.05 159.10,585.69 159.90,586.95 160.10,587.07 161.10,587.65 161.70,588.15 162.10,588.44 162.90,589.35 163.10,589.10 164.10,587.77 164.20,587.55 165.10,588.03 166.00,588.35 166.10,588.47 167.10,589.70 167.90,591.25 168.10,591.21 169.10,591.92 170.10,592.96 170.30,593.05 171.10,593.49 172.10,593.69 172.80,593.65 173.10,593.66 174.10,593.00 174.60,592.45 175.10,591.62 176.10,590.71 177.10,589.15 178.10,590.77 178.90,591.85 179.10,591.64 180.10,592.01 181.10,592.43 181.30,592.85 182.10,593.07 183.10,592.77 184.10,592.73 185.00,593.05 185.10,593.10 186.10,592.52 187.10,591.94 188.10,591.85 189.10,591.85 190.10,592.35 190.60,592.45 191.10,592.32 192.10,592.59 193.10,593.10 193.60,593.05 194.10,592.78 195.10,592.21 196.10,591.85 197.10,592.33 197.30,592.45" fill="none" stroke="#33a02c" stroke-width="1.5" stroke-linejoin="round" stroke-linecap="butt"/>
<polyline points="51.10,592.50 52.10,591.74 52.90,591.60 53.10,591.91 54.10,592.18 54.70,592.20 55.10,592.24 56.10,592.93 56.60,593.20 57.10,592.72 58.10,591.97 58.40,591.60 59.10,591.58 60.10,590.78 60.30,591.00 61.10,591.07 62.10,591.90 63.10,591.42 64.10,590.41 64.60,590.10 65.10,590.62 66.10,590.75 66.40,591.30 67.10,591.73 68.10,592.59 68.20,592.50 69.10,591.99 70.10,592.13 70.70,591.60 71.10,592.01 72.10,591.74 72.50,592.20 73.10,592.18 74.10,593.07 74.40,593.20 75.10,592.92 76.10,591.70 76.80,591.20 77.10,590.92 78.10,590.80 78.70,590.70 79.10,589.88 80.10,588.79 80.50,588.50 81.10,587.86 81.70,587.30 82.10,587.60 83.00,588.30 83.10,588.05 84.10,587.47 84.20,587.60 85.10,588.60 86.00,590.00 86.10,590.06 87.10,590.78 87.90,591.60 88.10,591.09 89.10,590.79 90.10,589.71 90.30,589.50 91.10,589.94 92.10,590.04 92.20,590.30 93.10,591.59 94.00,592.20 94.10,592.35 95.10,590.83 95.90,590.30 96.10,590.05 97.10,589.66 97.70,589.10 98.10,589.67 99.10,590.88 99.50,591.00 100.10,591.31 101.10,592.19 102.00,592.50 102.10,592.50 103.10,591.02 103.80,590.30 104.10,589.98 105.10,588.93 105.70,587.90 106.10,588.23 107.10,588.21 107.50,588.30 108.10,588.76 109.10,589.04 109.30,589.50 110.10,588.90 111.10,588.76 111.20,588.50 112.10,587.09 113.00,585.80 113.10,585.51 114.10,585.14 114.90,584.60 115.10,585.04 116.10,586.52 116.70,587.30 117.10,586.31 118.10,584.09 118.60,583.00 119.10,582.48 120.10,581.61 120.40,581.10 121.10,580.41 122.10,579.33 122.20,579.30 122.50,578.10 123.10,575.63 124.10,571.19 124.30,570.70 125.10,567.40 126.10,564.00 127.10,564.60 127.40,564.60 128.10,564.47 129.10,563.53 129.20,563.40 130.10,562.26 130.80,561.50 131.10,561.77 132.10,563.67 132.30,564.00 133.10,563.47 133.50,562.70 134.10,561.57 135.00,559.40 135.10,559.56 136.10,561.10 136.60,561.50 137.10,561.15 138.10,561.01 138.40,560.90 139.10,560.87 139.60,560.30 140.10,560.71 141.10,561.35 142.10,562.10 143.10,562.56 144.10,563.38 144.50,563.60 145.10,564.94 145.80,565.80 146.10,566.38 147.00,569.50 147.10,570.32 148.10,576.51 148.20,576.90 149.10,579.87 149.40,580.50 150.10,580.35 150.70,579.90 151.10,579.58 151.90,578.30 152.10,578.89 152.90,581.20 153.10,581.40 154.10,582.11 154.40,582.40 155.10,583.72 155.60,585.20 156.10,585.51 157.10,585.42 157.40,585.40 158.10,584.87 158.70,584.80 159.10,585.44 159.90,586.70 160.10,586.82 161.10,587.40 161.70,587.90 162.10,588.19 162.90,589.10 163.10,588.85 164.10,587.52 164.20,587.30 165.10,587.78 166.00,588.10 166.10,588.22 167.10,589.45 167.90,591.00 168.10,590.96 169.10,591.67 170.10,592.71 170.30,592.80 171.10,593.24 172.10,593.44 172.80,593.40 173.10,593.41 174.10,592.75 174.60,592.20 175.10,591.37 176.10,590.46 177.10,588.90 178.10,590.52 178.90,591.60 179.10,591.39 180.10,591.76 181.10,592.18 181.30,592.60 182.10,592.82 183.10,592.52 184.10,592.48 185.00,592.80 185.10,592.85 186.10,592.27 187.10,591.69 188.10,591.60 189.10,591.60 190.10,592.10 190.60,592.20 191.10,592.07 192.10,592.34 193.10,592.85 193.60,592.80 194.10,592.53 195.10,591.96 196.10,591.60 197.10,592.08 197.30,592.20" fill="none" stroke="#e31a1c" stroke-width="1.6" stroke-linejoin="round" stroke-linecap="butt"/>
</g>
<rect x="43.50" y="557.30" width="161.00" height="38.20" fill="none" stroke="#4a4a4a" stroke-width="1.05"/>
<rect x="204.50" y="557.30" width="17.00" height="38.20" fill="#d9d9d9" stroke="#333" stroke-width="1"/>
<text x="213.60" y="575.50" font-size="9.45" fill="#111" stroke="#111" stroke-width="0.15" text-anchor="middle" dominant-baseline="central" transform="rotate(90 213.60 575.50)">CG</text>
<line x1="40.90" y1="560.70" x2="43.50" y2="560.70" stroke="#333" stroke-width="0.9"/>
<text x="38.25" y="563.70" font-size="9.45" text-anchor="end" font-weight="normal" fill="#111" stroke="#111" stroke-width="0.15" >0.8</text>
<line x1="40.90" y1="570.20" x2="43.50" y2="570.20" stroke="#333" stroke-width="0.9"/>
<text x="38.25" y="573.20" font-size="9.45" text-anchor="end" font-weight="normal" fill="#111" stroke="#111" stroke-width="0.15" >0.6</text>
<line x1="40.90" y1="579.70" x2="43.50" y2="579.70" stroke="#333" stroke-width="0.9"/>
<text x="38.25" y="582.70" font-size="9.45" text-anchor="end" font-weight="normal" fill="#111" stroke="#111" stroke-width="0.15" >0.4</text>
<line x1="40.90" y1="589.20" x2="43.50" y2="589.20" stroke="#333" stroke-width="0.9"/>
<text x="38.25" y="592.20" font-size="9.45" text-anchor="end" font-weight="normal" fill="#111" stroke="#111" stroke-width="0.15" >0.2</text>
<clipPath id="clip43_601"><rect x="44.0" y="601.7" width="160.0" height="36.89999999999998"/></clipPath>
<g clip-path="url(#clip43_601)">
<polyline points="51.10,637.00 52.10,636.97 53.10,637.04 54.10,637.30 55.10,636.98 55.40,637.00 56.10,636.95 57.10,636.92 58.10,636.56 59.10,636.71 60.10,636.71 60.30,636.60 61.10,636.70 62.10,636.07 63.10,636.08 64.00,636.10 64.10,635.84 65.10,636.59 66.10,636.76 67.10,636.55 67.60,637.00 68.10,637.22 69.10,636.96 70.10,636.50 71.10,636.23 71.30,636.10 72.10,636.01 73.10,636.10 74.10,636.65 75.00,636.80 75.10,636.50 76.10,636.64 77.10,636.73 78.10,636.64 78.70,637.00 79.10,635.73 79.70,633.90 80.10,633.29 81.10,632.16 81.40,631.50 82.10,632.63 82.40,633.10 83.10,632.61 83.60,632.10 84.10,633.00 84.60,633.90 85.10,634.26 86.00,634.60 86.10,634.72 87.10,636.06 87.50,636.80 88.10,636.55 89.10,635.20 90.10,635.88 90.90,635.80 91.10,636.13 92.10,636.52 93.10,636.73 93.40,637.00 94.10,636.77 95.10,636.76 96.10,636.55 97.10,636.80 98.10,636.77 99.10,636.30 100.10,636.39 100.80,636.00 101.10,635.84 102.10,635.97 103.10,635.63 103.80,635.20 104.10,634.65 105.10,634.11 105.70,633.90 106.10,634.09 107.10,633.53 108.10,633.30 109.10,633.11 110.00,632.30 110.10,632.15 111.10,631.15 111.80,630.90 112.10,630.54 113.10,629.14 113.60,628.20 114.10,628.35 114.90,629.00 115.10,629.53 116.10,633.90 117.10,632.78 117.30,632.70 118.10,631.21 119.10,628.81 119.20,628.40 120.00,628.20 120.10,627.91 121.10,627.75 121.60,627.80 122.10,626.74 122.50,626.40 123.10,626.00 124.10,618.86 124.30,617.80 125.10,613.92 126.10,608.60 127.10,612.30 128.10,611.74 129.10,611.67 129.20,611.60 130.10,607.89 130.40,606.70 131.10,606.26 132.10,606.33 132.30,606.10 133.10,605.31 134.10,604.90 135.10,604.00 135.30,603.70 136.10,604.91 136.60,606.10 137.10,605.88 138.10,605.40 138.40,605.50 139.10,605.69 139.60,606.10 140.10,606.93 141.10,607.81 141.50,608.00 142.10,608.01 143.10,608.67 143.90,608.60 144.10,608.67 145.10,610.19 145.20,610.40 146.10,613.75 147.00,616.60 147.10,617.21 148.10,621.91 148.20,622.70 149.10,625.08 150.10,627.00 151.10,626.05 151.70,625.80 152.10,626.03 152.90,627.00 153.10,627.09 154.10,626.40 155.10,628.28 155.60,629.40 156.10,629.09 157.10,628.60 157.40,628.80 158.10,629.54 158.70,630.70 159.10,631.29 160.10,632.39 160.50,633.10 161.10,633.57 162.10,634.08 162.30,634.30 163.10,634.14 164.10,634.34 164.20,634.00 165.10,633.62 166.10,633.27 166.40,633.10 167.10,634.19 168.10,634.90 168.50,635.60 169.10,635.56 170.10,636.42 170.30,636.20 171.10,636.53 172.10,636.26 173.10,636.34 173.40,636.60 174.10,636.71 175.10,636.77 175.80,636.40 176.10,636.01 177.10,635.96 177.70,635.30 178.10,635.72 179.10,635.90 180.10,636.20 181.10,636.31 182.10,636.25 183.10,636.36 183.80,636.80 184.10,637.11 185.10,636.55 186.10,636.82 187.10,636.45 187.50,636.60 188.10,636.71 189.10,636.36 190.10,635.96 191.10,635.69 191.20,635.90 192.10,636.30 193.00,636.40 193.10,636.00 194.10,635.17 194.80,634.70 195.10,634.68 196.10,634.67 196.70,634.30 197.10,634.83 197.50,635.20" fill="none" stroke="#a6cee3" stroke-width="1.5" stroke-linejoin="round" stroke-linecap="butt"/>
<polyline points="51.10,636.90 52.10,636.87 53.10,636.94 54.10,637.20 55.10,636.88 55.40,636.90 56.10,636.85 57.10,636.82 58.10,636.46 59.10,636.61 60.10,636.61 60.30,636.50 61.10,636.60 62.10,635.97 63.10,635.98 64.00,636.00 64.10,635.74 65.10,636.49 66.10,636.66 67.10,636.45 67.60,636.90 68.10,637.12 69.10,636.86 70.10,636.40 71.10,636.13 71.30,636.00 72.10,635.91 73.10,636.00 74.10,636.55 75.00,636.70 75.10,636.40 76.10,636.54 77.10,636.63 78.10,636.54 78.70,636.90 79.10,635.63 79.70,633.80 80.10,633.19 81.10,632.06 81.40,631.40 82.10,632.53 82.40,633.00 83.10,632.51 83.60,632.00 84.10,632.90 84.60,633.80 85.10,634.16 86.00,634.50 86.10,634.62 87.10,635.96 87.50,636.70 88.10,636.45 89.10,635.10 90.10,635.78 90.90,635.70 91.10,636.03 92.10,636.42 93.10,636.63 93.40,636.90 94.10,636.67 95.10,636.66 96.10,636.45 97.10,636.70 98.10,636.67 99.10,636.20 100.10,636.29 100.80,635.90 101.10,635.74 102.10,635.87 103.10,635.53 103.80,635.10 104.10,634.55 105.10,634.01 105.70,633.80 106.10,633.99 107.10,633.43 108.10,633.20 109.10,633.01 110.00,632.20 110.10,632.05 111.10,631.05 111.80,630.80 112.10,630.44 113.10,629.04 113.60,628.10 114.10,628.25 114.90,628.90 115.10,629.43 116.10,633.80 117.10,632.68 117.30,632.60 118.10,631.11 119.10,628.71 119.20,628.30 120.00,628.10 120.10,627.81 121.10,627.65 121.60,627.70 122.10,626.63 122.50,626.25 123.10,625.79 124.10,618.55 124.30,617.47 125.10,613.52 126.10,608.20 127.10,611.90 128.10,611.34 129.10,611.27 129.20,611.20 130.10,607.49 130.40,606.30 131.10,605.86 132.10,605.93 132.30,605.70 133.10,604.91 134.10,604.50 135.10,603.60 135.30,603.30 136.10,604.51 136.60,605.70 137.10,605.48 138.10,605.00 138.40,605.10 139.10,605.29 139.60,605.70 140.10,606.53 141.10,607.41 141.50,607.60 142.10,607.61 143.10,608.27 143.90,608.20 144.10,608.27 145.10,609.79 145.20,610.00 146.10,613.36 147.00,616.30 147.10,616.92 148.10,621.72 148.20,622.52 149.10,624.98 150.10,626.90 151.10,625.95 151.70,625.70 152.10,625.93 152.90,626.90 153.10,626.99 154.10,626.30 155.10,628.18 155.60,629.30 156.10,628.99 157.10,628.50 157.40,628.70 158.10,629.44 158.70,630.60 159.10,631.19 160.10,632.29 160.50,633.00 161.10,633.47 162.10,633.98 162.30,634.20 163.10,634.04 164.10,634.24 164.20,633.90 165.10,633.52 166.10,633.17 166.40,633.00 167.10,634.09 168.10,634.80 168.50,635.50 169.10,635.46 170.10,636.32 170.30,636.10 171.10,636.43 172.10,636.16 173.10,636.24 173.40,636.50 174.10,636.61 175.10,636.67 175.80,636.30 176.10,635.91 177.10,635.86 177.70,635.20 178.10,635.62 179.10,635.80 180.10,636.10 181.10,636.21 182.10,636.15 183.10,636.26 183.80,636.70 184.10,637.01 185.10,636.45 186.10,636.72 187.10,636.35 187.50,636.50 188.10,636.61 189.10,636.26 190.10,635.86 191.10,635.59 191.20,635.80 192.10,636.20 193.00,636.30 193.10,635.90 194.10,635.07 194.80,634.60 195.10,634.58 196.10,634.57 196.70,634.20 197.10,634.73 197.50,635.10" fill="none" stroke="#1f78b4" stroke-width="1.5" stroke-linejoin="round" stroke-linecap="butt"/>
<polyline points="51.10,636.60 52.10,636.57 53.10,636.64 54.10,636.90 55.10,636.58 55.40,636.60 56.10,636.55 57.10,636.52 58.10,636.16 59.10,636.31 60.10,636.31 60.30,636.20 61.10,636.30 62.10,635.67 63.10,635.68 64.00,635.70 64.10,635.44 65.10,636.19 66.10,636.36 67.10,636.15 67.60,636.60 68.10,636.82 69.10,636.56 70.10,636.10 71.10,635.83 71.30,635.70 72.10,635.61 73.10,635.70 74.10,636.25 75.00,636.40 75.10,636.10 76.10,636.24 77.10,636.33 78.10,636.24 78.70,636.60 79.10,635.33 79.70,633.50 80.10,632.89 81.10,631.76 81.40,631.10 82.10,632.23 82.40,632.70 83.10,632.21 83.60,631.70 84.10,632.60 84.60,633.50 85.10,633.86 86.00,634.20 86.10,634.32 87.10,635.66 87.50,636.40 88.10,636.15 89.10,634.80 90.10,635.48 90.90,635.40 91.10,635.73 92.10,636.12 93.10,636.33 93.40,636.60 94.10,636.37 95.10,636.36 96.10,636.15 97.10,636.40 98.10,636.37 99.10,635.90 100.10,635.99 100.80,635.60 101.10,635.44 102.10,635.57 103.10,635.23 103.80,634.80 104.10,634.25 105.10,633.71 105.70,633.50 106.10,633.69 107.10,633.13 108.10,632.90 109.10,632.71 110.00,631.90 110.10,631.75 111.10,630.75 111.80,630.50 112.10,630.14 113.10,628.74 113.60,627.80 114.10,627.95 114.90,628.60 115.10,629.13 116.10,633.50 117.10,632.38 117.30,632.30 118.10,630.81 119.10,628.41 119.20,628.00 120.00,627.80 120.10,627.51 121.10,627.35 121.60,627.40 122.10,626.38 122.50,626.17 123.10,625.97 124.10,619.16 124.30,618.17 125.10,614.52 126.10,609.20 127.10,612.90 128.10,612.34 129.10,612.27 129.20,612.20 130.10,608.49 130.40,607.30 131.10,606.86 132.10,606.93 132.30,606.70 133.10,605.91 134.10,605.50 135.10,604.60 135.30,604.30 136.10,605.51 136.60,606.70 137.10,606.48 138.10,606.00 138.40,606.10 139.10,606.29 139.60,606.70 140.10,607.53 141.10,608.41 141.50,608.60 142.10,608.61 143.10,609.27 143.90,609.20 144.10,609.27 145.10,610.79 145.20,611.00 146.10,614.31 147.00,616.87 147.10,617.44 148.10,621.81 148.20,622.57 149.10,624.68 150.10,626.60 151.10,625.65 151.70,625.40 152.10,625.63 152.90,626.60 153.10,626.69 154.10,626.00 155.10,627.88 155.60,629.00 156.10,628.69 157.10,628.20 157.40,628.40 158.10,629.14 158.70,630.30 159.10,630.89 160.10,631.99 160.50,632.70 161.10,633.17 162.10,633.68 162.30,633.90 163.10,633.74 164.10,633.94 164.20,633.60 165.10,633.22 166.10,632.87 166.40,632.70 167.10,633.79 168.10,634.50 168.50,635.20 169.10,635.16 170.10,636.02 170.30,635.80 171.10,636.13 172.10,635.86 173.10,635.94 173.40,636.20 174.10,636.31 175.10,636.37 175.80,636.00 176.10,635.61 177.10,635.56 177.70,634.90 178.10,635.32 179.10,635.50 180.10,635.80 181.10,635.91 182.10,635.85 183.10,635.96 183.80,636.40 184.10,636.71 185.10,636.15 186.10,636.42 187.10,636.05 187.50,636.20 188.10,636.31 189.10,635.96 190.10,635.56 191.10,635.29 191.20,635.50 192.10,635.90 193.00,636.00 193.10,635.60 194.10,634.77 194.80,634.30 195.10,634.28 196.10,634.27 196.70,633.90 197.10,634.43 197.50,634.80" fill="none" stroke="#b2df8a" stroke-width="1.5" stroke-linejoin="round" stroke-linecap="butt"/>
<polyline points="51.10,636.50 52.10,636.47 53.10,636.54 54.10,636.80 55.10,636.48 55.40,636.50 56.10,636.45 57.10,636.42 58.10,636.06 59.10,636.21 60.10,636.21 60.30,636.10 61.10,636.20 62.10,635.57 63.10,635.58 64.00,635.60 64.10,635.34 65.10,636.09 66.10,636.26 67.10,636.05 67.60,636.50 68.10,636.72 69.10,636.46 70.10,636.00 71.10,635.73 71.30,635.60 72.10,635.51 73.10,635.60 74.10,636.15 75.00,636.30 75.10,636.00 76.10,636.14 77.10,636.23 78.10,636.14 78.70,636.50 79.10,635.23 79.70,633.40 80.10,632.79 81.10,631.66 81.40,631.00 82.10,632.13 82.40,632.60 83.10,632.11 83.60,631.60 84.10,632.50 84.60,633.40 85.10,633.76 86.00,634.10 86.10,634.22 87.10,635.56 87.50,636.30 88.10,636.05 89.10,634.70 90.10,635.38 90.90,635.30 91.10,635.63 92.10,636.02 93.10,636.23 93.40,636.50 94.10,636.27 95.10,636.26 96.10,636.05 97.10,636.30 98.10,636.27 99.10,635.80 100.10,635.89 100.80,635.50 101.10,635.34 102.10,635.47 103.10,635.13 103.80,634.70 104.10,634.15 105.10,633.61 105.70,633.40 106.10,633.59 107.10,633.03 108.10,632.80 109.10,632.61 110.00,631.80 110.10,631.65 111.10,630.65 111.80,630.40 112.10,630.04 113.10,628.64 113.60,627.70 114.10,627.85 114.90,628.50 115.10,629.03 116.10,633.40 117.10,632.28 117.30,632.20 118.10,630.71 119.10,628.31 119.20,627.90 120.00,627.70 120.10,627.41 121.10,627.25 121.60,627.30 122.10,626.25 122.50,625.95 123.10,625.61 124.10,618.57 124.30,617.53 125.10,613.72 126.10,608.40 127.10,612.10 128.10,611.54 129.10,611.47 129.20,611.40 130.10,607.69 130.40,606.50 131.10,606.06 132.10,606.13 132.30,605.90 133.10,605.11 134.10,604.70 135.10,603.80 135.30,603.50 136.10,604.71 136.60,605.90 137.10,605.68 138.10,605.20 138.40,605.30 139.10,605.49 139.60,605.90 140.10,606.73 141.10,607.61 141.50,607.80 142.10,607.81 143.10,608.47 143.90,608.40 144.10,608.47 145.10,609.99 145.20,610.20 146.10,613.54 147.00,616.30 147.10,616.90 148.10,621.50 148.20,622.28 149.10,624.58 150.10,626.50 151.10,625.55 151.70,625.30 152.10,625.53 152.90,626.50 153.10,626.59 154.10,625.90 155.10,627.78 155.60,628.90 156.10,628.59 157.10,628.10 157.40,628.30 158.10,629.04 158.70,630.20 159.10,630.79 160.10,631.89 160.50,632.60 161.10,633.07 162.10,633.58 162.30,633.80 163.10,633.64 164.10,633.84 164.20,633.50 165.10,633.12 166.10,632.77 166.40,632.60 167.10,633.69 168.10,634.40 168.50,635.10 169.10,635.06 170.10,635.92 170.30,635.70 171.10,636.03 172.10,635.76 173.10,635.84 173.40,636.10 174.10,636.21 175.10,636.27 175.80,635.90 176.10,635.51 177.10,635.46 177.70,634.80 178.10,635.22 179.10,635.40 180.10,635.70 181.10,635.81 182.10,635.75 183.10,635.86 183.80,636.30 184.10,636.61 185.10,636.05 186.10,636.32 187.10,635.95 187.50,636.10 188.10,636.21 189.10,635.86 190.10,635.46 191.10,635.19 191.20,635.40 192.10,635.80 193.00,635.90 193.10,635.50 194.10,634.67 194.80,634.20 195.10,634.18 196.10,634.17 196.70,633.80 197.10,634.33 197.50,634.70" fill="none" stroke="#fb9a99" stroke-width="1.5" stroke-linejoin="round" stroke-linecap="butt"/>
<polyline points="51.10,636.60 52.10,636.57 53.10,636.64 54.10,636.90 55.10,636.58 55.40,636.60 56.10,636.55 57.10,636.52 58.10,636.16 59.10,636.31 60.10,636.31 60.30,636.20 61.10,636.30 62.10,635.67 63.10,635.68 64.00,635.70 64.10,635.44 65.10,636.19 66.10,636.36 67.10,636.15 67.60,636.60 68.10,636.82 69.10,636.56 70.10,636.10 71.10,635.83 71.30,635.70 72.10,635.61 73.10,635.70 74.10,636.25 75.00,636.40 75.10,636.10 76.10,636.24 77.10,636.33 78.10,636.24 78.70,636.60 79.10,635.33 79.70,633.50 80.10,632.89 81.10,631.76 81.40,631.10 82.10,632.23 82.40,632.70 83.10,632.21 83.60,631.70 84.10,632.60 84.60,633.50 85.10,633.86 86.00,634.20 86.10,634.32 87.10,635.66 87.50,636.40 88.10,636.15 89.10,634.80 90.10,635.48 90.90,635.40 91.10,635.73 92.10,636.12 93.10,636.33 93.40,636.60 94.10,636.37 95.10,636.36 96.10,636.15 97.10,636.40 98.10,636.37 99.10,635.90 100.10,635.99 100.80,635.60 101.10,635.44 102.10,635.57 103.10,635.23 103.80,634.80 104.10,634.25 105.10,633.71 105.70,633.50 106.10,633.69 107.10,633.13 108.10,632.90 109.10,632.71 110.00,631.90 110.10,631.75 111.10,630.75 111.80,630.50 112.10,630.14 113.10,628.74 113.60,627.80 114.10,627.95 114.90,628.60 115.10,629.13 116.10,633.50 117.10,632.38 117.30,632.30 118.10,630.81 119.10,628.41 119.20,628.00 120.00,627.80 120.10,627.51 121.10,627.35 121.60,627.40 122.10,626.38 122.50,626.18 123.10,626.00 124.10,619.23 124.30,618.24 125.10,614.62 126.10,609.30 127.10,613.00 128.10,612.44 129.10,612.37 129.20,612.30 130.10,608.59 130.40,607.40 131.10,606.96 132.10,607.03 132.30,606.80 133.10,606.01 134.10,605.60 135.10,604.70 135.30,604.40 136.10,605.61 136.60,606.80 137.10,606.58 138.10,606.10 138.40,606.20 139.10,606.39 139.60,606.80 140.10,607.63 141.10,608.51 141.50,608.70 142.10,608.71 143.10,609.37 143.90,609.30 144.10,609.37 145.10,610.89 145.20,611.10 146.10,614.41 147.00,616.93 147.10,617.50 148.10,621.84 148.20,622.59 149.10,624.68 150.10,626.60 151.10,625.65 151.70,625.40 152.10,625.63 152.90,626.60 153.10,626.69 154.10,626.00 155.10,627.88 155.60,629.00 156.10,628.69 157.10,628.20 157.40,628.40 158.10,629.14 158.70,630.30 159.10,630.89 160.10,631.99 160.50,632.70 161.10,633.17 162.10,633.68 162.30,633.90 163.10,633.74 164.10,633.94 164.20,633.60 165.10,633.22 166.10,632.87 166.40,632.70 167.10,633.79 168.10,634.50 168.50,635.20 169.10,635.16 170.10,636.02 170.30,635.80 171.10,636.13 172.10,635.86 173.10,635.94 173.40,636.20 174.10,636.31 175.10,636.37 175.80,636.00 176.10,635.61 177.10,635.56 177.70,634.90 178.10,635.32 179.10,635.50 180.10,635.80 181.10,635.91 182.10,635.85 183.10,635.96 183.80,636.40 184.10,636.71 185.10,636.15 186.10,636.42 187.10,636.05 187.50,636.20 188.10,636.31 189.10,635.96 190.10,635.56 191.10,635.29 191.20,635.50 192.10,635.90 193.00,636.00 193.10,635.60 194.10,634.77 194.80,634.30 195.10,634.28 196.10,634.27 196.70,633.90 197.10,634.43 197.50,634.80" fill="none" stroke="#33a02c" stroke-width="1.5" stroke-linejoin="round" stroke-linecap="butt"/>
<polyline points="51.10,636.40 52.10,636.37 53.10,636.44 54.10,636.70 55.10,636.38 55.40,636.40 56.10,636.35 57.10,636.32 58.10,635.96 59.10,636.11 60.10,636.11 60.30,636.00 61.10,636.10 62.10,635.47 63.10,635.48 64.00,635.50 64.10,635.24 65.10,635.99 66.10,636.16 67.10,635.95 67.60,636.40 68.10,636.62 69.10,636.36 70.10,635.90 71.10,635.63 71.30,635.50 72.10,635.41 73.10,635.50 74.10,636.05 75.00,636.20 75.10,635.90 76.10,636.04 77.10,636.13 78.10,636.04 78.70,636.40 79.10,635.13 79.70,633.30 80.10,632.69 81.10,631.56 81.40,630.90 82.10,632.03 82.40,632.50 83.10,632.01 83.60,631.50 84.10,632.40 84.60,633.30 85.10,633.66 86.00,634.00 86.10,634.12 87.10,635.46 87.50,636.20 88.10,635.95 89.10,634.60 90.10,635.28 90.90,635.20 91.10,635.53 92.10,635.92 93.10,636.13 93.40,636.40 94.10,636.17 95.10,636.16 96.10,635.95 97.10,636.20 98.10,636.17 99.10,635.70 100.10,635.79 100.80,635.40 101.10,635.24 102.10,635.37 103.10,635.03 103.80,634.60 104.10,634.05 105.10,633.51 105.70,633.30 106.10,633.49 107.10,632.93 108.10,632.70 109.10,632.51 110.00,631.70 110.10,631.55 111.10,630.55 111.80,630.30 112.10,629.94 113.10,628.54 113.60,627.60 114.10,627.75 114.90,628.40 115.10,628.93 116.10,633.30 117.10,632.18 117.30,632.10 118.10,630.61 119.10,628.21 119.20,627.80 120.00,627.60 120.10,627.31 121.10,627.15 121.60,627.20 122.10,626.14 122.50,625.80 123.10,625.40 124.10,618.26 124.30,617.20 125.10,613.32 126.10,608.00 127.10,611.70 128.10,611.14 129.10,611.07 129.20,611.00 130.10,607.29 130.40,606.10 131.10,605.66 132.10,605.73 132.30,605.50 133.10,604.71 134.10,604.30 135.10,603.40 135.30,603.10 136.10,604.31 136.60,605.50 137.10,605.28 138.10,604.80 138.40,604.90 139.10,605.09 139.60,605.50 140.10,606.33 141.10,607.21 141.50,607.40 142.10,607.41 143.10,608.07 143.90,608.00 144.10,608.07 145.10,609.59 145.20,609.80 146.10,613.15 147.00,616.00 147.10,616.61 148.10,621.31 148.20,622.10 149.10,624.48 150.10,626.40 151.10,625.45 151.70,625.20 152.10,625.43 152.90,626.40 153.10,626.49 154.10,625.80 155.10,627.68 155.60,628.80 156.10,628.49 157.10,628.00 157.40,628.20 158.10,628.94 158.70,630.10 159.10,630.69 160.10,631.79 160.50,632.50 161.10,632.97 162.10,633.48 162.30,633.70 163.10,633.54 164.10,633.74 164.20,633.40 165.10,633.02 166.10,632.67 166.40,632.50 167.10,633.59 168.10,634.30 168.50,635.00 169.10,634.96 170.10,635.82 170.30,635.60 171.10,635.93 172.10,635.66 173.10,635.74 173.40,636.00 174.10,636.11 175.10,636.17 175.80,635.80 176.10,635.41 177.10,635.36 177.70,634.70 178.10,635.12 179.10,635.30 180.10,635.60 181.10,635.71 182.10,635.65 183.10,635.76 183.80,636.20 184.10,636.51 185.10,635.95 186.10,636.22 187.10,635.85 187.50,636.00 188.10,636.11 189.10,635.76 190.10,635.36 191.10,635.09 191.20,635.30 192.10,635.70 193.00,635.80 193.10,635.40 194.10,634.57 194.80,634.10 195.10,634.08 196.10,634.07 196.70,633.70 197.10,634.23 197.50,634.60" fill="none" stroke="#e31a1c" stroke-width="1.6" stroke-linejoin="round" stroke-linecap="butt"/>
</g>
<rect x="43.50" y="601.20" width="161.00" height="37.90" fill="none" stroke="#4a4a4a" stroke-width="1.05"/>
<rect x="204.50" y="601.20" width="17.00" height="37.90" fill="#d9d9d9" stroke="#333" stroke-width="1"/>
<text x="213.60" y="619.25" font-size="9.45" fill="#111" stroke="#111" stroke-width="0.15" text-anchor="middle" dominant-baseline="central" transform="rotate(90 213.60 619.25)">CHG</text>
<line x1="40.90" y1="612.30" x2="43.50" y2="612.30" stroke="#333" stroke-width="0.9"/>
<text x="38.25" y="615.30" font-size="9.45" text-anchor="end" font-weight="normal" fill="#111" stroke="#111" stroke-width="0.15" >0.4</text>
<line x1="40.90" y1="624.95" x2="43.50" y2="624.95" stroke="#333" stroke-width="0.9"/>
<text x="38.25" y="627.95" font-size="9.45" text-anchor="end" font-weight="normal" fill="#111" stroke="#111" stroke-width="0.15" >0.2</text>
<line x1="40.90" y1="637.60" x2="43.50" y2="637.60" stroke="#333" stroke-width="0.9"/>
<text x="38.25" y="640.60" font-size="9.45" text-anchor="end" font-weight="normal" fill="#111" stroke="#111" stroke-width="0.15" >0.0</text>
<clipPath id="clip43_644"><rect x="44.0" y="644.9" width="160.0" height="36.89999999999998"/></clipPath>
<g clip-path="url(#clip43_644)">
<polyline points="51.10,681.28 52.10,680.65 53.10,680.90 54.10,681.18 55.10,680.68 55.40,680.65 56.10,680.58 57.10,680.73 58.10,680.84 59.10,680.25 60.10,680.41 60.30,680.13 61.10,680.19 62.10,680.32 63.10,680.64 64.00,680.97 64.10,680.96 65.10,680.50 66.10,681.51 67.10,681.17 67.60,681.32 68.10,680.89 69.10,680.62 70.10,680.43 71.10,680.87 72.10,680.57 73.10,680.68 73.80,680.23 74.10,680.44 75.10,680.28 76.10,680.63 77.10,681.30 78.10,681.32 79.10,678.66 79.30,678.48 80.10,677.03 81.10,674.46 82.10,676.30 82.60,677.17 83.10,676.23 83.80,675.72 84.10,676.58 85.10,677.40 85.40,678.47 86.10,679.04 87.10,679.35 87.30,679.46 88.10,679.60 89.10,679.56 89.70,679.42 90.10,679.58 91.10,679.82 92.10,679.96 92.20,680.44 93.10,680.97 94.10,680.82 95.10,681.63 95.20,681.41 96.10,679.85 97.10,679.10 98.10,679.71 99.10,680.23 99.50,680.16 100.10,680.10 101.10,679.38 102.10,678.33 102.60,677.86 103.10,677.77 104.10,677.41 105.10,677.11 105.70,677.12 106.10,677.32 107.10,677.01 108.10,677.66 108.70,677.38 109.10,677.38 110.10,676.72 111.10,676.28 111.20,676.26 112.10,674.85 113.10,673.66 113.60,672.82 114.10,673.73 115.10,674.32 115.50,674.77 116.10,675.20 116.70,676.64 117.10,675.78 118.10,675.15 119.10,674.29 119.20,674.00 120.00,674.20 120.10,674.05 121.10,673.83 122.10,673.36 122.20,673.01 122.50,672.08 123.10,669.23 124.10,663.73 124.30,663.04 125.10,659.14 126.10,656.20 127.10,657.68 127.40,657.94 128.10,657.95 128.80,658.08 129.10,656.83 130.10,653.70 130.40,652.92 131.10,652.19 132.10,650.92 132.30,650.25 133.10,650.05 134.10,650.07 134.70,650.15 135.10,650.14 136.10,651.03 136.60,651.74 137.10,651.75 138.10,652.50 138.40,652.44 139.10,653.25 140.10,653.72 140.20,653.83 141.10,653.36 142.10,653.05 143.10,653.36 143.90,652.91 144.10,653.64 145.10,655.72 145.20,655.55 146.10,658.85 147.00,663.45 147.10,664.13 148.10,668.42 148.80,671.16 149.10,671.71 150.10,672.32 151.10,672.76 151.30,672.66 152.10,673.14 153.10,673.46 154.10,674.05 155.10,675.66 155.60,675.94 156.10,675.15 157.10,674.59 157.40,674.51 158.10,675.46 159.10,675.77 159.30,675.95 160.10,676.92 161.10,678.15 161.70,678.29 162.10,677.99 163.10,677.69 164.10,677.52 164.20,677.85 165.10,677.25 166.10,676.16 166.60,676.25 167.10,676.61 168.10,677.71 168.50,678.52 169.10,679.08 170.10,679.40 171.10,679.56 171.50,679.74 172.10,679.78 173.10,679.81 174.00,680.31 174.10,680.56 175.10,680.32 176.10,680.13 176.40,679.98 177.10,679.56 178.10,679.56 179.10,679.49 179.50,679.26 180.10,679.87 181.10,680.24 182.10,680.25 182.60,680.46 183.10,680.43 184.10,680.95 185.00,681.22 185.10,681.64 186.10,681.60 187.10,682.27 187.50,682.59 188.10,681.70 189.10,681.54 189.90,680.95 190.10,680.42 191.10,680.51 192.10,680.43 192.40,679.71 193.10,679.40 194.10,679.19 194.20,679.12 195.10,678.95 196.10,678.24 197.10,679.04 197.50,679.07" fill="none" stroke="#a6cee3" stroke-width="1.5" stroke-linejoin="round" stroke-linecap="butt"/>
<polyline points="51.10,680.67 52.10,680.38 53.10,680.65 54.10,680.22 55.10,680.24 55.40,680.17 56.10,679.93 57.10,680.05 58.10,679.96 59.10,679.73 60.10,679.52 60.30,679.58 61.10,679.35 62.10,679.38 63.10,680.05 64.00,680.17 64.10,680.28 65.10,680.18 66.10,680.70 67.10,680.35 67.60,680.91 68.10,680.45 69.10,679.94 70.10,679.85 71.10,680.28 72.10,679.80 73.10,680.00 73.80,679.55 74.10,679.79 75.10,679.70 76.10,680.05 77.10,680.35 78.10,680.79 79.10,678.03 79.30,677.74 80.10,676.35 81.10,674.06 82.10,675.45 82.60,676.37 83.10,675.69 83.80,675.43 84.10,675.85 85.10,676.83 85.40,677.54 86.10,678.26 87.10,678.65 87.30,678.93 88.10,679.06 89.10,678.72 89.70,678.85 90.10,678.95 91.10,679.11 92.10,679.55 92.20,679.82 93.10,680.26 94.10,680.09 95.10,681.08 95.20,680.88 96.10,679.54 97.10,678.20 98.10,679.19 99.10,679.83 99.50,679.64 100.10,679.51 101.10,678.46 102.10,677.92 102.60,677.12 103.10,677.30 104.10,676.46 105.10,676.76 105.70,676.57 106.10,676.97 107.10,676.60 108.10,677.30 108.70,676.92 109.10,677.16 110.10,676.21 111.10,675.50 111.20,675.79 112.10,674.32 113.10,672.86 113.60,672.23 114.10,673.15 115.10,673.46 115.50,674.17 116.10,674.80 116.70,675.79 117.10,675.02 118.10,674.55 119.10,673.52 119.20,673.22 120.00,673.63 120.10,673.37 121.10,673.11 122.10,672.86 122.20,672.44 122.50,671.30 123.10,668.66 124.10,663.21 124.30,662.42 125.10,658.81 126.10,655.57 127.10,657.10 127.40,657.53 128.10,657.54 128.80,657.30 129.10,656.18 130.10,653.15 130.40,652.61 131.10,651.42 132.10,650.40 132.30,649.93 133.10,649.40 134.10,649.62 134.70,649.33 135.10,649.69 136.10,650.66 136.60,651.20 137.10,651.34 138.10,651.85 138.40,651.92 139.10,652.58 140.10,652.84 140.20,653.12 141.10,652.93 142.10,652.48 143.10,652.71 143.90,652.30 144.10,653.11 145.10,655.24 145.20,654.86 146.10,658.30 147.00,662.65 147.10,663.62 148.10,667.79 148.80,670.65 149.10,671.18 150.10,671.72 151.10,672.18 151.30,672.19 152.10,672.46 153.10,672.82 154.10,673.65 155.10,675.07 155.60,675.22 156.10,674.89 157.10,673.83 157.40,674.25 158.10,674.90 159.10,675.36 159.30,675.41 160.10,676.19 161.10,677.45 161.70,677.72 162.10,677.30 163.10,677.18 164.10,676.90 164.20,677.28 165.10,676.46 166.10,675.72 166.60,675.67 167.10,676.08 168.10,677.24 168.50,677.82 169.10,678.22 170.10,678.69 171.10,678.85 171.50,678.89 172.10,679.08 173.10,679.48 174.00,679.80 174.10,679.94 175.10,679.57 176.10,679.37 176.40,679.33 177.10,678.81 178.10,678.91 179.10,678.92 179.50,678.84 180.10,679.02 181.10,679.73 182.10,679.75 182.60,679.62 183.10,680.08 184.10,680.39 185.00,680.74 185.10,680.94 186.10,681.24 187.10,681.50 187.50,681.90 188.10,681.20 189.10,680.99 189.90,680.12 190.10,679.62 191.10,680.06 192.10,679.79 192.40,679.17 193.10,678.81 194.10,678.68 194.20,678.27 195.10,678.02 196.10,677.84 197.10,678.47 197.50,678.69" fill="none" stroke="#1f78b4" stroke-width="1.5" stroke-linejoin="round" stroke-linecap="butt"/>
<polyline points="51.10,672.58 52.10,672.33 53.10,672.37 54.10,672.58 55.10,672.08 55.40,672.27 56.10,671.75 57.10,672.30 58.10,671.95 59.10,671.84 60.10,671.72 60.30,671.71 61.10,671.52 62.10,671.69 63.10,672.16 64.00,672.05 64.10,672.28 65.10,672.27 66.10,672.85 67.10,672.51 67.60,672.72 68.10,672.59 69.10,671.71 70.10,671.90 71.10,672.23 72.10,671.72 73.10,671.83 73.80,671.52 74.10,671.78 75.10,671.58 76.10,672.28 77.10,672.69 78.10,672.73 79.10,670.11 79.30,669.53 80.10,668.21 81.10,666.07 82.10,667.69 82.60,668.63 83.10,667.96 83.80,667.44 84.10,667.88 85.10,669.08 85.40,669.87 86.10,670.28 87.10,670.74 87.30,670.76 88.10,670.79 89.10,670.78 89.70,670.97 90.10,671.22 91.10,671.04 92.10,671.44 92.20,672.00 93.10,672.46 94.10,672.26 95.10,672.86 95.20,672.85 96.10,671.32 97.10,670.36 98.10,671.23 99.10,671.62 99.50,671.72 100.10,671.29 101.10,670.58 102.10,669.86 102.60,669.20 103.10,669.21 104.10,668.68 105.10,668.61 105.70,668.65 106.10,668.68 107.10,668.43 108.10,668.94 108.70,668.88 109.10,668.89 110.10,668.09 111.10,667.66 111.20,667.41 112.10,666.56 113.10,665.07 113.60,664.52 114.10,665.18 115.10,665.61 115.50,665.96 116.10,666.58 116.70,667.79 117.10,667.10 118.10,666.46 119.10,665.59 119.20,665.36 120.00,665.62 120.10,665.52 121.10,664.95 122.10,664.77 122.20,664.82 122.50,664.28 123.10,662.31 124.10,658.64 124.30,658.26 125.10,655.64 126.10,652.55 127.10,654.13 127.40,654.33 128.10,654.57 128.80,654.36 129.10,653.07 130.10,650.17 130.40,649.33 131.10,648.51 132.10,647.52 132.30,646.81 133.10,646.72 134.10,646.45 134.70,646.38 135.10,646.53 136.10,647.34 136.60,648.43 137.10,647.98 138.10,649.19 138.40,648.92 139.10,649.64 140.10,649.77 140.20,650.26 141.10,650.06 142.10,649.34 143.10,649.50 143.90,649.36 144.10,650.17 145.10,651.96 145.20,652.12 146.10,654.98 147.00,658.18 147.10,658.62 148.10,661.48 148.80,662.98 149.10,663.27 150.10,663.86 151.10,664.29 151.30,664.34 152.10,664.51 153.10,664.74 154.10,665.50 155.10,666.92 155.60,667.15 156.10,666.92 157.10,665.91 157.40,666.25 158.10,666.65 159.10,667.41 159.30,667.20 160.10,668.04 161.10,669.51 161.70,669.84 162.10,669.55 163.10,669.13 164.10,668.89 164.20,668.93 165.10,668.40 166.10,667.95 166.60,667.73 167.10,667.94 168.10,669.18 168.50,669.90 169.10,670.40 170.10,670.64 171.10,670.83 171.50,670.87 172.10,671.30 173.10,671.43 174.00,671.69 174.10,671.99 175.10,671.51 176.10,671.59 176.40,671.40 177.10,670.73 178.10,670.70 179.10,670.91 179.50,670.88 180.10,671.14 181.10,671.71 182.10,671.59 182.60,671.85 183.10,671.98 184.10,672.65 185.00,672.75 185.10,672.98 186.10,673.23 187.10,673.85 187.50,673.80 188.10,673.18 189.10,672.76 189.90,672.18 190.10,671.96 191.10,671.84 192.10,671.71 192.40,671.33 193.10,670.51 194.10,670.36 194.20,670.41 195.10,670.40 196.10,669.95 197.10,670.54 197.50,670.71" fill="none" stroke="#b2df8a" stroke-width="1.5" stroke-linejoin="round" stroke-linecap="butt"/>
<polyline points="51.10,677.05 52.10,676.97 53.10,677.23 54.10,676.87 55.10,676.95 55.40,676.85 56.10,676.33 57.10,676.98 58.10,676.59 59.10,676.28 60.10,676.20 60.30,676.24 61.10,675.99 62.10,676.22 63.10,676.70 64.00,676.80 64.10,676.99 65.10,676.73 66.10,677.49 67.10,677.00 67.60,677.34 68.10,677.00 69.10,676.32 70.10,676.59 71.10,676.75 72.10,676.30 73.10,676.53 73.80,676.17 74.10,676.24 75.10,676.10 76.10,676.71 77.10,676.95 78.10,677.43 79.10,674.55 79.30,674.15 80.10,673.12 81.10,670.42 82.10,672.04 82.60,673.23 83.10,672.25 83.80,671.87 84.10,672.60 85.10,673.56 85.40,674.30 86.10,675.04 87.10,675.33 87.30,675.32 88.10,675.66 89.10,675.30 89.70,675.32 90.10,675.60 91.10,675.91 92.10,676.09 92.20,676.38 93.10,676.95 94.10,676.74 95.10,677.61 95.20,677.34 96.10,675.84 97.10,674.75 98.10,675.61 99.10,676.33 99.50,676.35 100.10,676.04 101.10,675.08 102.10,674.19 102.60,674.08 103.10,673.88 104.10,673.12 105.10,673.27 105.70,673.15 106.10,673.40 107.10,673.06 108.10,673.64 108.70,673.50 109.10,673.55 110.10,672.78 111.10,672.14 111.20,672.14 112.10,671.16 113.10,669.43 113.60,669.10 114.10,669.73 115.10,670.31 115.50,670.68 116.10,671.25 116.70,672.54 117.10,671.68 118.10,670.95 119.10,670.35 119.20,669.70 120.00,669.94 120.10,670.19 121.10,669.78 122.10,669.17 122.20,669.18 122.50,668.10 123.10,665.84 124.10,660.71 124.30,660.27 125.10,656.98 126.10,653.63 127.10,655.19 127.40,655.79 128.10,655.77 128.80,655.46 129.10,654.40 130.10,651.30 130.40,650.54 131.10,649.64 132.10,648.66 132.30,647.89 133.10,647.78 134.10,647.91 134.70,647.76 135.10,647.73 136.10,648.55 136.60,649.66 137.10,649.29 138.10,650.09 138.40,650.22 139.10,650.67 140.10,651.23 140.20,651.38 141.10,651.06 142.10,650.68 143.10,650.74 143.90,650.82 144.10,651.28 145.10,653.24 145.20,653.34 146.10,656.21 147.00,660.41 147.10,661.17 148.10,664.80 148.80,667.29 149.10,667.90 150.10,668.68 151.10,668.63 151.30,668.79 152.10,668.80 153.10,669.40 154.10,670.17 155.10,671.66 155.60,671.82 156.10,671.26 157.10,670.76 157.40,670.81 158.10,671.30 159.10,671.79 159.30,671.72 160.10,672.56 161.10,673.86 161.70,674.43 162.10,673.98 163.10,673.69 164.10,673.73 164.20,673.77 165.10,673.20 166.10,672.52 166.60,672.23 167.10,672.71 168.10,674.04 168.50,674.56 169.10,674.74 170.10,675.52 171.10,675.81 171.50,675.44 172.10,675.92 173.10,676.06 174.00,676.21 174.10,676.78 175.10,676.29 176.10,676.22 176.40,675.72 177.10,675.62 178.10,675.20 179.10,675.45 179.50,675.48 180.10,675.71 181.10,676.01 182.10,676.25 182.60,676.45 183.10,676.46 184.10,677.25 185.00,677.47 185.10,677.64 186.10,677.65 187.10,678.11 187.50,678.59 188.10,677.77 189.10,677.70 189.90,676.82 190.10,676.40 191.10,676.37 192.10,676.33 192.40,675.74 193.10,675.20 194.10,675.16 194.20,675.17 195.10,674.70 196.10,674.27 197.10,675.33 197.50,675.05" fill="none" stroke="#fb9a99" stroke-width="1.5" stroke-linejoin="round" stroke-linecap="butt"/>
<polyline points="51.10,676.80 52.10,676.28 53.10,676.58 54.10,676.63 55.10,676.23 55.40,676.51 56.10,676.22 57.10,676.21 58.10,676.36 59.10,675.96 60.10,675.88 60.30,675.98 61.10,675.94 62.10,675.71 63.10,676.30 64.00,676.51 64.10,676.67 65.10,676.09 66.10,677.13 67.10,676.62 67.60,676.85 68.10,676.65 69.10,676.22 70.10,676.18 71.10,676.24 72.10,676.19 73.10,675.91 73.80,675.99 74.10,675.88 75.10,675.85 76.10,676.17 77.10,676.54 78.10,676.80 79.10,674.19 79.30,673.92 80.10,672.70 81.10,670.34 82.10,671.74 82.60,672.84 83.10,671.84 83.80,671.65 84.10,672.07 85.10,673.36 85.40,673.85 86.10,674.61 87.10,674.95 87.30,674.92 88.10,674.97 89.10,675.01 89.70,675.19 90.10,675.05 91.10,675.35 92.10,675.59 92.20,676.11 93.10,676.75 94.10,676.28 95.10,677.18 95.20,676.84 96.10,675.73 97.10,674.68 98.10,675.45 99.10,675.89 99.50,675.62 100.10,675.37 101.10,674.69 102.10,673.76 102.60,673.35 103.10,673.72 104.10,672.79 105.10,673.00 105.70,672.80 106.10,673.09 107.10,672.84 108.10,673.40 108.70,673.04 109.10,673.15 110.10,672.26 111.10,671.57 111.20,671.62 112.10,670.59 113.10,669.20 113.60,668.79 114.10,669.42 115.10,669.91 115.50,670.19 116.10,670.85 116.70,672.23 117.10,671.20 118.10,670.55 119.10,669.82 119.20,669.32 120.00,669.67 120.10,669.49 121.10,669.21 122.10,668.80 122.20,668.82 122.50,667.66 123.10,665.14 124.10,660.55 124.30,659.74 125.10,656.44 126.10,653.68 127.10,654.92 127.40,655.47 128.10,655.45 128.80,655.32 129.10,654.12 130.10,650.93 130.40,650.59 131.10,649.27 132.10,648.21 132.30,647.56 133.10,647.50 134.10,647.66 134.70,647.26 135.10,647.69 136.10,648.50 136.60,649.21 137.10,649.12 138.10,650.01 138.40,649.97 139.10,650.28 140.10,650.70 140.20,650.90 141.10,650.67 142.10,650.31 143.10,650.50 143.90,650.29 144.10,651.06 145.10,652.83 145.20,653.07 146.10,656.08 147.00,659.94 147.10,660.71 148.10,664.73 148.80,666.84 149.10,667.50 150.10,667.91 151.10,668.35 151.30,668.47 152.10,668.60 153.10,669.12 154.10,670.00 155.10,671.46 155.60,671.32 156.10,670.92 157.10,670.04 157.40,670.40 158.10,670.84 159.10,671.43 159.30,671.32 160.10,672.13 161.10,673.52 161.70,673.88 162.10,673.58 163.10,673.57 164.10,673.27 164.20,673.23 165.10,672.62 166.10,672.07 166.60,671.81 167.10,672.21 168.10,673.63 168.50,674.03 169.10,674.51 170.10,674.80 171.10,675.12 171.50,675.38 172.10,675.20 173.10,675.36 174.00,676.04 174.10,676.22 175.10,675.83 176.10,675.62 176.40,675.39 177.10,674.94 178.10,675.06 179.10,675.29 179.50,674.71 180.10,675.40 181.10,675.84 182.10,675.88 182.60,675.84 183.10,675.96 184.10,676.87 185.00,676.84 185.10,677.08 186.10,677.13 187.10,678.03 187.50,678.20 188.10,677.55 189.10,677.30 189.90,676.52 190.10,675.81 191.10,676.05 192.10,675.98 192.40,675.58 193.10,674.92 194.10,674.79 194.20,674.45 195.10,674.37 196.10,674.18 197.10,674.88 197.50,674.68" fill="none" stroke="#e31a1c" stroke-width="1.5" stroke-linejoin="round" stroke-linecap="butt"/>
<polyline points="51.10,671.90 52.10,671.60 53.10,671.89 54.10,671.79 55.10,671.61 55.40,671.60 56.10,671.32 57.10,671.60 58.10,671.48 59.10,671.16 60.10,671.03 60.30,671.00 61.10,670.94 62.10,670.94 63.10,671.36 64.00,671.60 64.10,671.68 65.10,671.48 66.10,672.16 67.10,671.93 67.60,672.20 68.10,671.81 69.10,671.28 70.10,671.20 71.10,671.49 72.10,671.26 73.10,671.30 73.80,671.00 74.10,671.16 75.10,671.04 76.10,671.52 77.10,671.92 78.10,672.20 79.10,669.35 79.30,669.10 80.10,667.77 81.10,665.40 82.10,666.97 82.60,667.90 83.10,667.16 83.80,666.70 84.10,667.37 85.10,668.39 85.40,669.10 86.10,669.84 87.10,670.14 87.30,670.30 88.10,670.34 89.10,670.19 89.70,670.30 90.10,670.43 91.10,670.58 92.10,670.84 92.20,671.20 93.10,671.76 94.10,671.65 95.10,672.36 95.20,672.20 96.10,670.81 97.10,669.70 98.10,670.57 99.10,671.06 99.50,671.00 100.10,670.73 101.10,670.00 102.10,669.13 102.60,668.70 103.10,668.73 104.10,668.05 105.10,668.04 105.70,667.90 106.10,668.18 107.10,667.88 108.10,668.52 108.70,668.30 109.10,668.36 110.10,667.51 111.10,666.96 111.20,667.00 112.10,665.77 113.10,664.39 113.60,663.80 114.10,664.57 115.10,664.98 115.50,665.40 116.10,666.02 116.70,667.30 117.10,666.58 118.10,665.94 119.10,665.05 119.20,664.60 120.00,664.90 120.10,664.87 121.10,664.54 122.10,664.27 122.20,664.20 122.50,663.60 123.10,661.74 124.10,657.98 124.30,657.50 125.10,655.13 126.10,652.00 127.10,653.42 127.40,653.80 128.10,653.89 128.80,653.80 129.10,652.66 130.10,649.59 130.40,648.90 131.10,647.80 132.10,646.78 132.30,646.20 133.10,645.96 134.10,645.97 134.70,645.80 135.10,646.06 136.10,646.92 136.60,647.70 137.10,647.56 138.10,648.42 138.40,648.30 139.10,648.96 140.10,649.35 140.20,649.50 141.10,649.34 142.10,648.90 143.10,649.02 143.90,648.90 144.10,649.56 145.10,651.53 145.20,651.40 146.10,654.38 147.00,657.50 147.10,658.11 148.10,660.82 148.80,662.40 149.10,662.61 150.10,663.29 151.10,663.50 151.30,663.60 152.10,663.78 153.10,664.20 154.10,665.02 155.10,666.46 155.60,666.70 156.10,666.13 157.10,665.40 157.40,665.50 158.10,666.16 159.10,666.77 159.30,666.70 160.10,667.52 161.10,668.81 161.70,669.20 162.10,668.77 163.10,668.64 164.10,668.38 164.20,668.50 165.10,667.92 166.10,667.16 166.60,667.10 167.10,667.35 168.10,668.64 168.50,669.20 169.10,669.72 170.10,670.18 171.10,670.41 171.50,670.40 172.10,670.58 173.10,670.74 174.00,671.20 174.10,671.50 175.10,670.99 176.10,670.92 176.40,670.70 177.10,670.23 178.10,670.17 179.10,670.41 179.50,670.10 180.10,670.52 181.10,670.93 182.10,671.09 182.60,671.20 183.10,671.36 184.10,671.88 185.00,672.20 185.10,672.48 186.10,672.51 187.10,673.06 187.50,673.20 188.10,672.64 189.10,672.32 189.90,671.60 190.10,671.19 191.10,671.30 192.10,671.13 192.40,670.70 193.10,670.02 194.10,669.92 194.20,669.80 195.10,669.62 196.10,669.20 197.10,670.02 197.50,670.00" fill="none" stroke="#33a02c" stroke-width="1.5" stroke-linejoin="round" stroke-linecap="butt"/>
</g>
<rect x="43.50" y="644.40" width="161.00" height="37.90" fill="none" stroke="#4a4a4a" stroke-width="1.05"/>
<rect x="204.50" y="644.40" width="17.00" height="37.90" fill="#d9d9d9" stroke="#333" stroke-width="1"/>
<text x="213.60" y="662.45" font-size="9.45" fill="#111" stroke="#111" stroke-width="0.15" text-anchor="middle" dominant-baseline="central" transform="rotate(90 213.60 662.45)">CHH</text>
<line x1="40.90" y1="651.49" x2="43.50" y2="651.49" stroke="#333" stroke-width="0.9"/>
<text x="38.25" y="654.49" font-size="9.45" text-anchor="end" font-weight="normal" fill="#111" stroke="#111" stroke-width="0.15" >0.075</text>
<line x1="40.90" y1="661.56" x2="43.50" y2="661.56" stroke="#333" stroke-width="0.9"/>
<text x="38.25" y="664.56" font-size="9.45" text-anchor="end" font-weight="normal" fill="#111" stroke="#111" stroke-width="0.15" >0.050</text>
<line x1="40.90" y1="671.63" x2="43.50" y2="671.63" stroke="#333" stroke-width="0.9"/>
<text x="38.25" y="674.63" font-size="9.45" text-anchor="end" font-weight="normal" fill="#111" stroke="#111" stroke-width="0.15" >0.025</text>
<line x1="40.90" y1="681.70" x2="43.50" y2="681.70" stroke="#333" stroke-width="0.9"/>
<text x="38.25" y="684.70" font-size="9.45" text-anchor="end" font-weight="normal" fill="#111" stroke="#111" stroke-width="0.15" >0.000</text>
<text x="7.4" y="619.5" font-size="9.45" fill="#111" stroke="#111" stroke-width="0.15" text-anchor="middle" transform="rotate(-90 7.4 619.5)">Methylation level</text>
<line x1="231" y1="563.40" x2="244.1" y2="563.40" stroke="#a6cee3" stroke-width="1.6"/>
<text x="247.60" y="566.30" font-size="8" text-anchor="start" font-weight="normal" fill="#111" stroke="#111" stroke-width="0.15" ><tspan>L</tspan><tspan font-style="italic">er</tspan> rep1</text>
<line x1="231" y1="586.00" x2="244.1" y2="586.00" stroke="#1f78b4" stroke-width="1.6"/>
<text x="247.60" y="588.90" font-size="8" text-anchor="start" font-weight="normal" fill="#111" stroke="#111" stroke-width="0.15" ><tspan>L</tspan><tspan font-style="italic">er</tspan> rep2</text>
<line x1="231" y1="608.40" x2="244.1" y2="608.40" stroke="#b2df8a" stroke-width="1.6"/>
<text x="247.60" y="606.50" font-size="8" text-anchor="start" font-weight="normal" fill="#111" stroke="#111" stroke-width="0.15" >T1 22aa Sun DRMcd</text>
<text x="247.60" y="616.30" font-size="8" text-anchor="start" font-weight="normal" fill="#111" stroke="#111" stroke-width="0.15" >NLS SUP-1</text>
<line x1="231" y1="630.80" x2="244.1" y2="630.80" stroke="#fb9a99" stroke-width="1.6"/>
<text x="247.60" y="628.90" font-size="8" text-anchor="start" font-weight="normal" fill="#111" stroke="#111" stroke-width="0.15" >T1 22aa Sun DRMcd</text>
<text x="247.60" y="638.70" font-size="8" text-anchor="start" font-weight="normal" fill="#111" stroke="#111" stroke-width="0.15" >NLS SUP-2</text>
<line x1="231" y1="653.20" x2="244.1" y2="653.20" stroke="#e31a1c" stroke-width="1.6"/>
<text x="247.60" y="651.30" font-size="8" text-anchor="start" font-weight="normal" fill="#111" stroke="#111" stroke-width="0.15" >T1 22aa Sun DRMcd</text>
<text x="247.60" y="661.10" font-size="8" text-anchor="start" font-weight="normal" fill="#111" stroke="#111" stroke-width="0.15" >NLS SUP-3</text>
<line x1="231" y1="675.60" x2="244.1" y2="675.60" stroke="#33a02c" stroke-width="1.6"/>
<text x="247.60" y="673.70" font-size="8" text-anchor="start" font-weight="normal" fill="#111" stroke="#111" stroke-width="0.15" >T1 22aa Sun DRMcd</text>
<text x="247.60" y="683.50" font-size="8" text-anchor="start" font-weight="normal" fill="#111" stroke="#111" stroke-width="0.15" >NLS SUP-4</text>
<text x="463.80" y="549.90" font-size="9.45" text-anchor="middle" font-weight="normal" fill="#111" stroke="#111" stroke-width="0.15" >Chr3</text>
<clipPath id="clip380_555"><rect x="381.0" y="556.0" width="151.0" height="37.89999999999998"/></clipPath>
<g clip-path="url(#clip380_555)">
<polyline points="387.10,593.00 388.10,592.33 388.90,592.40 389.10,592.20 390.10,592.76 391.10,593.32 391.40,593.30 392.10,592.70 393.10,592.18 393.80,592.10 394.10,591.86 395.10,592.07 396.10,591.49 396.30,591.70 397.10,592.20 398.00,592.40 398.10,592.36 399.10,590.44 400.00,589.30 400.10,589.42 401.10,590.36 402.10,591.34 402.40,591.70 403.10,592.28 404.10,591.98 404.50,592.40 405.10,591.87 406.10,592.20 406.70,591.70 407.10,591.89 408.10,592.38 409.10,593.12 409.20,593.30 410.10,592.53 411.10,592.19 411.60,591.50 412.10,591.18 413.10,590.94 414.10,590.90 415.10,589.42 416.10,587.85 416.50,587.20 417.10,587.61 418.10,587.69 418.40,587.50 419.10,588.33 420.10,589.56 420.20,589.90 421.10,589.84 422.00,589.30 422.10,589.74 423.10,590.01 423.90,591.10 424.10,591.21 425.10,591.06 426.10,590.66 426.30,590.50 427.10,590.81 428.10,591.84 428.20,591.70 429.10,590.96 430.10,589.59 430.60,589.30 431.10,589.56 432.10,589.58 432.50,589.90 433.10,590.41 434.10,592.01 434.30,592.40 435.10,592.15 436.10,592.10 437.10,590.19 438.10,588.52 438.60,587.50 439.10,587.60 440.10,587.40 441.10,586.80 442.10,587.86 442.90,588.10 443.10,588.10 444.10,586.24 444.70,585.00 445.10,584.49 446.10,583.45 446.60,583.20 447.10,583.95 448.10,585.23 448.40,585.60 449.10,584.52 450.10,582.39 450.90,581.30 451.10,580.83 452.10,580.04 453.10,578.53 453.30,578.20 454.00,575.10 454.10,574.96 455.10,571.85 455.80,570.44 456.10,569.59 457.10,567.35 457.70,565.51 458.10,565.00 458.90,563.50 459.10,563.80 460.10,563.02 460.70,563.10 461.10,562.77 462.10,562.26 462.30,561.90 463.10,562.87 463.80,563.80 464.10,563.86 465.10,563.24 465.30,563.10 466.10,561.18 466.90,559.80 467.10,559.66 468.10,561.00 468.70,561.10 469.10,560.83 470.10,560.89 471.10,560.98 471.20,561.10 472.10,561.65 473.00,561.90 473.10,562.21 474.10,562.58 474.90,563.10 475.10,563.24 476.10,564.17 476.70,564.40 477.10,565.01 477.90,566.53 478.10,567.24 479.10,571.42 479.20,571.74 480.10,574.75 480.40,575.70 481.10,576.13 481.60,577.00 482.10,576.19 482.80,575.70 483.10,576.02 484.10,578.20 485.10,579.11 485.70,579.40 486.10,580.08 487.10,581.30 488.10,581.95 489.00,581.90 489.10,582.24 490.10,583.38 490.60,584.30 491.10,584.80 492.10,585.57 492.70,585.60 493.10,585.63 494.10,585.72 494.50,586.20 495.10,586.11 496.10,586.05 496.30,586.20 497.10,587.24 498.10,588.72 498.20,589.20 499.10,589.87 500.10,591.43 500.60,591.70 501.10,591.62 502.10,592.50 503.10,592.90 504.10,591.69 504.90,591.10 505.10,590.65 506.10,589.90 506.50,589.20 507.10,589.82 508.00,591.10 508.10,590.93 509.10,591.62 510.10,592.29 510.40,592.30 511.10,592.41 512.10,592.77 513.10,592.58 513.50,592.70 514.10,592.60 515.10,592.54 516.10,592.17 516.60,592.10 517.10,592.36 518.10,592.39 519.00,592.60 519.10,592.36 520.10,592.47 521.10,593.05 521.50,592.90 522.10,592.87 523.10,592.68 523.30,592.30 524.10,591.83 524.90,591.10 525.10,591.38 525.80,592.10" fill="none" stroke="#a6cee3" stroke-width="1.3" stroke-linejoin="round" stroke-linecap="butt"/>
<polyline points="387.10,593.10 388.10,592.43 388.90,592.50 389.10,592.30 390.10,592.86 391.10,593.42 391.40,593.40 392.10,592.80 393.10,592.28 393.80,592.20 394.10,591.96 395.10,592.17 396.10,591.59 396.30,591.80 397.10,592.30 398.00,592.50 398.10,592.46 399.10,590.54 400.00,589.40 400.10,589.52 401.10,590.46 402.10,591.44 402.40,591.80 403.10,592.38 404.10,592.08 404.50,592.50 405.10,591.97 406.10,592.30 406.70,591.80 407.10,591.99 408.10,592.48 409.10,593.22 409.20,593.40 410.10,592.63 411.10,592.29 411.60,591.60 412.10,591.28 413.10,591.04 414.10,591.00 415.10,589.52 416.10,587.95 416.50,587.30 417.10,587.71 418.10,587.79 418.40,587.60 419.10,588.43 420.10,589.66 420.20,590.00 421.10,589.94 422.00,589.40 422.10,589.84 423.10,590.11 423.90,591.20 424.10,591.31 425.10,591.16 426.10,590.76 426.30,590.60 427.10,590.91 428.10,591.94 428.20,591.80 429.10,591.06 430.10,589.69 430.60,589.40 431.10,589.66 432.10,589.68 432.50,590.00 433.10,590.51 434.10,592.11 434.30,592.50 435.10,592.25 436.10,592.20 437.10,590.29 438.10,588.62 438.60,587.60 439.10,587.70 440.10,587.50 441.10,586.90 442.10,587.96 442.90,588.20 443.10,588.20 444.10,586.34 444.70,585.10 445.10,584.59 446.10,583.55 446.60,583.30 447.10,584.05 448.10,585.33 448.40,585.70 449.10,584.62 450.10,582.49 450.90,581.40 451.10,580.93 452.10,580.14 453.10,578.63 453.30,578.30 454.00,575.20 454.10,575.06 455.10,571.96 455.80,570.57 456.10,569.73 457.10,567.52 457.70,565.70 458.10,565.20 458.90,563.70 459.10,564.00 460.10,563.22 460.70,563.30 461.10,562.97 462.10,562.46 462.30,562.10 463.10,563.07 463.80,564.00 464.10,564.06 465.10,563.44 465.30,563.30 466.10,561.38 466.90,560.00 467.10,559.86 468.10,561.20 468.70,561.30 469.10,561.03 470.10,561.09 471.10,561.18 471.20,561.30 472.10,561.85 473.00,562.10 473.10,562.41 474.10,562.78 474.90,563.30 475.10,563.44 476.10,564.37 476.70,564.60 477.10,565.21 477.90,566.70 478.10,567.41 479.10,571.55 479.20,571.87 480.10,574.85 480.40,575.80 481.10,576.23 481.60,577.10 482.10,576.29 482.80,575.80 483.10,576.12 484.10,578.30 485.10,579.21 485.70,579.50 486.10,580.18 487.10,581.40 488.10,582.05 489.00,582.00 489.10,582.34 490.10,583.48 490.60,584.40 491.10,584.90 492.10,585.67 492.70,585.70 493.10,585.73 494.10,585.82 494.50,586.30 495.10,586.21 496.10,586.15 496.30,586.30 497.10,587.34 498.10,588.82 498.20,589.30 499.10,589.97 500.10,591.53 500.60,591.80 501.10,591.72 502.10,592.60 503.10,593.00 504.10,591.79 504.90,591.20 505.10,590.75 506.10,590.00 506.50,589.30 507.10,589.92 508.00,591.20 508.10,591.03 509.10,591.72 510.10,592.39 510.40,592.40 511.10,592.51 512.10,592.87 513.10,592.68 513.50,592.80 514.10,592.70 515.10,592.64 516.10,592.27 516.60,592.20 517.10,592.46 518.10,592.49 519.00,592.70 519.10,592.46 520.10,592.57 521.10,593.15 521.50,593.00 522.10,592.97 523.10,592.78 523.30,592.40 524.10,591.93 524.90,591.20 525.10,591.48 525.80,592.20" fill="none" stroke="#1f78b4" stroke-width="1.3" stroke-linejoin="round" stroke-linecap="butt"/>
<polyline points="387.10,592.50 388.10,591.83 388.90,591.90 389.10,591.70 390.10,592.26 391.10,592.82 391.40,592.80 392.10,592.20 393.10,591.68 393.80,591.60 394.10,591.36 395.10,591.57 396.10,590.99 396.30,591.20 397.10,591.70 398.00,591.90 398.10,591.86 399.10,589.94 400.00,588.80 400.10,588.92 401.10,589.86 402.10,590.84 402.40,591.20 403.10,591.78 404.10,591.48 404.50,591.90 405.10,591.37 406.10,591.70 406.70,591.20 407.10,591.39 408.10,591.88 409.10,592.62 409.20,592.80 410.10,592.03 411.10,591.69 411.60,591.00 412.10,590.68 413.10,590.44 414.10,590.40 415.10,588.92 416.10,587.35 416.50,586.70 417.10,587.11 418.10,587.19 418.40,587.00 419.10,587.83 420.10,589.06 420.20,589.40 421.10,589.34 422.00,588.80 422.10,589.24 423.10,589.51 423.90,590.60 424.10,590.71 425.10,590.56 426.10,590.16 426.30,590.00 427.10,590.31 428.10,591.34 428.20,591.20 429.10,590.46 430.10,589.09 430.60,588.80 431.10,589.06 432.10,589.08 432.50,589.40 433.10,589.91 434.10,591.51 434.30,591.90 435.10,591.65 436.10,591.60 437.10,589.69 438.10,588.02 438.60,587.00 439.10,587.10 440.10,586.90 441.10,586.30 442.10,587.36 442.90,587.60 443.10,587.60 444.10,585.74 444.70,584.50 445.10,583.99 446.10,582.95 446.60,582.70 447.10,583.45 448.10,584.73 448.40,585.10 449.10,584.02 450.10,581.89 450.90,580.80 451.10,580.33 452.10,579.54 453.10,578.03 453.30,577.70 454.00,574.60 454.10,574.46 455.10,571.34 455.80,569.86 456.10,568.98 457.10,566.64 457.70,564.74 458.10,564.20 458.90,562.70 459.10,563.00 460.10,562.22 460.70,562.30 461.10,561.97 462.10,561.46 462.30,561.10 463.10,562.07 463.80,563.00 464.10,563.06 465.10,562.44 465.30,562.30 466.10,560.38 466.90,559.00 467.10,558.86 468.10,560.20 468.70,560.30 469.10,560.03 470.10,560.09 471.10,560.18 471.20,560.30 472.10,560.85 473.00,561.10 473.10,561.41 474.10,561.78 474.90,562.30 475.10,562.44 476.10,563.37 476.70,563.60 477.10,564.22 477.90,565.82 478.10,566.55 479.10,570.83 479.20,571.16 480.10,574.25 480.40,575.20 481.10,575.63 481.60,576.50 482.10,575.69 482.80,575.20 483.10,575.52 484.10,577.70 485.10,578.61 485.70,578.90 486.10,579.58 487.10,580.80 488.10,581.45 489.00,581.40 489.10,581.74 490.10,582.88 490.60,583.80 491.10,584.30 492.10,585.07 492.70,585.10 493.10,585.13 494.10,585.22 494.50,585.70 495.10,585.61 496.10,585.55 496.30,585.70 497.10,586.74 498.10,588.22 498.20,588.70 499.10,589.37 500.10,590.93 500.60,591.20 501.10,591.12 502.10,592.00 503.10,592.40 504.10,591.19 504.90,590.60 505.10,590.15 506.10,589.40 506.50,588.70 507.10,589.32 508.00,590.60 508.10,590.43 509.10,591.12 510.10,591.79 510.40,591.80 511.10,591.91 512.10,592.27 513.10,592.08 513.50,592.20 514.10,592.10 515.10,592.04 516.10,591.67 516.60,591.60 517.10,591.86 518.10,591.89 519.00,592.10 519.10,591.86 520.10,591.97 521.10,592.55 521.50,592.40 522.10,592.37 523.10,592.18 523.30,591.80 524.10,591.33 524.90,590.60 525.10,590.88 525.80,591.60" fill="none" stroke="#b2df8a" stroke-width="1.3" stroke-linejoin="round" stroke-linecap="butt"/>
<polyline points="387.10,592.80 388.10,592.13 388.90,592.20 389.10,592.00 390.10,592.56 391.10,593.12 391.40,593.10 392.10,592.50 393.10,591.98 393.80,591.90 394.10,591.66 395.10,591.87 396.10,591.29 396.30,591.50 397.10,592.00 398.00,592.20 398.10,592.16 399.10,590.24 400.00,589.10 400.10,589.22 401.10,590.16 402.10,591.14 402.40,591.50 403.10,592.08 404.10,591.78 404.50,592.20 405.10,591.67 406.10,592.00 406.70,591.50 407.10,591.69 408.10,592.18 409.10,592.92 409.20,593.10 410.10,592.33 411.10,591.99 411.60,591.30 412.10,590.98 413.10,590.74 414.10,590.70 415.10,589.22 416.10,587.65 416.50,587.00 417.10,587.41 418.10,587.49 418.40,587.30 419.10,588.13 420.10,589.36 420.20,589.70 421.10,589.64 422.00,589.10 422.10,589.54 423.10,589.81 423.90,590.90 424.10,591.01 425.10,590.86 426.10,590.46 426.30,590.30 427.10,590.61 428.10,591.64 428.20,591.50 429.10,590.76 430.10,589.39 430.60,589.10 431.10,589.36 432.10,589.38 432.50,589.70 433.10,590.21 434.10,591.81 434.30,592.20 435.10,591.95 436.10,591.90 437.10,589.99 438.10,588.32 438.60,587.30 439.10,587.40 440.10,587.20 441.10,586.60 442.10,587.66 442.90,587.90 443.10,587.90 444.10,586.04 444.70,584.80 445.10,584.29 446.10,583.25 446.60,583.00 447.10,583.75 448.10,585.03 448.40,585.40 449.10,584.32 450.10,582.19 450.90,581.10 451.10,580.63 452.10,579.84 453.10,578.33 453.30,578.00 454.00,574.90 454.10,574.76 455.10,571.65 455.80,570.24 456.10,569.39 457.10,567.15 457.70,565.31 458.10,564.80 458.90,563.30 459.10,563.60 460.10,562.82 460.70,562.90 461.10,562.57 462.10,562.06 462.30,561.70 463.10,562.67 463.80,563.60 464.10,563.66 465.10,563.04 465.30,562.90 466.10,560.98 466.90,559.60 467.10,559.46 468.10,560.80 468.70,560.90 469.10,560.63 470.10,560.69 471.10,560.78 471.20,560.90 472.10,561.45 473.00,561.70 473.10,562.01 474.10,562.38 474.90,562.90 475.10,563.04 476.10,563.97 476.70,564.20 477.10,564.81 477.90,566.33 478.10,567.04 479.10,571.22 479.20,571.54 480.10,574.55 480.40,575.50 481.10,575.93 481.60,576.80 482.10,575.99 482.80,575.50 483.10,575.82 484.10,578.00 485.10,578.91 485.70,579.20 486.10,579.88 487.10,581.10 488.10,581.75 489.00,581.70 489.10,582.04 490.10,583.18 490.60,584.10 491.10,584.60 492.10,585.37 492.70,585.40 493.10,585.43 494.10,585.52 494.50,586.00 495.10,585.91 496.10,585.85 496.30,586.00 497.10,587.04 498.10,588.52 498.20,589.00 499.10,589.67 500.10,591.23 500.60,591.50 501.10,591.42 502.10,592.30 503.10,592.70 504.10,591.49 504.90,590.90 505.10,590.45 506.10,589.70 506.50,589.00 507.10,589.62 508.00,590.90 508.10,590.73 509.10,591.42 510.10,592.09 510.40,592.10 511.10,592.21 512.10,592.57 513.10,592.38 513.50,592.50 514.10,592.40 515.10,592.34 516.10,591.97 516.60,591.90 517.10,592.16 518.10,592.19 519.00,592.40 519.10,592.16 520.10,592.27 521.10,592.85 521.50,592.70 522.10,592.67 523.10,592.48 523.30,592.10 524.10,591.63 524.90,590.90 525.10,591.18 525.80,591.90" fill="none" stroke="#33a02c" stroke-width="1.3" stroke-linejoin="round" stroke-linecap="butt"/>
<polyline points="387.10,591.50 388.10,590.83 388.90,590.90 389.10,590.70 390.10,591.26 391.10,591.82 391.40,591.80 392.10,591.20 393.10,590.68 393.80,590.60 394.10,590.36 395.10,590.57 396.10,589.99 396.30,590.20 397.10,590.70 398.00,590.90 398.10,590.86 399.10,588.94 400.00,587.80 400.10,587.92 401.10,588.86 402.10,589.84 402.40,590.20 403.10,590.78 404.10,590.48 404.50,590.90 405.10,590.37 406.10,590.70 406.70,590.20 407.10,590.39 408.10,590.88 409.10,591.62 409.20,591.80 410.10,591.03 411.10,590.69 411.60,590.00 412.10,589.68 413.10,589.44 414.10,589.40 415.10,587.92 416.10,586.35 416.50,585.70 417.10,586.11 418.10,586.19 418.40,586.00 419.10,586.83 420.10,588.06 420.20,588.40 421.10,588.34 422.00,587.80 422.10,588.24 423.10,588.51 423.90,589.60 424.10,589.71 425.10,589.56 426.10,589.16 426.30,589.00 427.10,589.31 428.10,590.34 428.20,590.20 429.10,589.46 430.10,588.09 430.60,587.80 431.10,588.06 432.10,588.08 432.50,588.40 433.10,588.91 434.10,590.51 434.30,590.90 435.10,590.65 436.10,590.60 437.10,588.69 438.10,587.02 438.60,586.00 439.10,586.10 440.10,585.90 441.10,585.30 442.10,586.36 442.90,586.60 443.10,586.60 444.10,584.74 444.70,583.50 445.10,582.99 446.10,581.95 446.60,581.70 447.10,582.45 448.10,583.73 448.40,584.10 449.10,583.02 450.10,580.89 450.90,579.80 451.10,579.33 452.10,578.54 453.10,577.03 453.30,576.70 454.00,573.60 454.10,573.46 455.10,570.32 455.80,568.70 456.10,567.76 457.10,565.22 457.70,563.20 458.10,562.60 458.90,561.10 459.10,561.40 460.10,560.62 460.70,560.70 461.10,560.37 462.10,559.86 462.30,559.50 463.10,560.47 463.80,561.40 464.10,561.46 465.10,560.84 465.30,560.70 466.10,558.78 466.90,557.40 467.10,557.26 468.10,558.60 468.70,558.70 469.10,558.43 470.10,558.49 471.10,558.58 471.20,558.70 472.10,559.25 473.00,559.50 473.10,559.81 474.10,560.18 474.90,560.70 475.10,560.84 476.10,561.77 476.70,562.00 477.10,562.64 477.90,564.40 478.10,565.17 479.10,569.65 479.20,570.00 480.10,573.25 480.40,574.20 481.10,574.63 481.60,575.50 482.10,574.69 482.80,574.20 483.10,574.52 484.10,576.70 485.10,577.61 485.70,577.90 486.10,578.58 487.10,579.80 488.10,580.45 489.00,580.40 489.10,580.74 490.10,581.88 490.60,582.80 491.10,583.30 492.10,584.07 492.70,584.10 493.10,584.13 494.10,584.22 494.50,584.70 495.10,584.61 496.10,584.55 496.30,584.70 497.10,585.74 498.10,587.22 498.20,587.70 499.10,588.37 500.10,589.93 500.60,590.20 501.10,590.12 502.10,591.00 503.10,591.40 504.10,590.19 504.90,589.60 505.10,589.15 506.10,588.40 506.50,587.70 507.10,588.32 508.00,589.60 508.10,589.43 509.10,590.12 510.10,590.79 510.40,590.80 511.10,590.91 512.10,591.27 513.10,591.08 513.50,591.20 514.10,591.10 515.10,591.04 516.10,590.67 516.60,590.60 517.10,590.86 518.10,590.89 519.00,591.10 519.10,590.86 520.10,590.97 521.10,591.55 521.50,591.40 522.10,591.37 523.10,591.18 523.30,590.80 524.10,590.33 524.90,589.60 525.10,589.88 525.80,590.60" fill="none" stroke="#fb9a99" stroke-width="1.5" stroke-linejoin="round" stroke-linecap="butt"/>
</g>
<rect x="380.50" y="555.50" width="152.00" height="38.90" fill="none" stroke="#4a4a4a" stroke-width="1.05"/>
<rect x="532.50" y="555.50" width="17.00" height="38.90" fill="#d9d9d9" stroke="#333" stroke-width="1"/>
<text x="541.60" y="574.05" font-size="9.45" fill="#111" stroke="#111" stroke-width="0.15" text-anchor="middle" dominant-baseline="central" transform="rotate(90 541.60 574.05)">CG</text>
<line x1="377.90" y1="557.90" x2="380.50" y2="557.90" stroke="#333" stroke-width="0.9"/>
<text x="375.05" y="560.90" font-size="9.45" text-anchor="end" font-weight="normal" fill="#111" stroke="#111" stroke-width="0.15" >0.8</text>
<line x1="377.90" y1="568.00" x2="380.50" y2="568.00" stroke="#333" stroke-width="0.9"/>
<text x="375.05" y="571.00" font-size="9.45" text-anchor="end" font-weight="normal" fill="#111" stroke="#111" stroke-width="0.15" >0.6</text>
<line x1="377.90" y1="578.10" x2="380.50" y2="578.10" stroke="#333" stroke-width="0.9"/>
<text x="375.05" y="581.10" font-size="9.45" text-anchor="end" font-weight="normal" fill="#111" stroke="#111" stroke-width="0.15" >0.4</text>
<line x1="377.90" y1="588.20" x2="380.50" y2="588.20" stroke="#333" stroke-width="0.9"/>
<text x="375.05" y="591.20" font-size="9.45" text-anchor="end" font-weight="normal" fill="#111" stroke="#111" stroke-width="0.15" >0.2</text>
<clipPath id="clip380_599"><rect x="381.0" y="599.8" width="151.0" height="37.30000000000007"/></clipPath>
<g clip-path="url(#clip380_599)">
<polyline points="387.10,637.00 388.10,636.80 389.10,636.58 390.10,636.42 391.10,636.82 391.40,636.50 392.10,636.49 393.10,636.47 394.10,636.29 395.10,636.07 395.70,636.10 396.10,636.21 397.10,635.96 398.10,635.96 399.10,635.74 400.00,635.50 400.10,635.77 401.10,635.82 402.10,635.96 403.10,636.29 403.60,636.70 404.10,636.69 405.10,635.98 406.10,636.00 406.70,635.70 407.10,635.89 408.10,635.75 409.10,636.52 409.80,636.50 410.10,636.19 411.10,636.83 412.10,636.87 413.10,636.48 413.40,636.70 414.10,634.54 414.70,632.40 415.10,631.71 416.10,629.40 417.10,631.45 417.40,632.40 418.10,632.05 418.60,631.60 419.10,632.16 420.10,634.36 420.60,634.90 421.10,634.82 422.00,634.30 422.10,634.67 423.10,634.33 423.90,634.90 424.10,634.84 425.10,635.38 426.10,635.71 426.30,635.70 427.10,635.68 428.10,636.44 429.10,636.67 429.40,636.50 430.10,636.07 431.10,635.54 432.10,635.49 432.50,635.20 433.10,635.20 434.10,635.47 435.10,635.46 435.50,635.50 436.10,634.90 437.10,633.77 438.10,632.98 438.60,632.80 439.10,632.57 440.10,632.36 441.10,631.80 442.10,631.50 443.10,631.47 443.50,631.20 444.10,630.05 445.10,628.33 446.00,626.30 446.10,626.41 447.10,626.18 447.20,626.30 448.10,628.80 449.00,631.80 449.10,631.30 450.10,629.34 450.90,628.10 451.10,628.02 452.10,626.36 452.70,625.10 453.10,625.49 454.00,625.80 454.10,625.39 455.00,624.40 455.10,624.11 455.80,621.17 456.10,619.17 457.10,613.91 457.40,611.90 458.10,610.22 458.70,608.40 459.10,609.37 459.90,610.80 460.10,610.81 461.10,610.32 461.60,610.20 462.10,608.65 462.80,605.90 463.10,606.06 464.10,605.01 465.00,604.70 465.10,604.57 466.10,603.94 466.90,603.10 467.10,603.48 468.10,604.54 468.50,605.10 469.10,605.14 470.10,605.62 470.20,605.30 471.10,605.71 471.80,606.30 472.10,606.13 473.10,606.57 473.60,606.50 474.10,606.50 475.10,607.25 475.50,607.10 476.10,608.23 476.70,609.60 477.10,611.30 477.90,613.60 478.10,614.39 479.10,619.10 479.20,619.27 480.10,621.76 480.70,623.30 481.10,623.40 482.10,622.87 482.50,623.00 483.10,623.03 484.10,623.70 485.10,624.21 485.90,625.20 486.10,624.77 487.10,624.05 487.70,623.30 488.10,623.77 489.10,625.84 489.60,627.00 490.10,628.30 491.10,630.51 491.40,631.50 492.10,631.75 493.10,632.20 493.30,632.50 494.10,632.53 495.10,632.30 496.10,631.41 496.70,631.30 497.10,632.31 498.10,633.70 498.20,633.80 499.10,634.85 500.00,635.60 500.10,635.64 501.10,635.60 502.10,635.93 502.50,635.60 503.10,636.03 504.10,636.23 504.90,636.20 505.10,635.71 506.10,635.32 506.80,634.70 507.10,635.12 508.10,635.28 509.10,635.57 509.20,635.60 510.10,635.97 511.10,635.93 512.10,636.60 512.30,636.50 513.10,636.62 514.10,636.02 515.10,636.23 515.30,636.20 516.10,636.14 517.10,635.80 518.10,635.87 519.00,635.60 519.10,635.91 520.10,636.06 521.10,635.80 521.50,636.00 522.10,635.32 523.10,635.08 523.70,634.40 524.10,634.28 524.90,633.80 525.10,634.30 525.80,635.00" fill="none" stroke="#a6cee3" stroke-width="1.3" stroke-linejoin="round" stroke-linecap="butt"/>
<polyline points="387.10,637.10 388.10,636.90 389.10,636.68 390.10,636.52 391.10,636.92 391.40,636.60 392.10,636.59 393.10,636.57 394.10,636.39 395.10,636.17 395.70,636.20 396.10,636.31 397.10,636.06 398.10,636.06 399.10,635.84 400.00,635.60 400.10,635.87 401.10,635.92 402.10,636.06 403.10,636.39 403.60,636.80 404.10,636.79 405.10,636.08 406.10,636.10 406.70,635.80 407.10,635.99 408.10,635.85 409.10,636.62 409.80,636.60 410.10,636.29 411.10,636.93 412.10,636.97 413.10,636.58 413.40,636.80 414.10,634.64 414.70,632.50 415.10,631.81 416.10,629.50 417.10,631.55 417.40,632.50 418.10,632.15 418.60,631.70 419.10,632.26 420.10,634.46 420.60,635.00 421.10,634.92 422.00,634.40 422.10,634.77 423.10,634.43 423.90,635.00 424.10,634.94 425.10,635.48 426.10,635.81 426.30,635.80 427.10,635.78 428.10,636.54 429.10,636.77 429.40,636.60 430.10,636.17 431.10,635.64 432.10,635.59 432.50,635.30 433.10,635.30 434.10,635.57 435.10,635.56 435.50,635.60 436.10,635.00 437.10,633.87 438.10,633.08 438.60,632.90 439.10,632.67 440.10,632.46 441.10,631.90 442.10,631.60 443.10,631.57 443.50,631.30 444.10,630.15 445.10,628.43 446.00,626.40 446.10,626.51 447.10,626.28 447.20,626.40 448.10,628.90 449.00,631.90 449.10,631.40 450.10,629.44 450.90,628.20 451.10,628.12 452.10,626.46 452.70,625.20 453.10,625.59 454.00,625.90 454.10,625.49 455.00,624.50 455.10,624.21 455.80,621.29 456.10,619.31 457.10,614.08 457.40,612.08 458.10,610.42 458.70,608.60 459.10,609.57 459.90,611.00 460.10,611.01 461.10,610.52 461.60,610.40 462.10,608.85 462.80,606.10 463.10,606.26 464.10,605.21 465.00,604.90 465.10,604.77 466.10,604.14 466.90,603.30 467.10,603.68 468.10,604.74 468.50,605.30 469.10,605.34 470.10,605.82 470.20,605.50 471.10,605.91 471.80,606.50 472.10,606.33 473.10,606.77 473.60,606.70 474.10,606.70 475.10,607.45 475.50,607.30 476.10,608.43 476.70,609.80 477.10,611.49 477.90,613.77 478.10,614.55 479.10,619.23 479.20,619.39 480.10,621.86 480.70,623.40 481.10,623.50 482.10,622.97 482.50,623.10 483.10,623.13 484.10,623.80 485.10,624.31 485.90,625.30 486.10,624.87 487.10,624.15 487.70,623.40 488.10,623.87 489.10,625.94 489.60,627.10 490.10,628.40 491.10,630.61 491.40,631.60 492.10,631.85 493.10,632.30 493.30,632.60 494.10,632.63 495.10,632.40 496.10,631.51 496.70,631.40 497.10,632.41 498.10,633.80 498.20,633.90 499.10,634.95 500.00,635.70 500.10,635.74 501.10,635.70 502.10,636.03 502.50,635.70 503.10,636.13 504.10,636.33 504.90,636.30 505.10,635.81 506.10,635.42 506.80,634.80 507.10,635.22 508.10,635.38 509.10,635.67 509.20,635.70 510.10,636.07 511.10,636.03 512.10,636.70 512.30,636.60 513.10,636.72 514.10,636.12 515.10,636.33 515.30,636.30 516.10,636.24 517.10,635.90 518.10,635.97 519.00,635.70 519.10,636.01 520.10,636.16 521.10,635.90 521.50,636.10 522.10,635.42 523.10,635.18 523.70,634.50 524.10,634.38 524.90,633.90 525.10,634.40 525.80,635.10" fill="none" stroke="#1f78b4" stroke-width="1.3" stroke-linejoin="round" stroke-linecap="butt"/>
<polyline points="387.10,636.60 388.10,636.40 389.10,636.18 390.10,636.02 391.10,636.42 391.40,636.10 392.10,636.09 393.10,636.07 394.10,635.89 395.10,635.67 395.70,635.70 396.10,635.81 397.10,635.56 398.10,635.56 399.10,635.34 400.00,635.10 400.10,635.37 401.10,635.42 402.10,635.56 403.10,635.89 403.60,636.30 404.10,636.29 405.10,635.58 406.10,635.60 406.70,635.30 407.10,635.49 408.10,635.35 409.10,636.12 409.80,636.10 410.10,635.79 411.10,636.43 412.10,636.47 413.10,636.08 413.40,636.30 414.10,634.14 414.70,632.00 415.10,631.31 416.10,629.00 417.10,631.05 417.40,632.00 418.10,631.65 418.60,631.20 419.10,631.76 420.10,633.96 420.60,634.50 421.10,634.42 422.00,633.90 422.10,634.27 423.10,633.93 423.90,634.50 424.10,634.44 425.10,634.98 426.10,635.31 426.30,635.30 427.10,635.28 428.10,636.04 429.10,636.27 429.40,636.10 430.10,635.67 431.10,635.14 432.10,635.09 432.50,634.80 433.10,634.80 434.10,635.07 435.10,635.06 435.50,635.10 436.10,634.50 437.10,633.37 438.10,632.58 438.60,632.40 439.10,632.17 440.10,631.96 441.10,631.40 442.10,631.10 443.10,631.07 443.50,630.80 444.10,629.65 445.10,627.93 446.00,625.90 446.10,626.01 447.10,625.78 447.20,625.90 448.10,628.40 449.00,631.40 449.10,630.90 450.10,628.94 450.90,627.70 451.10,627.62 452.10,625.96 452.70,624.70 453.10,625.09 454.00,625.40 454.10,624.99 455.00,624.00 455.10,623.69 455.80,620.63 456.10,618.59 457.10,613.16 457.40,611.10 458.10,609.32 458.70,607.50 459.10,608.47 459.90,609.90 460.10,609.91 461.10,609.42 461.60,609.30 462.10,607.75 462.80,605.00 463.10,605.16 464.10,604.11 465.00,603.80 465.10,603.67 466.10,603.04 466.90,602.20 467.10,602.58 468.10,603.64 468.50,604.20 469.10,604.24 470.10,604.72 470.20,604.40 471.10,604.81 471.80,605.40 472.10,605.23 473.10,605.67 473.60,605.60 474.10,605.60 475.10,606.35 475.50,606.20 476.10,607.33 476.70,608.70 477.10,610.41 477.90,612.85 478.10,613.67 479.10,618.55 479.20,618.73 480.10,621.36 480.70,622.90 481.10,623.00 482.10,622.47 482.50,622.60 483.10,622.63 484.10,623.30 485.10,623.81 485.90,624.80 486.10,624.37 487.10,623.65 487.70,622.90 488.10,623.37 489.10,625.44 489.60,626.60 490.10,627.90 491.10,630.11 491.40,631.10 492.10,631.35 493.10,631.80 493.30,632.10 494.10,632.13 495.10,631.90 496.10,631.01 496.70,630.90 497.10,631.91 498.10,633.30 498.20,633.40 499.10,634.45 500.00,635.20 500.10,635.24 501.10,635.20 502.10,635.53 502.50,635.20 503.10,635.63 504.10,635.83 504.90,635.80 505.10,635.31 506.10,634.92 506.80,634.30 507.10,634.72 508.10,634.88 509.10,635.17 509.20,635.20 510.10,635.57 511.10,635.53 512.10,636.20 512.30,636.10 513.10,636.22 514.10,635.62 515.10,635.83 515.30,635.80 516.10,635.74 517.10,635.40 518.10,635.47 519.00,635.20 519.10,635.51 520.10,635.66 521.10,635.40 521.50,635.60 522.10,634.92 523.10,634.68 523.70,634.00 524.10,633.88 524.90,633.40 525.10,633.90 525.80,634.60" fill="none" stroke="#b2df8a" stroke-width="1.3" stroke-linejoin="round" stroke-linecap="butt"/>
<polyline points="387.10,636.90 388.10,636.70 389.10,636.48 390.10,636.32 391.10,636.72 391.40,636.40 392.10,636.39 393.10,636.37 394.10,636.19 395.10,635.97 395.70,636.00 396.10,636.11 397.10,635.86 398.10,635.86 399.10,635.64 400.00,635.40 400.10,635.67 401.10,635.72 402.10,635.86 403.10,636.19 403.60,636.60 404.10,636.59 405.10,635.88 406.10,635.90 406.70,635.60 407.10,635.79 408.10,635.65 409.10,636.42 409.80,636.40 410.10,636.09 411.10,636.73 412.10,636.77 413.10,636.38 413.40,636.60 414.10,634.44 414.70,632.30 415.10,631.61 416.10,629.30 417.10,631.35 417.40,632.30 418.10,631.95 418.60,631.50 419.10,632.06 420.10,634.26 420.60,634.80 421.10,634.72 422.00,634.20 422.10,634.57 423.10,634.23 423.90,634.80 424.10,634.74 425.10,635.28 426.10,635.61 426.30,635.60 427.10,635.58 428.10,636.34 429.10,636.57 429.40,636.40 430.10,635.97 431.10,635.44 432.10,635.39 432.50,635.10 433.10,635.10 434.10,635.37 435.10,635.36 435.50,635.40 436.10,634.80 437.10,633.67 438.10,632.88 438.60,632.70 439.10,632.47 440.10,632.26 441.10,631.70 442.10,631.40 443.10,631.37 443.50,631.10 444.10,629.95 445.10,628.23 446.00,626.20 446.10,626.31 447.10,626.08 447.20,626.20 448.10,628.70 449.00,631.70 449.10,631.20 450.10,629.24 450.90,628.00 451.10,627.92 452.10,626.26 452.70,625.00 453.10,625.39 454.00,625.70 454.10,625.29 455.00,624.30 455.10,624.00 455.80,621.04 456.10,619.03 457.10,613.74 457.40,611.72 458.10,610.02 458.70,608.20 459.10,609.17 459.90,610.60 460.10,610.61 461.10,610.12 461.60,610.00 462.10,608.45 462.80,605.70 463.10,605.86 464.10,604.81 465.00,604.50 465.10,604.37 466.10,603.74 466.90,602.90 467.10,603.28 468.10,604.34 468.50,604.90 469.10,604.94 470.10,605.42 470.20,605.10 471.10,605.51 471.80,606.10 472.10,605.93 473.10,606.37 473.60,606.30 474.10,606.30 475.10,607.05 475.50,606.90 476.10,608.03 476.70,609.40 477.10,611.10 477.90,613.43 478.10,614.22 479.10,618.97 479.20,619.14 480.10,621.66 480.70,623.20 481.10,623.30 482.10,622.77 482.50,622.90 483.10,622.93 484.10,623.60 485.10,624.11 485.90,625.10 486.10,624.67 487.10,623.95 487.70,623.20 488.10,623.67 489.10,625.74 489.60,626.90 490.10,628.20 491.10,630.41 491.40,631.40 492.10,631.65 493.10,632.10 493.30,632.40 494.10,632.43 495.10,632.20 496.10,631.31 496.70,631.20 497.10,632.21 498.10,633.60 498.20,633.70 499.10,634.75 500.00,635.50 500.10,635.54 501.10,635.50 502.10,635.83 502.50,635.50 503.10,635.93 504.10,636.13 504.90,636.10 505.10,635.61 506.10,635.22 506.80,634.60 507.10,635.02 508.10,635.18 509.10,635.47 509.20,635.50 510.10,635.87 511.10,635.83 512.10,636.50 512.30,636.40 513.10,636.52 514.10,635.92 515.10,636.13 515.30,636.10 516.10,636.04 517.10,635.70 518.10,635.77 519.00,635.50 519.10,635.81 520.10,635.96 521.10,635.70 521.50,635.90 522.10,635.22 523.10,634.98 523.70,634.30 524.10,634.18 524.90,633.70 525.10,634.20 525.80,634.90" fill="none" stroke="#33a02c" stroke-width="1.3" stroke-linejoin="round" stroke-linecap="butt"/>
<polyline points="387.10,635.60 388.10,635.40 389.10,635.18 390.10,635.02 391.10,635.42 391.40,635.10 392.10,635.09 393.10,635.07 394.10,634.89 395.10,634.67 395.70,634.70 396.10,634.81 397.10,634.56 398.10,634.56 399.10,634.34 400.00,634.10 400.10,634.37 401.10,634.42 402.10,634.56 403.10,634.89 403.60,635.30 404.10,635.29 405.10,634.58 406.10,634.60 406.70,634.30 407.10,634.49 408.10,634.35 409.10,635.12 409.80,635.10 410.10,634.79 411.10,635.43 412.10,635.47 413.10,635.08 413.40,635.30 414.10,633.14 414.70,631.00 415.10,630.31 416.10,628.00 417.10,630.05 417.40,631.00 418.10,630.65 418.60,630.20 419.10,630.76 420.10,632.96 420.60,633.50 421.10,633.42 422.00,632.90 422.10,633.27 423.10,632.93 423.90,633.50 424.10,633.44 425.10,633.98 426.10,634.31 426.30,634.30 427.10,634.28 428.10,635.04 429.10,635.27 429.40,635.10 430.10,634.67 431.10,634.14 432.10,634.09 432.50,633.80 433.10,633.80 434.10,634.07 435.10,634.06 435.50,634.10 436.10,633.50 437.10,632.37 438.10,631.58 438.60,631.40 439.10,631.17 440.10,630.96 441.10,630.40 442.10,630.10 443.10,630.07 443.50,629.80 444.10,628.65 445.10,626.93 446.00,624.90 446.10,625.01 447.10,624.78 447.20,624.90 448.10,627.40 449.00,630.40 449.10,629.90 450.10,627.94 450.90,626.70 451.10,626.62 452.10,624.96 452.70,623.70 453.10,624.09 454.00,624.40 454.10,623.99 455.00,623.00 455.10,622.67 455.80,619.50 456.10,617.40 457.10,611.81 457.40,609.70 458.10,607.82 458.70,606.00 459.10,606.97 459.90,608.40 460.10,608.41 461.10,607.92 461.60,607.80 462.10,606.25 462.80,603.50 463.10,603.66 464.10,602.61 465.00,602.30 465.10,602.17 466.10,601.54 466.90,600.70 467.10,601.08 468.10,602.14 468.50,602.70 469.10,602.74 470.10,603.22 470.20,602.90 471.10,603.31 471.80,603.90 472.10,603.73 473.10,604.17 473.60,604.10 474.10,604.10 475.10,604.85 475.50,604.70 476.10,605.83 476.70,607.20 477.10,608.93 477.90,611.50 478.10,612.35 479.10,617.40 479.20,617.60 480.10,620.36 480.70,621.90 481.10,622.00 482.10,621.47 482.50,621.60 483.10,621.63 484.10,622.30 485.10,622.81 485.90,623.80 486.10,623.37 487.10,622.65 487.70,621.90 488.10,622.37 489.10,624.44 489.60,625.60 490.10,626.90 491.10,629.11 491.40,630.10 492.10,630.35 493.10,630.80 493.30,631.10 494.10,631.13 495.10,630.90 496.10,630.01 496.70,629.90 497.10,630.91 498.10,632.30 498.20,632.40 499.10,633.45 500.00,634.20 500.10,634.24 501.10,634.20 502.10,634.53 502.50,634.20 503.10,634.63 504.10,634.83 504.90,634.80 505.10,634.31 506.10,633.92 506.80,633.30 507.10,633.72 508.10,633.88 509.10,634.17 509.20,634.20 510.10,634.57 511.10,634.53 512.10,635.20 512.30,635.10 513.10,635.22 514.10,634.62 515.10,634.83 515.30,634.80 516.10,634.74 517.10,634.40 518.10,634.47 519.00,634.20 519.10,634.51 520.10,634.66 521.10,634.40 521.50,634.60 522.10,633.92 523.10,633.68 523.70,633.00 524.10,632.88 524.90,632.40 525.10,632.90 525.80,633.60" fill="none" stroke="#fb9a99" stroke-width="1.5" stroke-linejoin="round" stroke-linecap="butt"/>
</g>
<rect x="380.50" y="599.30" width="152.00" height="38.30" fill="none" stroke="#4a4a4a" stroke-width="1.05"/>
<rect x="532.50" y="599.30" width="17.00" height="38.30" fill="#d9d9d9" stroke="#333" stroke-width="1"/>
<text x="541.60" y="617.55" font-size="9.45" fill="#111" stroke="#111" stroke-width="0.15" text-anchor="middle" dominant-baseline="central" transform="rotate(90 541.60 617.55)">CHG</text>
<line x1="377.90" y1="610.50" x2="380.50" y2="610.50" stroke="#333" stroke-width="0.9"/>
<text x="375.05" y="613.50" font-size="9.45" text-anchor="end" font-weight="normal" fill="#111" stroke="#111" stroke-width="0.15" >0.4</text>
<line x1="377.90" y1="623.40" x2="380.50" y2="623.40" stroke="#333" stroke-width="0.9"/>
<text x="375.05" y="626.40" font-size="9.45" text-anchor="end" font-weight="normal" fill="#111" stroke="#111" stroke-width="0.15" >0.2</text>
<line x1="377.90" y1="636.30" x2="380.50" y2="636.30" stroke="#333" stroke-width="0.9"/>
<text x="375.05" y="639.30" font-size="9.45" text-anchor="end" font-weight="normal" fill="#111" stroke="#111" stroke-width="0.15" >0.0</text>
<clipPath id="clip380_642"><rect x="381.0" y="642.8" width="151.0" height="37.700000000000045"/></clipPath>
<g clip-path="url(#clip380_642)">
<polyline points="387.10,680.90 388.10,680.55 389.10,680.57 390.10,680.16 390.70,680.30 391.10,680.25 392.10,679.17 393.10,678.72 394.10,678.30 394.40,677.80 395.10,677.90 396.10,678.54 396.90,678.40 397.10,678.48 398.10,677.97 399.10,677.64 400.00,677.20 400.10,677.38 401.10,678.39 402.10,680.00 402.40,680.00 403.10,679.44 404.10,679.13 405.10,678.33 405.50,677.80 406.10,677.94 407.10,678.90 407.90,679.70 408.10,679.71 409.10,680.07 410.10,679.74 411.10,680.17 412.10,680.12 412.80,680.30 413.10,679.22 414.10,675.07 414.40,673.50 415.10,672.45 416.10,670.50 417.10,674.05 417.40,675.40 418.10,674.75 419.00,673.50 419.10,673.70 420.10,676.36 420.80,677.80 421.10,677.78 422.10,678.08 423.10,678.14 423.30,677.80 424.10,678.53 425.10,679.17 426.10,679.80 426.30,679.70 427.10,679.96 428.10,679.90 428.80,680.30 429.10,679.72 430.10,676.30 430.60,674.80 431.10,674.71 431.80,675.40 432.10,676.35 433.10,679.70 434.10,679.10 435.10,678.41 435.50,678.40 436.10,678.29 437.10,676.98 438.00,676.60 438.10,676.75 439.10,675.17 439.80,674.20 440.10,674.07 441.10,674.51 441.70,674.80 442.10,674.45 443.10,673.42 444.10,672.90 445.10,670.82 446.00,668.60 446.10,668.81 447.10,670.10 447.80,670.50 448.10,671.66 449.00,674.20 449.10,674.13 450.10,671.56 451.10,668.79 451.50,667.40 452.10,667.52 453.10,667.49 454.00,667.50 454.10,667.56 455.10,668.23 455.20,668.11 455.80,663.03 456.10,662.35 457.10,658.82 458.10,657.09 458.70,655.40 459.10,656.41 460.10,658.10 461.10,657.37 461.60,657.50 462.10,655.59 463.10,651.66 463.60,650.10 464.10,649.73 465.00,648.90 465.10,648.90 466.10,648.28 466.50,648.00 467.10,649.04 468.10,650.10 469.10,650.38 470.00,651.00 470.10,651.20 471.10,651.47 472.10,651.59 472.40,651.90 473.10,651.77 474.10,650.45 474.20,650.70 475.10,652.08 475.80,653.20 476.10,654.44 477.10,658.50 477.30,659.14 478.10,662.17 479.10,665.23 479.20,665.53 480.10,666.57 481.00,667.50 481.10,667.37 482.10,667.67 482.80,667.80 483.10,667.72 484.10,668.63 484.40,668.70 485.10,669.18 486.10,670.00 487.10,669.10 488.10,667.80 489.10,669.18 489.80,670.60 490.10,671.27 491.10,673.93 491.40,674.30 492.10,674.29 493.10,675.23 493.90,675.50 494.10,675.52 495.10,675.06 496.10,674.44 496.30,674.30 497.10,675.82 498.10,678.03 498.20,677.90 499.10,678.14 500.10,678.87 501.10,679.27 501.20,679.20 502.10,679.53 503.10,679.55 504.10,679.42 504.30,679.80 505.10,679.29 506.10,678.06 506.80,677.60 507.10,677.92 508.10,678.48 509.10,678.75 509.20,678.60 510.10,678.94 511.10,679.71 512.10,679.83 512.30,680.00 513.10,679.82 514.10,679.93 515.10,679.92 515.30,679.80 516.10,679.93 517.10,679.84 518.10,679.74 518.40,679.80 519.10,679.69 520.10,679.00 520.90,678.80 521.10,678.77 522.10,677.85 522.70,677.90 523.10,677.43 524.10,677.41 524.20,677.10 525.10,677.50 525.40,677.90" fill="none" stroke="#a6cee3" stroke-width="1.3" stroke-linejoin="round" stroke-linecap="butt"/>
<polyline points="387.10,681.10 388.10,680.75 389.10,680.77 390.10,680.36 390.70,680.50 391.10,680.45 392.10,679.37 393.10,678.92 394.10,678.50 394.40,678.00 395.10,678.10 396.10,678.74 396.90,678.60 397.10,678.68 398.10,678.17 399.10,677.84 400.00,677.40 400.10,677.58 401.10,678.59 402.10,680.20 402.40,680.20 403.10,679.64 404.10,679.33 405.10,678.53 405.50,678.00 406.10,678.14 407.10,679.10 407.90,679.90 408.10,679.91 409.10,680.27 410.10,679.94 411.10,680.37 412.10,680.32 412.80,680.50 413.10,679.42 414.10,675.27 414.40,673.70 415.10,672.65 416.10,670.70 417.10,674.25 417.40,675.60 418.10,674.95 419.00,673.70 419.10,673.90 420.10,676.56 420.80,678.00 421.10,677.98 422.10,678.28 423.10,678.34 423.30,678.00 424.10,678.73 425.10,679.37 426.10,680.00 426.30,679.90 427.10,680.16 428.10,680.10 428.80,680.50 429.10,679.92 430.10,676.50 430.60,675.00 431.10,674.91 431.80,675.60 432.10,676.55 433.10,679.90 434.10,679.30 435.10,678.61 435.50,678.60 436.10,678.49 437.10,677.18 438.00,676.80 438.10,676.95 439.10,675.37 439.80,674.40 440.10,674.27 441.10,674.71 441.70,675.00 442.10,674.65 443.10,673.62 444.10,673.10 445.10,671.02 446.00,668.80 446.10,669.01 447.10,670.30 447.80,670.70 448.10,671.86 449.00,674.40 449.10,674.33 450.10,671.76 451.10,668.99 451.50,667.60 452.10,667.72 453.10,667.69 454.00,667.70 454.10,667.76 455.10,668.43 455.20,668.31 455.80,663.23 456.10,662.55 457.10,659.02 458.10,657.29 458.70,655.60 459.10,656.61 460.10,658.30 461.10,657.57 461.60,657.70 462.10,655.79 463.10,651.86 463.60,650.30 464.10,649.93 465.00,649.10 465.10,649.10 466.10,648.48 466.50,648.20 467.10,649.24 468.10,650.30 469.10,650.58 470.00,651.20 470.10,651.40 471.10,651.67 472.10,651.79 472.40,652.10 473.10,651.97 474.10,650.65 474.20,650.90 475.10,652.28 475.80,653.40 476.10,654.64 477.10,658.70 477.30,659.34 478.10,662.37 479.10,665.43 479.20,665.73 480.10,666.77 481.00,667.70 481.10,667.57 482.10,667.87 482.80,668.00 483.10,667.92 484.10,668.83 484.40,668.90 485.10,669.38 486.10,670.20 487.10,669.30 488.10,668.00 489.10,669.38 489.80,670.80 490.10,671.47 491.10,674.13 491.40,674.50 492.10,674.49 493.10,675.43 493.90,675.70 494.10,675.72 495.10,675.26 496.10,674.64 496.30,674.50 497.10,676.02 498.10,678.23 498.20,678.10 499.10,678.34 500.10,679.07 501.10,679.47 501.20,679.40 502.10,679.73 503.10,679.75 504.10,679.62 504.30,680.00 505.10,679.49 506.10,678.26 506.80,677.80 507.10,678.12 508.10,678.68 509.10,678.95 509.20,678.80 510.10,679.14 511.10,679.91 512.10,680.03 512.30,680.20 513.10,680.02 514.10,680.13 515.10,680.12 515.30,680.00 516.10,680.13 517.10,680.04 518.10,679.94 518.40,680.00 519.10,679.89 520.10,679.20 520.90,679.00 521.10,678.97 522.10,678.05 522.70,678.10 523.10,677.63 524.10,677.61 524.20,677.30 525.10,677.70 525.40,678.10" fill="none" stroke="#1f78b4" stroke-width="1.3" stroke-linejoin="round" stroke-linecap="butt"/>
<polyline points="387.10,680.10 388.10,679.75 389.10,679.77 390.10,679.36 390.70,679.50 391.10,679.45 392.10,678.37 393.10,677.92 394.10,677.50 394.40,677.00 395.10,677.10 396.10,677.74 396.90,677.60 397.10,677.68 398.10,677.17 399.10,676.84 400.00,676.40 400.10,676.58 401.10,677.59 402.10,679.20 402.40,679.20 403.10,678.64 404.10,678.33 405.10,677.53 405.50,677.00 406.10,677.14 407.10,678.10 407.90,678.90 408.10,678.91 409.10,679.27 410.10,678.94 411.10,679.37 412.10,679.32 412.80,679.50 413.10,678.42 414.10,674.27 414.40,672.70 415.10,671.65 416.10,669.70 417.10,673.25 417.40,674.60 418.10,673.95 419.00,672.70 419.10,672.90 420.10,675.56 420.80,677.00 421.10,676.98 422.10,677.28 423.10,677.34 423.30,677.00 424.10,677.73 425.10,678.37 426.10,679.00 426.30,678.90 427.10,679.16 428.10,679.10 428.80,679.50 429.10,678.92 430.10,675.50 430.60,674.00 431.10,673.91 431.80,674.60 432.10,675.55 433.10,678.90 434.10,678.30 435.10,677.61 435.50,677.60 436.10,677.49 437.10,676.18 438.00,675.80 438.10,675.95 439.10,674.37 439.80,673.40 440.10,673.27 441.10,673.71 441.70,674.00 442.10,673.65 443.10,672.62 444.10,672.10 445.10,670.02 446.00,667.80 446.10,668.01 447.10,669.30 447.80,669.70 448.10,670.86 449.00,673.40 449.10,673.33 450.10,670.76 451.10,667.99 451.50,666.60 452.10,666.72 453.10,666.69 454.00,666.70 454.10,666.76 455.10,667.40 455.20,667.25 455.80,662.01 456.10,661.26 457.10,657.46 458.10,655.49 458.70,653.80 459.10,654.81 460.10,656.50 461.10,655.77 461.60,655.90 462.10,653.99 463.10,650.06 463.60,648.50 464.10,648.13 465.00,647.30 465.10,647.30 466.10,646.68 466.50,646.40 467.10,647.44 468.10,648.50 469.10,648.78 470.00,649.40 470.10,649.60 471.10,649.87 472.10,649.99 472.40,650.30 473.10,650.17 474.10,648.85 474.20,649.10 475.10,650.48 475.80,651.60 476.10,652.84 477.10,656.93 477.30,657.62 478.10,660.86 479.10,664.19 479.20,664.51 480.10,665.77 481.00,666.70 481.10,666.57 482.10,666.87 482.80,667.00 483.10,666.92 484.10,667.83 484.40,667.90 485.10,668.38 486.10,669.20 487.10,668.30 488.10,667.00 489.10,668.38 489.80,669.80 490.10,670.47 491.10,673.13 491.40,673.50 492.10,673.49 493.10,674.43 493.90,674.70 494.10,674.72 495.10,674.26 496.10,673.64 496.30,673.50 497.10,675.02 498.10,677.23 498.20,677.10 499.10,677.34 500.10,678.07 501.10,678.47 501.20,678.40 502.10,678.73 503.10,678.75 504.10,678.62 504.30,679.00 505.10,678.49 506.10,677.26 506.80,676.80 507.10,677.12 508.10,677.68 509.10,677.95 509.20,677.80 510.10,678.14 511.10,678.91 512.10,679.03 512.30,679.20 513.10,679.02 514.10,679.13 515.10,679.12 515.30,679.00 516.10,679.13 517.10,679.04 518.10,678.94 518.40,679.00 519.10,678.89 520.10,678.20 520.90,678.00 521.10,677.97 522.10,677.05 522.70,677.10 523.10,676.63 524.10,676.61 524.20,676.30 525.10,676.70 525.40,677.10" fill="none" stroke="#b2df8a" stroke-width="1.3" stroke-linejoin="round" stroke-linecap="butt"/>
<polyline points="387.10,680.70 388.10,680.35 389.10,680.37 390.10,679.96 390.70,680.10 391.10,680.05 392.10,678.97 393.10,678.52 394.10,678.10 394.40,677.60 395.10,677.70 396.10,678.34 396.90,678.20 397.10,678.28 398.10,677.77 399.10,677.44 400.00,677.00 400.10,677.18 401.10,678.19 402.10,679.80 402.40,679.80 403.10,679.24 404.10,678.93 405.10,678.13 405.50,677.60 406.10,677.74 407.10,678.70 407.90,679.50 408.10,679.51 409.10,679.87 410.10,679.54 411.10,679.97 412.10,679.92 412.80,680.10 413.10,679.02 414.10,674.87 414.40,673.30 415.10,672.25 416.10,670.30 417.10,673.85 417.40,675.20 418.10,674.55 419.00,673.30 419.10,673.50 420.10,676.16 420.80,677.60 421.10,677.58 422.10,677.88 423.10,677.94 423.30,677.60 424.10,678.33 425.10,678.97 426.10,679.60 426.30,679.50 427.10,679.76 428.10,679.70 428.80,680.10 429.10,679.52 430.10,676.10 430.60,674.60 431.10,674.51 431.80,675.20 432.10,676.15 433.10,679.50 434.10,678.90 435.10,678.21 435.50,678.20 436.10,678.09 437.10,676.78 438.00,676.40 438.10,676.55 439.10,674.97 439.80,674.00 440.10,673.87 441.10,674.31 441.70,674.60 442.10,674.25 443.10,673.22 444.10,672.70 445.10,670.62 446.00,668.40 446.10,668.61 447.10,669.90 447.80,670.30 448.10,671.46 449.00,674.00 449.10,673.93 450.10,671.36 451.10,668.59 451.50,667.20 452.10,667.32 453.10,667.29 454.00,667.30 454.10,667.36 455.10,668.02 455.20,667.89 455.80,662.77 456.10,662.08 457.10,658.48 458.10,656.69 458.70,655.00 459.10,656.01 460.10,657.70 461.10,656.97 461.60,657.10 462.10,655.19 463.10,651.26 463.60,649.70 464.10,649.33 465.00,648.50 465.10,648.50 466.10,647.88 466.50,647.60 467.10,648.64 468.10,649.70 469.10,649.98 470.00,650.60 470.10,650.80 471.10,651.07 472.10,651.19 472.40,651.50 473.10,651.37 474.10,650.05 474.20,650.30 475.10,651.68 475.80,652.80 476.10,654.04 477.10,658.11 477.30,658.76 478.10,661.84 479.10,664.97 479.20,665.27 480.10,666.37 481.00,667.30 481.10,667.17 482.10,667.47 482.80,667.60 483.10,667.52 484.10,668.43 484.40,668.50 485.10,668.98 486.10,669.80 487.10,668.90 488.10,667.60 489.10,668.98 489.80,670.40 490.10,671.07 491.10,673.73 491.40,674.10 492.10,674.09 493.10,675.03 493.90,675.30 494.10,675.32 495.10,674.86 496.10,674.24 496.30,674.10 497.10,675.62 498.10,677.83 498.20,677.70 499.10,677.94 500.10,678.67 501.10,679.07 501.20,679.00 502.10,679.33 503.10,679.35 504.10,679.22 504.30,679.60 505.10,679.09 506.10,677.86 506.80,677.40 507.10,677.72 508.10,678.28 509.10,678.55 509.20,678.40 510.10,678.74 511.10,679.51 512.10,679.63 512.30,679.80 513.10,679.62 514.10,679.73 515.10,679.72 515.30,679.60 516.10,679.73 517.10,679.64 518.10,679.54 518.40,679.60 519.10,679.49 520.10,678.80 520.90,678.60 521.10,678.57 522.10,677.65 522.70,677.70 523.10,677.23 524.10,677.21 524.20,676.90 525.10,677.30 525.40,677.70" fill="none" stroke="#33a02c" stroke-width="1.3" stroke-linejoin="round" stroke-linecap="butt"/>
<polyline points="387.10,678.70 388.10,678.35 389.10,678.37 390.10,677.96 390.70,678.10 391.10,678.05 392.10,676.97 393.10,676.52 394.10,676.10 394.40,675.60 395.10,675.70 396.10,676.34 396.90,676.20 397.10,676.28 398.10,675.77 399.10,675.44 400.00,675.00 400.10,675.18 401.10,676.19 402.10,677.80 402.40,677.80 403.10,677.24 404.10,676.93 405.10,676.13 405.50,675.60 406.10,675.74 407.10,676.70 407.90,677.50 408.10,677.51 409.10,677.87 410.10,677.54 411.10,677.97 412.10,677.92 412.80,678.10 413.10,677.02 414.10,672.87 414.40,671.30 415.10,670.25 416.10,668.30 417.10,671.85 417.40,673.20 418.10,672.55 419.00,671.30 419.10,671.50 420.10,674.16 420.80,675.60 421.10,675.58 422.10,675.88 423.10,675.94 423.30,675.60 424.10,676.33 425.10,676.97 426.10,677.60 426.30,677.50 427.10,677.76 428.10,677.70 428.80,678.10 429.10,677.52 430.10,674.10 430.60,672.60 431.10,672.51 431.80,673.20 432.10,674.15 433.10,677.50 434.10,676.90 435.10,676.21 435.50,676.20 436.10,676.09 437.10,674.78 438.00,674.40 438.10,674.55 439.10,672.97 439.80,672.00 440.10,671.87 441.10,672.31 441.70,672.60 442.10,672.25 443.10,671.22 444.10,670.70 445.10,668.62 446.00,666.40 446.10,666.61 447.10,667.90 447.80,668.30 448.10,669.46 449.00,672.00 449.10,671.93 450.10,669.36 451.10,666.59 451.50,665.20 452.10,665.32 453.10,665.29 454.00,665.30 454.10,665.36 455.10,665.98 455.20,665.80 455.80,660.40 456.10,659.57 457.10,655.50 458.10,653.29 458.70,651.60 459.10,652.61 460.10,654.30 461.10,653.57 461.60,653.70 462.10,651.79 463.10,647.86 463.60,646.30 464.10,645.93 465.00,645.10 465.10,645.10 466.10,644.48 466.50,644.20 467.10,645.24 468.10,646.30 469.10,646.58 470.00,647.20 470.10,647.40 471.10,647.67 472.10,647.79 472.40,648.10 473.10,647.97 474.10,646.65 474.20,646.90 475.10,648.28 475.80,649.40 476.10,650.64 477.10,654.75 477.30,655.50 478.10,658.95 479.10,662.55 479.20,662.90 480.10,664.37 481.00,665.30 481.10,665.17 482.10,665.47 482.80,665.60 483.10,665.52 484.10,666.43 484.40,666.50 485.10,666.98 486.10,667.80 487.10,666.90 488.10,665.60 489.10,666.98 489.80,668.40 490.10,669.07 491.10,671.73 491.40,672.10 492.10,672.09 493.10,673.03 493.90,673.30 494.10,673.32 495.10,672.86 496.10,672.24 496.30,672.10 497.10,673.62 498.10,675.83 498.20,675.70 499.10,675.94 500.10,676.67 501.10,677.07 501.20,677.00 502.10,677.33 503.10,677.35 504.10,677.22 504.30,677.60 505.10,677.09 506.10,675.86 506.80,675.40 507.10,675.72 508.10,676.28 509.10,676.55 509.20,676.40 510.10,676.74 511.10,677.51 512.10,677.63 512.30,677.80 513.10,677.62 514.10,677.73 515.10,677.72 515.30,677.60 516.10,677.73 517.10,677.64 518.10,677.54 518.40,677.60 519.10,677.49 520.10,676.80 520.90,676.60 521.10,676.57 522.10,675.65 522.70,675.70 523.10,675.23 524.10,675.21 524.20,674.90 525.10,675.30 525.40,675.70" fill="none" stroke="#fb9a99" stroke-width="1.5" stroke-linejoin="round" stroke-linecap="butt"/>
</g>
<rect x="380.50" y="642.30" width="152.00" height="38.70" fill="none" stroke="#4a4a4a" stroke-width="1.05"/>
<rect x="532.50" y="642.30" width="17.00" height="38.70" fill="#d9d9d9" stroke="#333" stroke-width="1"/>
<text x="541.60" y="660.75" font-size="9.45" fill="#111" stroke="#111" stroke-width="0.15" text-anchor="middle" dominant-baseline="central" transform="rotate(90 541.60 660.75)">CHH</text>
<line x1="377.90" y1="650.70" x2="380.50" y2="650.70" stroke="#333" stroke-width="0.9"/>
<text x="375.05" y="653.70" font-size="9.45" text-anchor="end" font-weight="normal" fill="#111" stroke="#111" stroke-width="0.15" >0.075</text>
<line x1="377.90" y1="660.63" x2="380.50" y2="660.63" stroke="#333" stroke-width="0.9"/>
<text x="375.05" y="663.63" font-size="9.45" text-anchor="end" font-weight="normal" fill="#111" stroke="#111" stroke-width="0.15" >0.050</text>
<line x1="377.90" y1="670.57" x2="380.50" y2="670.57" stroke="#333" stroke-width="0.9"/>
<text x="375.05" y="673.57" font-size="9.45" text-anchor="end" font-weight="normal" fill="#111" stroke="#111" stroke-width="0.15" >0.025</text>
<line x1="377.90" y1="680.50" x2="380.50" y2="680.50" stroke="#333" stroke-width="0.9"/>
<text x="375.05" y="683.50" font-size="9.45" text-anchor="end" font-weight="normal" fill="#111" stroke="#111" stroke-width="0.15" >0.000</text>
<text x="343.6" y="619.3" font-size="9.45" fill="#111" stroke="#111" stroke-width="0.15" text-anchor="middle" transform="rotate(-90 343.6 619.3)">Methylation level</text>
<line x1="559.9" y1="572.10" x2="573.7" y2="572.10" stroke="#a6cee3" stroke-width="1.6"/>
<text x="577.90" y="575.00" font-size="8" text-anchor="start" font-weight="normal" fill="#111" stroke="#111" stroke-width="0.15" ><tspan>L</tspan><tspan font-style="italic">er</tspan> rep1</text>
<line x1="559.9" y1="593.00" x2="573.7" y2="593.00" stroke="#1f78b4" stroke-width="1.6"/>
<text x="577.90" y="595.90" font-size="8" text-anchor="start" font-weight="normal" fill="#111" stroke="#111" stroke-width="0.15" ><tspan>L</tspan><tspan font-style="italic">er</tspan> rep2</text>
<line x1="559.9" y1="613.90" x2="573.7" y2="613.90" stroke="#b2df8a" stroke-width="1.6"/>
<text x="577.90" y="612.00" font-size="8" text-anchor="start" font-weight="normal" fill="#111" stroke="#111" stroke-width="0.15" >T1 22aa Sun DRMcd</text>
<text x="577.90" y="621.80" font-size="8" text-anchor="start" font-weight="normal" fill="#111" stroke="#111" stroke-width="0.15" >noNLS SUP-1</text>
<line x1="559.9" y1="634.80" x2="573.7" y2="634.80" stroke="#33a02c" stroke-width="1.6"/>
<text x="577.90" y="632.90" font-size="8" text-anchor="start" font-weight="normal" fill="#111" stroke="#111" stroke-width="0.15" >T1 22aa Sun DRMcd</text>
<text x="577.90" y="642.70" font-size="8" text-anchor="start" font-weight="normal" fill="#111" stroke="#111" stroke-width="0.15" >noNLS SUP-2</text>
<line x1="559.9" y1="656.00" x2="573.7" y2="656.00" stroke="#fb9a99" stroke-width="1.6"/>
<text x="577.90" y="654.10" font-size="8" text-anchor="start" font-weight="normal" fill="#111" stroke="#111" stroke-width="0.15" >T1 22aa Sun DRMcd</text>
<text x="577.90" y="663.90" font-size="8" text-anchor="start" font-weight="normal" fill="#111" stroke="#111" stroke-width="0.15" >noNLS SUP-3</text>
</svg>
</body></html>
